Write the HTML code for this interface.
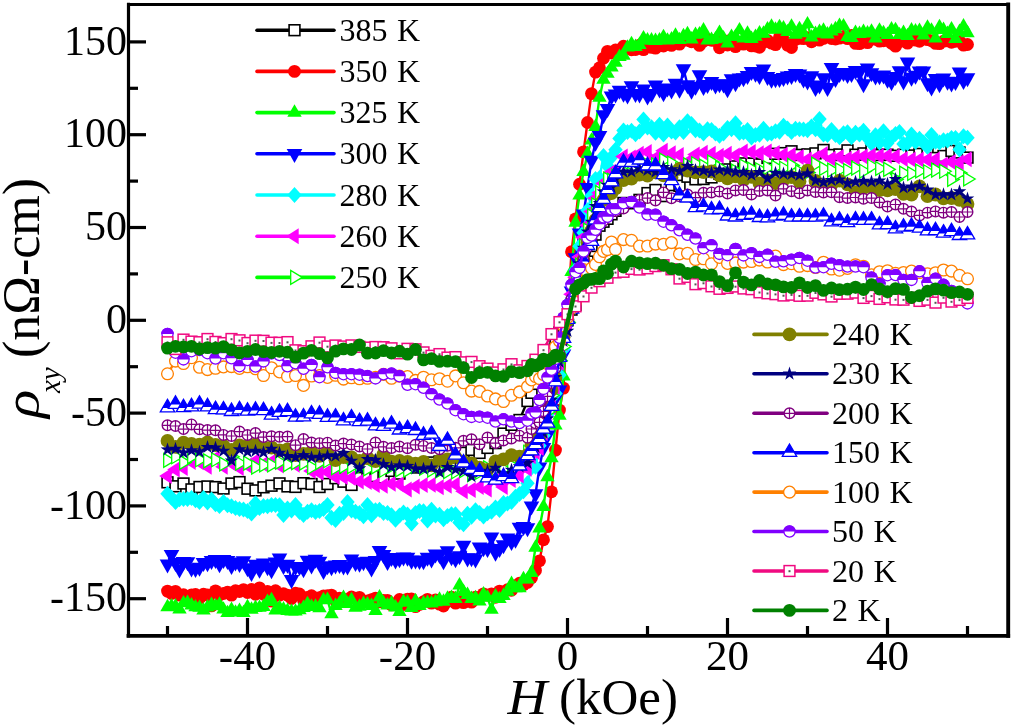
<!DOCTYPE html>
<html><head><meta charset="utf-8"><style>
html,body{margin:0;padding:0;background:#fff;}
svg{display:block;}
text{font-family:"Liberation Serif",serif;fill:#000;}
.tk{font-size:42px;}
.tkx{font-size:43px;}
.lg{font-size:32px;}
.ttl{font-size:50px;}
.ttly{font-size:52px;}
</style></head><body>
<svg width="1025" height="727" viewBox="0 0 1025 727">
<rect width="1025" height="727" fill="#fff"/>
<defs><clipPath id="cp"><rect x="130" y="6" width="876" height="628"/></clipPath></defs>
<g clip-path="url(#cp)">
<path d="M167.5 482.3L175.5 486.3L183.5 483.5L191.5 489.4L199.5 487.0L207.5 486.5L215.5 487.1L223.5 488.5L231.5 483.5L239.5 482.1L247.5 488.7L255.5 490.4L263.5 487.3L271.5 485.7L279.5 483.4L287.5 486.4L295.5 486.9L303.5 483.2L311.5 484.0L319.5 487.0L327.5 484.0L335.5 478.2L343.5 481.7L351.5 484.9L359.5 478.0L367.5 475.6L375.5 476.1L383.5 477.5L391.5 470.9L399.5 473.6L407.5 465.6L415.5 467.5L423.5 466.2L431.5 462.5L439.5 461.5L447.5 460.6L455.5 461.1L463.5 452.8L471.5 449.9L479.5 452.9L487.5 447.9L495.5 443.1L503.5 433.6L511.5 424.8L519.5 420.0L527.5 401.0L531.5 392.8L535.5 383.9L539.5 376.6L543.5 366.1L547.5 360.6L551.5 349.8L555.5 342.6L559.5 332.5L563.5 333.6L567.5 320.3L571.5 309.6L575.5 305.0L579.5 293.5L583.5 283.3L587.5 261.6L591.5 246.0L595.5 234.6L599.5 225.7L603.5 221.7L607.5 218.8L611.5 214.3L615.5 210.8L623.5 203.0L631.5 203.3L639.5 199.9L647.5 193.1L655.5 190.0L663.5 196.1L671.5 185.1L679.5 185.8L687.5 176.7L695.5 179.3L703.5 179.0L711.5 177.4L719.5 173.8L727.5 169.4L735.5 166.4L743.5 163.4L751.5 163.6L759.5 164.5L767.5 157.9L775.5 153.8L783.5 153.1L791.5 151.3L799.5 154.9L807.5 154.4L815.5 153.4L823.5 150.0L831.5 155.0L839.5 154.5L847.5 150.4L855.5 154.7L863.5 153.4L871.5 148.5L879.5 155.0L887.5 154.7L895.5 155.8L903.5 154.7L911.5 155.5L919.5 153.9L927.5 152.2L935.5 158.0L943.5 156.0L951.5 150.9L959.5 152.5L967.5 157.6" fill="none" stroke="#000000" stroke-width="2.4" stroke-linejoin="round"/>
<rect x="162.1" y="476.9" width="10.8" height="10.8" fill="#fff" stroke="#000000" stroke-width="1.6"/>
<rect x="170.1" y="480.9" width="10.8" height="10.8" fill="#fff" stroke="#000000" stroke-width="1.6"/>
<rect x="178.1" y="478.1" width="10.8" height="10.8" fill="#fff" stroke="#000000" stroke-width="1.6"/>
<rect x="186.1" y="484.0" width="10.8" height="10.8" fill="#fff" stroke="#000000" stroke-width="1.6"/>
<rect x="194.1" y="481.6" width="10.8" height="10.8" fill="#fff" stroke="#000000" stroke-width="1.6"/>
<rect x="202.1" y="481.1" width="10.8" height="10.8" fill="#fff" stroke="#000000" stroke-width="1.6"/>
<rect x="210.1" y="481.7" width="10.8" height="10.8" fill="#fff" stroke="#000000" stroke-width="1.6"/>
<rect x="218.1" y="483.1" width="10.8" height="10.8" fill="#fff" stroke="#000000" stroke-width="1.6"/>
<rect x="226.1" y="478.1" width="10.8" height="10.8" fill="#fff" stroke="#000000" stroke-width="1.6"/>
<rect x="234.1" y="476.7" width="10.8" height="10.8" fill="#fff" stroke="#000000" stroke-width="1.6"/>
<rect x="242.1" y="483.3" width="10.8" height="10.8" fill="#fff" stroke="#000000" stroke-width="1.6"/>
<rect x="250.1" y="485.0" width="10.8" height="10.8" fill="#fff" stroke="#000000" stroke-width="1.6"/>
<rect x="258.1" y="481.9" width="10.8" height="10.8" fill="#fff" stroke="#000000" stroke-width="1.6"/>
<rect x="266.1" y="480.3" width="10.8" height="10.8" fill="#fff" stroke="#000000" stroke-width="1.6"/>
<rect x="274.1" y="478.0" width="10.8" height="10.8" fill="#fff" stroke="#000000" stroke-width="1.6"/>
<rect x="282.1" y="481.0" width="10.8" height="10.8" fill="#fff" stroke="#000000" stroke-width="1.6"/>
<rect x="290.1" y="481.5" width="10.8" height="10.8" fill="#fff" stroke="#000000" stroke-width="1.6"/>
<rect x="298.1" y="477.8" width="10.8" height="10.8" fill="#fff" stroke="#000000" stroke-width="1.6"/>
<rect x="306.1" y="478.6" width="10.8" height="10.8" fill="#fff" stroke="#000000" stroke-width="1.6"/>
<rect x="314.1" y="481.6" width="10.8" height="10.8" fill="#fff" stroke="#000000" stroke-width="1.6"/>
<rect x="322.1" y="478.6" width="10.8" height="10.8" fill="#fff" stroke="#000000" stroke-width="1.6"/>
<rect x="330.1" y="472.8" width="10.8" height="10.8" fill="#fff" stroke="#000000" stroke-width="1.6"/>
<rect x="338.1" y="476.3" width="10.8" height="10.8" fill="#fff" stroke="#000000" stroke-width="1.6"/>
<rect x="346.1" y="479.5" width="10.8" height="10.8" fill="#fff" stroke="#000000" stroke-width="1.6"/>
<rect x="354.1" y="472.6" width="10.8" height="10.8" fill="#fff" stroke="#000000" stroke-width="1.6"/>
<rect x="362.1" y="470.2" width="10.8" height="10.8" fill="#fff" stroke="#000000" stroke-width="1.6"/>
<rect x="370.1" y="470.7" width="10.8" height="10.8" fill="#fff" stroke="#000000" stroke-width="1.6"/>
<rect x="378.1" y="472.1" width="10.8" height="10.8" fill="#fff" stroke="#000000" stroke-width="1.6"/>
<rect x="386.1" y="465.5" width="10.8" height="10.8" fill="#fff" stroke="#000000" stroke-width="1.6"/>
<rect x="394.1" y="468.2" width="10.8" height="10.8" fill="#fff" stroke="#000000" stroke-width="1.6"/>
<rect x="402.1" y="460.2" width="10.8" height="10.8" fill="#fff" stroke="#000000" stroke-width="1.6"/>
<rect x="410.1" y="462.1" width="10.8" height="10.8" fill="#fff" stroke="#000000" stroke-width="1.6"/>
<rect x="418.1" y="460.8" width="10.8" height="10.8" fill="#fff" stroke="#000000" stroke-width="1.6"/>
<rect x="426.1" y="457.1" width="10.8" height="10.8" fill="#fff" stroke="#000000" stroke-width="1.6"/>
<rect x="434.1" y="456.1" width="10.8" height="10.8" fill="#fff" stroke="#000000" stroke-width="1.6"/>
<rect x="442.1" y="455.2" width="10.8" height="10.8" fill="#fff" stroke="#000000" stroke-width="1.6"/>
<rect x="450.1" y="455.7" width="10.8" height="10.8" fill="#fff" stroke="#000000" stroke-width="1.6"/>
<rect x="458.1" y="447.4" width="10.8" height="10.8" fill="#fff" stroke="#000000" stroke-width="1.6"/>
<rect x="466.1" y="444.5" width="10.8" height="10.8" fill="#fff" stroke="#000000" stroke-width="1.6"/>
<rect x="474.1" y="447.5" width="10.8" height="10.8" fill="#fff" stroke="#000000" stroke-width="1.6"/>
<rect x="482.1" y="442.5" width="10.8" height="10.8" fill="#fff" stroke="#000000" stroke-width="1.6"/>
<rect x="490.1" y="437.7" width="10.8" height="10.8" fill="#fff" stroke="#000000" stroke-width="1.6"/>
<rect x="498.1" y="428.2" width="10.8" height="10.8" fill="#fff" stroke="#000000" stroke-width="1.6"/>
<rect x="506.1" y="419.4" width="10.8" height="10.8" fill="#fff" stroke="#000000" stroke-width="1.6"/>
<rect x="514.1" y="414.6" width="10.8" height="10.8" fill="#fff" stroke="#000000" stroke-width="1.6"/>
<rect x="522.1" y="395.6" width="10.8" height="10.8" fill="#fff" stroke="#000000" stroke-width="1.6"/>
<rect x="526.1" y="387.4" width="10.8" height="10.8" fill="#fff" stroke="#000000" stroke-width="1.6"/>
<rect x="530.1" y="378.5" width="10.8" height="10.8" fill="#fff" stroke="#000000" stroke-width="1.6"/>
<rect x="534.1" y="371.2" width="10.8" height="10.8" fill="#fff" stroke="#000000" stroke-width="1.6"/>
<rect x="538.1" y="360.7" width="10.8" height="10.8" fill="#fff" stroke="#000000" stroke-width="1.6"/>
<rect x="542.1" y="355.2" width="10.8" height="10.8" fill="#fff" stroke="#000000" stroke-width="1.6"/>
<rect x="546.1" y="344.4" width="10.8" height="10.8" fill="#fff" stroke="#000000" stroke-width="1.6"/>
<rect x="550.1" y="337.2" width="10.8" height="10.8" fill="#fff" stroke="#000000" stroke-width="1.6"/>
<rect x="554.1" y="327.1" width="10.8" height="10.8" fill="#fff" stroke="#000000" stroke-width="1.6"/>
<rect x="558.1" y="328.2" width="10.8" height="10.8" fill="#fff" stroke="#000000" stroke-width="1.6"/>
<rect x="562.1" y="314.9" width="10.8" height="10.8" fill="#fff" stroke="#000000" stroke-width="1.6"/>
<rect x="566.1" y="304.2" width="10.8" height="10.8" fill="#fff" stroke="#000000" stroke-width="1.6"/>
<rect x="570.1" y="299.6" width="10.8" height="10.8" fill="#fff" stroke="#000000" stroke-width="1.6"/>
<rect x="574.1" y="288.1" width="10.8" height="10.8" fill="#fff" stroke="#000000" stroke-width="1.6"/>
<rect x="578.1" y="277.9" width="10.8" height="10.8" fill="#fff" stroke="#000000" stroke-width="1.6"/>
<rect x="582.1" y="256.2" width="10.8" height="10.8" fill="#fff" stroke="#000000" stroke-width="1.6"/>
<rect x="586.1" y="240.6" width="10.8" height="10.8" fill="#fff" stroke="#000000" stroke-width="1.6"/>
<rect x="590.1" y="229.2" width="10.8" height="10.8" fill="#fff" stroke="#000000" stroke-width="1.6"/>
<rect x="594.1" y="220.3" width="10.8" height="10.8" fill="#fff" stroke="#000000" stroke-width="1.6"/>
<rect x="598.1" y="216.3" width="10.8" height="10.8" fill="#fff" stroke="#000000" stroke-width="1.6"/>
<rect x="602.1" y="213.4" width="10.8" height="10.8" fill="#fff" stroke="#000000" stroke-width="1.6"/>
<rect x="606.1" y="208.9" width="10.8" height="10.8" fill="#fff" stroke="#000000" stroke-width="1.6"/>
<rect x="610.1" y="205.4" width="10.8" height="10.8" fill="#fff" stroke="#000000" stroke-width="1.6"/>
<rect x="618.1" y="197.6" width="10.8" height="10.8" fill="#fff" stroke="#000000" stroke-width="1.6"/>
<rect x="626.1" y="197.9" width="10.8" height="10.8" fill="#fff" stroke="#000000" stroke-width="1.6"/>
<rect x="634.1" y="194.5" width="10.8" height="10.8" fill="#fff" stroke="#000000" stroke-width="1.6"/>
<rect x="642.1" y="187.7" width="10.8" height="10.8" fill="#fff" stroke="#000000" stroke-width="1.6"/>
<rect x="650.1" y="184.6" width="10.8" height="10.8" fill="#fff" stroke="#000000" stroke-width="1.6"/>
<rect x="658.1" y="190.7" width="10.8" height="10.8" fill="#fff" stroke="#000000" stroke-width="1.6"/>
<rect x="666.1" y="179.7" width="10.8" height="10.8" fill="#fff" stroke="#000000" stroke-width="1.6"/>
<rect x="674.1" y="180.4" width="10.8" height="10.8" fill="#fff" stroke="#000000" stroke-width="1.6"/>
<rect x="682.1" y="171.3" width="10.8" height="10.8" fill="#fff" stroke="#000000" stroke-width="1.6"/>
<rect x="690.1" y="173.9" width="10.8" height="10.8" fill="#fff" stroke="#000000" stroke-width="1.6"/>
<rect x="698.1" y="173.6" width="10.8" height="10.8" fill="#fff" stroke="#000000" stroke-width="1.6"/>
<rect x="706.1" y="172.0" width="10.8" height="10.8" fill="#fff" stroke="#000000" stroke-width="1.6"/>
<rect x="714.1" y="168.4" width="10.8" height="10.8" fill="#fff" stroke="#000000" stroke-width="1.6"/>
<rect x="722.1" y="164.0" width="10.8" height="10.8" fill="#fff" stroke="#000000" stroke-width="1.6"/>
<rect x="730.1" y="161.0" width="10.8" height="10.8" fill="#fff" stroke="#000000" stroke-width="1.6"/>
<rect x="738.1" y="158.0" width="10.8" height="10.8" fill="#fff" stroke="#000000" stroke-width="1.6"/>
<rect x="746.1" y="158.2" width="10.8" height="10.8" fill="#fff" stroke="#000000" stroke-width="1.6"/>
<rect x="754.1" y="159.1" width="10.8" height="10.8" fill="#fff" stroke="#000000" stroke-width="1.6"/>
<rect x="762.1" y="152.5" width="10.8" height="10.8" fill="#fff" stroke="#000000" stroke-width="1.6"/>
<rect x="770.1" y="148.4" width="10.8" height="10.8" fill="#fff" stroke="#000000" stroke-width="1.6"/>
<rect x="778.1" y="147.7" width="10.8" height="10.8" fill="#fff" stroke="#000000" stroke-width="1.6"/>
<rect x="786.1" y="145.9" width="10.8" height="10.8" fill="#fff" stroke="#000000" stroke-width="1.6"/>
<rect x="794.1" y="149.5" width="10.8" height="10.8" fill="#fff" stroke="#000000" stroke-width="1.6"/>
<rect x="802.1" y="149.0" width="10.8" height="10.8" fill="#fff" stroke="#000000" stroke-width="1.6"/>
<rect x="810.1" y="148.0" width="10.8" height="10.8" fill="#fff" stroke="#000000" stroke-width="1.6"/>
<rect x="818.1" y="144.6" width="10.8" height="10.8" fill="#fff" stroke="#000000" stroke-width="1.6"/>
<rect x="826.1" y="149.6" width="10.8" height="10.8" fill="#fff" stroke="#000000" stroke-width="1.6"/>
<rect x="834.1" y="149.1" width="10.8" height="10.8" fill="#fff" stroke="#000000" stroke-width="1.6"/>
<rect x="842.1" y="145.0" width="10.8" height="10.8" fill="#fff" stroke="#000000" stroke-width="1.6"/>
<rect x="850.1" y="149.3" width="10.8" height="10.8" fill="#fff" stroke="#000000" stroke-width="1.6"/>
<rect x="858.1" y="148.0" width="10.8" height="10.8" fill="#fff" stroke="#000000" stroke-width="1.6"/>
<rect x="866.1" y="143.1" width="10.8" height="10.8" fill="#fff" stroke="#000000" stroke-width="1.6"/>
<rect x="874.1" y="149.6" width="10.8" height="10.8" fill="#fff" stroke="#000000" stroke-width="1.6"/>
<rect x="882.1" y="149.3" width="10.8" height="10.8" fill="#fff" stroke="#000000" stroke-width="1.6"/>
<rect x="890.1" y="150.4" width="10.8" height="10.8" fill="#fff" stroke="#000000" stroke-width="1.6"/>
<rect x="898.1" y="149.3" width="10.8" height="10.8" fill="#fff" stroke="#000000" stroke-width="1.6"/>
<rect x="906.1" y="150.1" width="10.8" height="10.8" fill="#fff" stroke="#000000" stroke-width="1.6"/>
<rect x="914.1" y="148.5" width="10.8" height="10.8" fill="#fff" stroke="#000000" stroke-width="1.6"/>
<rect x="922.1" y="146.8" width="10.8" height="10.8" fill="#fff" stroke="#000000" stroke-width="1.6"/>
<rect x="930.1" y="152.6" width="10.8" height="10.8" fill="#fff" stroke="#000000" stroke-width="1.6"/>
<rect x="938.1" y="150.6" width="10.8" height="10.8" fill="#fff" stroke="#000000" stroke-width="1.6"/>
<rect x="946.1" y="145.5" width="10.8" height="10.8" fill="#fff" stroke="#000000" stroke-width="1.6"/>
<rect x="954.1" y="147.1" width="10.8" height="10.8" fill="#fff" stroke="#000000" stroke-width="1.6"/>
<rect x="962.1" y="152.2" width="10.8" height="10.8" fill="#fff" stroke="#000000" stroke-width="1.6"/>
<path d="M167.5 591.1L171.5 593.5L175.5 591.3L179.5 595.1L183.5 594.7L187.5 597.9L191.5 595.0L195.5 594.5L199.5 598.2L203.5 594.2L207.5 595.0L211.5 605.9L215.5 590.8L219.5 595.0L223.5 593.5L227.5 592.2L231.5 595.1L235.5 590.7L239.5 591.5L243.5 589.6L247.5 592.5L251.5 589.5L255.5 594.3L259.5 587.8L263.5 594.3L267.5 591.3L271.5 601.1L275.5 590.7L279.5 595.1L283.5 593.7L287.5 595.1L291.5 598.5L295.5 593.2L299.5 594.0L303.5 600.3L307.5 597.4L311.5 595.7L315.5 603.9L319.5 597.6L323.5 596.0L327.5 595.6L331.5 595.1L335.5 600.7L339.5 598.2L343.5 599.8L347.5 599.4L351.5 597.0L355.5 598.2L359.5 597.3L363.5 601.8L367.5 600.9L371.5 599.6L375.5 598.1L379.5 601.9L383.5 600.4L387.5 600.4L391.5 604.9L395.5 603.6L399.5 599.5L403.5 604.6L407.5 599.1L411.5 598.8L415.5 606.6L419.5 604.4L423.5 601.7L427.5 599.3L431.5 603.2L435.5 600.0L439.5 604.1L443.5 606.0L447.5 601.4L451.5 597.2L455.5 603.1L459.5 601.9L463.5 602.7L467.5 597.5L471.5 602.2L475.5 597.2L479.5 597.8L483.5 593.9L487.5 595.2L491.5 593.9L495.5 597.3L499.5 591.1L503.5 592.3L507.5 589.7L511.5 590.3L515.5 585.7L519.5 583.2L523.5 584.6L527.5 582.4L531.5 577.7L535.5 570.4L539.5 560.8L543.5 539.8L547.5 526.6L551.5 491.8L555.5 450.1L559.5 410.1L563.5 388.1L567.5 316.5L571.5 251.7L575.5 218.9L579.5 184.2L583.5 151.9L587.5 122.5L591.5 93.6L595.5 72.1L599.5 67.7L603.5 58.2L607.5 51.4L611.5 53.0L615.5 50.0L619.5 49.8L623.5 46.2L627.5 48.5L631.5 49.8L635.5 49.5L639.5 45.2L643.5 49.7L647.5 43.3L651.5 47.4L655.5 48.2L659.5 42.5L663.5 46.0L667.5 44.2L671.5 45.4L675.5 42.0L679.5 44.1L683.5 40.1L687.5 40.3L691.5 41.8L695.5 39.0L699.5 45.4L703.5 41.1L707.5 39.5L711.5 40.3L715.5 40.6L719.5 47.8L723.5 40.3L727.5 45.0L731.5 39.5L735.5 46.6L739.5 42.9L743.5 44.2L747.5 43.0L751.5 45.9L755.5 46.0L759.5 47.3L763.5 42.2L767.5 40.3L771.5 43.2L775.5 44.7L779.5 36.7L783.5 39.7L787.5 45.1L791.5 47.5L795.5 39.5L799.5 38.3L803.5 38.6L807.5 37.6L811.5 41.8L815.5 39.4L819.5 40.2L823.5 38.4L827.5 36.3L831.5 38.5L835.5 39.0L839.5 38.2L843.5 36.5L847.5 38.7L851.5 35.4L855.5 43.4L859.5 43.6L863.5 41.9L867.5 42.7L871.5 38.7L875.5 39.3L879.5 41.2L883.5 40.8L887.5 39.6L891.5 43.3L895.5 46.2L899.5 41.7L903.5 37.4L907.5 43.1L911.5 37.3L915.5 40.1L919.5 41.3L923.5 35.7L927.5 39.6L931.5 40.8L935.5 43.4L939.5 43.7L943.5 41.2L947.5 40.9L951.5 42.3L955.5 41.3L959.5 41.0L963.5 45.2L967.5 44.5" fill="none" stroke="#ff0000" stroke-width="2.4" stroke-linejoin="round"/>
<circle cx="167.5" cy="591.1" r="6.4" fill="#ff0000"/>
<circle cx="171.5" cy="593.5" r="6.4" fill="#ff0000"/>
<circle cx="175.5" cy="591.3" r="6.4" fill="#ff0000"/>
<circle cx="179.5" cy="595.1" r="6.4" fill="#ff0000"/>
<circle cx="183.5" cy="594.7" r="6.4" fill="#ff0000"/>
<circle cx="187.5" cy="597.9" r="6.4" fill="#ff0000"/>
<circle cx="191.5" cy="595.0" r="6.4" fill="#ff0000"/>
<circle cx="195.5" cy="594.5" r="6.4" fill="#ff0000"/>
<circle cx="199.5" cy="598.2" r="6.4" fill="#ff0000"/>
<circle cx="203.5" cy="594.2" r="6.4" fill="#ff0000"/>
<circle cx="207.5" cy="595.0" r="6.4" fill="#ff0000"/>
<circle cx="211.5" cy="605.9" r="6.4" fill="#ff0000"/>
<circle cx="215.5" cy="590.8" r="6.4" fill="#ff0000"/>
<circle cx="219.5" cy="595.0" r="6.4" fill="#ff0000"/>
<circle cx="223.5" cy="593.5" r="6.4" fill="#ff0000"/>
<circle cx="227.5" cy="592.2" r="6.4" fill="#ff0000"/>
<circle cx="231.5" cy="595.1" r="6.4" fill="#ff0000"/>
<circle cx="235.5" cy="590.7" r="6.4" fill="#ff0000"/>
<circle cx="239.5" cy="591.5" r="6.4" fill="#ff0000"/>
<circle cx="243.5" cy="589.6" r="6.4" fill="#ff0000"/>
<circle cx="247.5" cy="592.5" r="6.4" fill="#ff0000"/>
<circle cx="251.5" cy="589.5" r="6.4" fill="#ff0000"/>
<circle cx="255.5" cy="594.3" r="6.4" fill="#ff0000"/>
<circle cx="259.5" cy="587.8" r="6.4" fill="#ff0000"/>
<circle cx="263.5" cy="594.3" r="6.4" fill="#ff0000"/>
<circle cx="267.5" cy="591.3" r="6.4" fill="#ff0000"/>
<circle cx="271.5" cy="601.1" r="6.4" fill="#ff0000"/>
<circle cx="275.5" cy="590.7" r="6.4" fill="#ff0000"/>
<circle cx="279.5" cy="595.1" r="6.4" fill="#ff0000"/>
<circle cx="283.5" cy="593.7" r="6.4" fill="#ff0000"/>
<circle cx="287.5" cy="595.1" r="6.4" fill="#ff0000"/>
<circle cx="291.5" cy="598.5" r="6.4" fill="#ff0000"/>
<circle cx="295.5" cy="593.2" r="6.4" fill="#ff0000"/>
<circle cx="299.5" cy="594.0" r="6.4" fill="#ff0000"/>
<circle cx="303.5" cy="600.3" r="6.4" fill="#ff0000"/>
<circle cx="307.5" cy="597.4" r="6.4" fill="#ff0000"/>
<circle cx="311.5" cy="595.7" r="6.4" fill="#ff0000"/>
<circle cx="315.5" cy="603.9" r="6.4" fill="#ff0000"/>
<circle cx="319.5" cy="597.6" r="6.4" fill="#ff0000"/>
<circle cx="323.5" cy="596.0" r="6.4" fill="#ff0000"/>
<circle cx="327.5" cy="595.6" r="6.4" fill="#ff0000"/>
<circle cx="331.5" cy="595.1" r="6.4" fill="#ff0000"/>
<circle cx="335.5" cy="600.7" r="6.4" fill="#ff0000"/>
<circle cx="339.5" cy="598.2" r="6.4" fill="#ff0000"/>
<circle cx="343.5" cy="599.8" r="6.4" fill="#ff0000"/>
<circle cx="347.5" cy="599.4" r="6.4" fill="#ff0000"/>
<circle cx="351.5" cy="597.0" r="6.4" fill="#ff0000"/>
<circle cx="355.5" cy="598.2" r="6.4" fill="#ff0000"/>
<circle cx="359.5" cy="597.3" r="6.4" fill="#ff0000"/>
<circle cx="363.5" cy="601.8" r="6.4" fill="#ff0000"/>
<circle cx="367.5" cy="600.9" r="6.4" fill="#ff0000"/>
<circle cx="371.5" cy="599.6" r="6.4" fill="#ff0000"/>
<circle cx="375.5" cy="598.1" r="6.4" fill="#ff0000"/>
<circle cx="379.5" cy="601.9" r="6.4" fill="#ff0000"/>
<circle cx="383.5" cy="600.4" r="6.4" fill="#ff0000"/>
<circle cx="387.5" cy="600.4" r="6.4" fill="#ff0000"/>
<circle cx="391.5" cy="604.9" r="6.4" fill="#ff0000"/>
<circle cx="395.5" cy="603.6" r="6.4" fill="#ff0000"/>
<circle cx="399.5" cy="599.5" r="6.4" fill="#ff0000"/>
<circle cx="403.5" cy="604.6" r="6.4" fill="#ff0000"/>
<circle cx="407.5" cy="599.1" r="6.4" fill="#ff0000"/>
<circle cx="411.5" cy="598.8" r="6.4" fill="#ff0000"/>
<circle cx="415.5" cy="606.6" r="6.4" fill="#ff0000"/>
<circle cx="419.5" cy="604.4" r="6.4" fill="#ff0000"/>
<circle cx="423.5" cy="601.7" r="6.4" fill="#ff0000"/>
<circle cx="427.5" cy="599.3" r="6.4" fill="#ff0000"/>
<circle cx="431.5" cy="603.2" r="6.4" fill="#ff0000"/>
<circle cx="435.5" cy="600.0" r="6.4" fill="#ff0000"/>
<circle cx="439.5" cy="604.1" r="6.4" fill="#ff0000"/>
<circle cx="443.5" cy="606.0" r="6.4" fill="#ff0000"/>
<circle cx="447.5" cy="601.4" r="6.4" fill="#ff0000"/>
<circle cx="451.5" cy="597.2" r="6.4" fill="#ff0000"/>
<circle cx="455.5" cy="603.1" r="6.4" fill="#ff0000"/>
<circle cx="459.5" cy="601.9" r="6.4" fill="#ff0000"/>
<circle cx="463.5" cy="602.7" r="6.4" fill="#ff0000"/>
<circle cx="467.5" cy="597.5" r="6.4" fill="#ff0000"/>
<circle cx="471.5" cy="602.2" r="6.4" fill="#ff0000"/>
<circle cx="475.5" cy="597.2" r="6.4" fill="#ff0000"/>
<circle cx="479.5" cy="597.8" r="6.4" fill="#ff0000"/>
<circle cx="483.5" cy="593.9" r="6.4" fill="#ff0000"/>
<circle cx="487.5" cy="595.2" r="6.4" fill="#ff0000"/>
<circle cx="491.5" cy="593.9" r="6.4" fill="#ff0000"/>
<circle cx="495.5" cy="597.3" r="6.4" fill="#ff0000"/>
<circle cx="499.5" cy="591.1" r="6.4" fill="#ff0000"/>
<circle cx="503.5" cy="592.3" r="6.4" fill="#ff0000"/>
<circle cx="507.5" cy="589.7" r="6.4" fill="#ff0000"/>
<circle cx="511.5" cy="590.3" r="6.4" fill="#ff0000"/>
<circle cx="515.5" cy="585.7" r="6.4" fill="#ff0000"/>
<circle cx="519.5" cy="583.2" r="6.4" fill="#ff0000"/>
<circle cx="523.5" cy="584.6" r="6.4" fill="#ff0000"/>
<circle cx="527.5" cy="582.4" r="6.4" fill="#ff0000"/>
<circle cx="531.5" cy="577.7" r="6.4" fill="#ff0000"/>
<circle cx="535.5" cy="570.4" r="6.4" fill="#ff0000"/>
<circle cx="539.5" cy="560.8" r="6.4" fill="#ff0000"/>
<circle cx="543.5" cy="539.8" r="6.4" fill="#ff0000"/>
<circle cx="547.5" cy="526.6" r="6.4" fill="#ff0000"/>
<circle cx="551.5" cy="491.8" r="6.4" fill="#ff0000"/>
<circle cx="555.5" cy="450.1" r="6.4" fill="#ff0000"/>
<circle cx="559.5" cy="410.1" r="6.4" fill="#ff0000"/>
<circle cx="563.5" cy="388.1" r="6.4" fill="#ff0000"/>
<circle cx="567.5" cy="316.5" r="6.4" fill="#ff0000"/>
<circle cx="571.5" cy="251.7" r="6.4" fill="#ff0000"/>
<circle cx="575.5" cy="218.9" r="6.4" fill="#ff0000"/>
<circle cx="579.5" cy="184.2" r="6.4" fill="#ff0000"/>
<circle cx="583.5" cy="151.9" r="6.4" fill="#ff0000"/>
<circle cx="587.5" cy="122.5" r="6.4" fill="#ff0000"/>
<circle cx="591.5" cy="93.6" r="6.4" fill="#ff0000"/>
<circle cx="595.5" cy="72.1" r="6.4" fill="#ff0000"/>
<circle cx="599.5" cy="67.7" r="6.4" fill="#ff0000"/>
<circle cx="603.5" cy="58.2" r="6.4" fill="#ff0000"/>
<circle cx="607.5" cy="51.4" r="6.4" fill="#ff0000"/>
<circle cx="611.5" cy="53.0" r="6.4" fill="#ff0000"/>
<circle cx="615.5" cy="50.0" r="6.4" fill="#ff0000"/>
<circle cx="619.5" cy="49.8" r="6.4" fill="#ff0000"/>
<circle cx="623.5" cy="46.2" r="6.4" fill="#ff0000"/>
<circle cx="627.5" cy="48.5" r="6.4" fill="#ff0000"/>
<circle cx="631.5" cy="49.8" r="6.4" fill="#ff0000"/>
<circle cx="635.5" cy="49.5" r="6.4" fill="#ff0000"/>
<circle cx="639.5" cy="45.2" r="6.4" fill="#ff0000"/>
<circle cx="643.5" cy="49.7" r="6.4" fill="#ff0000"/>
<circle cx="647.5" cy="43.3" r="6.4" fill="#ff0000"/>
<circle cx="651.5" cy="47.4" r="6.4" fill="#ff0000"/>
<circle cx="655.5" cy="48.2" r="6.4" fill="#ff0000"/>
<circle cx="659.5" cy="42.5" r="6.4" fill="#ff0000"/>
<circle cx="663.5" cy="46.0" r="6.4" fill="#ff0000"/>
<circle cx="667.5" cy="44.2" r="6.4" fill="#ff0000"/>
<circle cx="671.5" cy="45.4" r="6.4" fill="#ff0000"/>
<circle cx="675.5" cy="42.0" r="6.4" fill="#ff0000"/>
<circle cx="679.5" cy="44.1" r="6.4" fill="#ff0000"/>
<circle cx="683.5" cy="40.1" r="6.4" fill="#ff0000"/>
<circle cx="687.5" cy="40.3" r="6.4" fill="#ff0000"/>
<circle cx="691.5" cy="41.8" r="6.4" fill="#ff0000"/>
<circle cx="695.5" cy="39.0" r="6.4" fill="#ff0000"/>
<circle cx="699.5" cy="45.4" r="6.4" fill="#ff0000"/>
<circle cx="703.5" cy="41.1" r="6.4" fill="#ff0000"/>
<circle cx="707.5" cy="39.5" r="6.4" fill="#ff0000"/>
<circle cx="711.5" cy="40.3" r="6.4" fill="#ff0000"/>
<circle cx="715.5" cy="40.6" r="6.4" fill="#ff0000"/>
<circle cx="719.5" cy="47.8" r="6.4" fill="#ff0000"/>
<circle cx="723.5" cy="40.3" r="6.4" fill="#ff0000"/>
<circle cx="727.5" cy="45.0" r="6.4" fill="#ff0000"/>
<circle cx="731.5" cy="39.5" r="6.4" fill="#ff0000"/>
<circle cx="735.5" cy="46.6" r="6.4" fill="#ff0000"/>
<circle cx="739.5" cy="42.9" r="6.4" fill="#ff0000"/>
<circle cx="743.5" cy="44.2" r="6.4" fill="#ff0000"/>
<circle cx="747.5" cy="43.0" r="6.4" fill="#ff0000"/>
<circle cx="751.5" cy="45.9" r="6.4" fill="#ff0000"/>
<circle cx="755.5" cy="46.0" r="6.4" fill="#ff0000"/>
<circle cx="759.5" cy="47.3" r="6.4" fill="#ff0000"/>
<circle cx="763.5" cy="42.2" r="6.4" fill="#ff0000"/>
<circle cx="767.5" cy="40.3" r="6.4" fill="#ff0000"/>
<circle cx="771.5" cy="43.2" r="6.4" fill="#ff0000"/>
<circle cx="775.5" cy="44.7" r="6.4" fill="#ff0000"/>
<circle cx="779.5" cy="36.7" r="6.4" fill="#ff0000"/>
<circle cx="783.5" cy="39.7" r="6.4" fill="#ff0000"/>
<circle cx="787.5" cy="45.1" r="6.4" fill="#ff0000"/>
<circle cx="791.5" cy="47.5" r="6.4" fill="#ff0000"/>
<circle cx="795.5" cy="39.5" r="6.4" fill="#ff0000"/>
<circle cx="799.5" cy="38.3" r="6.4" fill="#ff0000"/>
<circle cx="803.5" cy="38.6" r="6.4" fill="#ff0000"/>
<circle cx="807.5" cy="37.6" r="6.4" fill="#ff0000"/>
<circle cx="811.5" cy="41.8" r="6.4" fill="#ff0000"/>
<circle cx="815.5" cy="39.4" r="6.4" fill="#ff0000"/>
<circle cx="819.5" cy="40.2" r="6.4" fill="#ff0000"/>
<circle cx="823.5" cy="38.4" r="6.4" fill="#ff0000"/>
<circle cx="827.5" cy="36.3" r="6.4" fill="#ff0000"/>
<circle cx="831.5" cy="38.5" r="6.4" fill="#ff0000"/>
<circle cx="835.5" cy="39.0" r="6.4" fill="#ff0000"/>
<circle cx="839.5" cy="38.2" r="6.4" fill="#ff0000"/>
<circle cx="843.5" cy="36.5" r="6.4" fill="#ff0000"/>
<circle cx="847.5" cy="38.7" r="6.4" fill="#ff0000"/>
<circle cx="851.5" cy="35.4" r="6.4" fill="#ff0000"/>
<circle cx="855.5" cy="43.4" r="6.4" fill="#ff0000"/>
<circle cx="859.5" cy="43.6" r="6.4" fill="#ff0000"/>
<circle cx="863.5" cy="41.9" r="6.4" fill="#ff0000"/>
<circle cx="867.5" cy="42.7" r="6.4" fill="#ff0000"/>
<circle cx="871.5" cy="38.7" r="6.4" fill="#ff0000"/>
<circle cx="875.5" cy="39.3" r="6.4" fill="#ff0000"/>
<circle cx="879.5" cy="41.2" r="6.4" fill="#ff0000"/>
<circle cx="883.5" cy="40.8" r="6.4" fill="#ff0000"/>
<circle cx="887.5" cy="39.6" r="6.4" fill="#ff0000"/>
<circle cx="891.5" cy="43.3" r="6.4" fill="#ff0000"/>
<circle cx="895.5" cy="46.2" r="6.4" fill="#ff0000"/>
<circle cx="899.5" cy="41.7" r="6.4" fill="#ff0000"/>
<circle cx="903.5" cy="37.4" r="6.4" fill="#ff0000"/>
<circle cx="907.5" cy="43.1" r="6.4" fill="#ff0000"/>
<circle cx="911.5" cy="37.3" r="6.4" fill="#ff0000"/>
<circle cx="915.5" cy="40.1" r="6.4" fill="#ff0000"/>
<circle cx="919.5" cy="41.3" r="6.4" fill="#ff0000"/>
<circle cx="923.5" cy="35.7" r="6.4" fill="#ff0000"/>
<circle cx="927.5" cy="39.6" r="6.4" fill="#ff0000"/>
<circle cx="931.5" cy="40.8" r="6.4" fill="#ff0000"/>
<circle cx="935.5" cy="43.4" r="6.4" fill="#ff0000"/>
<circle cx="939.5" cy="43.7" r="6.4" fill="#ff0000"/>
<circle cx="943.5" cy="41.2" r="6.4" fill="#ff0000"/>
<circle cx="947.5" cy="40.9" r="6.4" fill="#ff0000"/>
<circle cx="951.5" cy="42.3" r="6.4" fill="#ff0000"/>
<circle cx="955.5" cy="41.3" r="6.4" fill="#ff0000"/>
<circle cx="959.5" cy="41.0" r="6.4" fill="#ff0000"/>
<circle cx="963.5" cy="45.2" r="6.4" fill="#ff0000"/>
<circle cx="967.5" cy="44.5" r="6.4" fill="#ff0000"/>
<path d="M167.5 607.0L171.5 606.2L175.5 606.2L179.5 609.5L183.5 603.2L187.5 602.9L191.5 605.4L195.5 607.1L199.5 607.7L203.5 610.4L207.5 607.4L211.5 604.7L215.5 606.1L219.5 604.6L223.5 609.5L227.5 613.0L231.5 609.7L235.5 612.5L239.5 610.7L243.5 613.0L247.5 607.1L251.5 609.6L255.5 607.9L259.5 607.7L263.5 606.8L267.5 601.9L271.5 600.1L275.5 610.4L279.5 607.7L283.5 609.3L287.5 610.9L291.5 611.4L295.5 611.5L299.5 610.2L303.5 607.9L307.5 604.0L311.5 606.9L315.5 606.4L319.5 608.0L323.5 600.1L327.5 599.7L331.5 614.1L335.5 605.7L339.5 603.5L343.5 597.6L347.5 603.8L351.5 600.1L355.5 607.6L359.5 606.6L363.5 603.9L367.5 604.2L371.5 605.8L375.5 610.7L379.5 597.2L383.5 603.1L387.5 605.2L391.5 603.4L395.5 607.4L399.5 612.0L403.5 601.9L407.5 602.5L411.5 607.9L415.5 601.1L419.5 605.7L423.5 603.4L427.5 602.8L431.5 603.2L435.5 602.1L439.5 599.6L443.5 601.6L447.5 598.5L451.5 597.8L455.5 598.9L459.5 585.3L463.5 591.9L467.5 594.8L471.5 598.9L475.5 598.0L479.5 601.4L483.5 594.4L487.5 597.5L491.5 609.7L495.5 596.2L499.5 598.9L503.5 595.9L507.5 591.6L511.5 583.9L515.5 588.2L519.5 588.1L523.5 579.1L527.5 579.5L531.5 572.9L535.5 547.5L539.5 528.3L543.5 506.8L547.5 477.1L551.5 458.1L555.5 425.4L559.5 415.6L563.5 376.2L567.5 318.9L571.5 271.7L575.5 222.5L579.5 195.4L583.5 171.9L587.5 153.9L591.5 140.5L595.5 126.9L599.5 97.7L603.5 79.6L607.5 73.7L611.5 67.5L615.5 62.6L619.5 56.8L623.5 55.6L627.5 47.5L631.5 44.0L635.5 46.8L639.5 44.8L643.5 38.1L647.5 40.4L651.5 40.4L655.5 40.7L659.5 40.2L663.5 37.0L667.5 40.5L671.5 39.3L675.5 35.6L679.5 39.9L683.5 36.1L687.5 34.1L691.5 39.3L695.5 34.6L699.5 34.2L703.5 30.3L707.5 40.4L711.5 39.8L715.5 39.2L719.5 32.7L723.5 38.3L727.5 43.3L731.5 36.6L735.5 36.7L739.5 30.2L743.5 38.2L747.5 33.5L751.5 38.9L755.5 36.7L759.5 33.2L763.5 33.5L767.5 29.3L771.5 26.5L775.5 29.5L779.5 26.9L783.5 28.2L787.5 31.9L791.5 26.5L795.5 34.6L799.5 28.9L803.5 33.1L807.5 24.1L811.5 37.4L815.5 33.7L819.5 31.8L823.5 30.6L827.5 34.4L831.5 31.3L835.5 29.0L839.5 25.7L843.5 26.1L847.5 36.8L851.5 38.0L855.5 32.7L859.5 33.8L863.5 31.8L867.5 33.3L871.5 31.5L875.5 38.4L879.5 30.4L883.5 33.1L887.5 34.7L891.5 29.3L895.5 30.0L899.5 35.0L903.5 32.8L907.5 36.0L911.5 30.2L915.5 31.4L919.5 30.7L923.5 35.4L927.5 27.5L931.5 30.4L935.5 38.5L939.5 27.0L943.5 29.8L947.5 33.8L951.5 29.2L955.5 38.9L959.5 31.9L963.5 26.3L967.5 33.0" fill="none" stroke="#00ff00" stroke-width="2.4" stroke-linejoin="round"/>
<path d="M167.5 598.8L174.7 611.2L160.3 611.2Z" fill="#00ff00"/>
<path d="M171.5 597.9L178.7 610.3L164.3 610.3Z" fill="#00ff00"/>
<path d="M175.5 598.0L182.7 610.4L168.3 610.4Z" fill="#00ff00"/>
<path d="M179.5 601.2L186.7 613.6L172.3 613.6Z" fill="#00ff00"/>
<path d="M183.5 594.9L190.7 607.3L176.3 607.3Z" fill="#00ff00"/>
<path d="M187.5 594.6L194.7 607.0L180.3 607.0Z" fill="#00ff00"/>
<path d="M191.5 597.1L198.7 609.5L184.3 609.5Z" fill="#00ff00"/>
<path d="M195.5 598.9L202.7 611.3L188.3 611.3Z" fill="#00ff00"/>
<path d="M199.5 599.4L206.7 611.8L192.3 611.8Z" fill="#00ff00"/>
<path d="M203.5 602.1L210.7 614.5L196.3 614.5Z" fill="#00ff00"/>
<path d="M207.5 599.1L214.7 611.5L200.3 611.5Z" fill="#00ff00"/>
<path d="M211.5 596.4L218.7 608.8L204.3 608.8Z" fill="#00ff00"/>
<path d="M215.5 597.9L222.7 610.3L208.3 610.3Z" fill="#00ff00"/>
<path d="M219.5 596.3L226.7 608.7L212.3 608.7Z" fill="#00ff00"/>
<path d="M223.5 601.2L230.7 613.6L216.3 613.6Z" fill="#00ff00"/>
<path d="M227.5 604.7L234.7 617.1L220.3 617.1Z" fill="#00ff00"/>
<path d="M231.5 601.4L238.7 613.8L224.3 613.8Z" fill="#00ff00"/>
<path d="M235.5 604.2L242.7 616.6L228.3 616.6Z" fill="#00ff00"/>
<path d="M239.5 602.4L246.7 614.8L232.3 614.8Z" fill="#00ff00"/>
<path d="M243.5 604.7L250.7 617.1L236.3 617.1Z" fill="#00ff00"/>
<path d="M247.5 598.8L254.7 611.2L240.3 611.2Z" fill="#00ff00"/>
<path d="M251.5 601.3L258.7 613.7L244.3 613.7Z" fill="#00ff00"/>
<path d="M255.5 599.6L262.7 612.0L248.3 612.0Z" fill="#00ff00"/>
<path d="M259.5 599.4L266.7 611.8L252.3 611.8Z" fill="#00ff00"/>
<path d="M263.5 598.5L270.7 610.9L256.3 610.9Z" fill="#00ff00"/>
<path d="M267.5 593.6L274.7 606.0L260.3 606.0Z" fill="#00ff00"/>
<path d="M271.5 591.8L278.7 604.2L264.3 604.2Z" fill="#00ff00"/>
<path d="M275.5 602.1L282.7 614.5L268.3 614.5Z" fill="#00ff00"/>
<path d="M279.5 599.4L286.7 611.8L272.3 611.8Z" fill="#00ff00"/>
<path d="M283.5 601.0L290.7 613.4L276.3 613.4Z" fill="#00ff00"/>
<path d="M287.5 602.6L294.7 615.0L280.3 615.0Z" fill="#00ff00"/>
<path d="M291.5 603.2L298.7 615.6L284.3 615.6Z" fill="#00ff00"/>
<path d="M295.5 603.2L302.7 615.6L288.3 615.6Z" fill="#00ff00"/>
<path d="M299.5 601.9L306.7 614.3L292.3 614.3Z" fill="#00ff00"/>
<path d="M303.5 599.6L310.7 612.0L296.3 612.0Z" fill="#00ff00"/>
<path d="M307.5 595.7L314.7 608.1L300.3 608.1Z" fill="#00ff00"/>
<path d="M311.5 598.6L318.7 611.0L304.3 611.0Z" fill="#00ff00"/>
<path d="M315.5 598.2L322.7 610.6L308.3 610.6Z" fill="#00ff00"/>
<path d="M319.5 599.8L326.7 612.2L312.3 612.2Z" fill="#00ff00"/>
<path d="M323.5 591.8L330.7 604.2L316.3 604.2Z" fill="#00ff00"/>
<path d="M327.5 591.4L334.7 603.8L320.3 603.8Z" fill="#00ff00"/>
<path d="M331.5 605.8L338.7 618.2L324.3 618.2Z" fill="#00ff00"/>
<path d="M335.5 597.5L342.7 609.9L328.3 609.9Z" fill="#00ff00"/>
<path d="M339.5 595.2L346.7 607.6L332.3 607.6Z" fill="#00ff00"/>
<path d="M343.5 589.4L350.7 601.8L336.3 601.8Z" fill="#00ff00"/>
<path d="M347.5 595.6L354.7 608.0L340.3 608.0Z" fill="#00ff00"/>
<path d="M351.5 591.8L358.7 604.2L344.3 604.2Z" fill="#00ff00"/>
<path d="M355.5 599.4L362.7 611.8L348.3 611.8Z" fill="#00ff00"/>
<path d="M359.5 598.3L366.7 610.7L352.3 610.7Z" fill="#00ff00"/>
<path d="M363.5 595.6L370.7 608.0L356.3 608.0Z" fill="#00ff00"/>
<path d="M367.5 595.9L374.7 608.3L360.3 608.3Z" fill="#00ff00"/>
<path d="M371.5 597.5L378.7 609.9L364.3 609.9Z" fill="#00ff00"/>
<path d="M375.5 602.5L382.7 614.9L368.3 614.9Z" fill="#00ff00"/>
<path d="M379.5 589.0L386.7 601.4L372.3 601.4Z" fill="#00ff00"/>
<path d="M383.5 594.9L390.7 607.3L376.3 607.3Z" fill="#00ff00"/>
<path d="M387.5 597.0L394.7 609.4L380.3 609.4Z" fill="#00ff00"/>
<path d="M391.5 595.1L398.7 607.5L384.3 607.5Z" fill="#00ff00"/>
<path d="M395.5 599.1L402.7 611.5L388.3 611.5Z" fill="#00ff00"/>
<path d="M399.5 603.7L406.7 616.1L392.3 616.1Z" fill="#00ff00"/>
<path d="M403.5 593.6L410.7 606.0L396.3 606.0Z" fill="#00ff00"/>
<path d="M407.5 594.3L414.7 606.7L400.3 606.7Z" fill="#00ff00"/>
<path d="M411.5 599.6L418.7 612.0L404.3 612.0Z" fill="#00ff00"/>
<path d="M415.5 592.8L422.7 605.2L408.3 605.2Z" fill="#00ff00"/>
<path d="M419.5 597.5L426.7 609.9L412.3 609.9Z" fill="#00ff00"/>
<path d="M423.5 595.1L430.7 607.5L416.3 607.5Z" fill="#00ff00"/>
<path d="M427.5 594.5L434.7 606.9L420.3 606.9Z" fill="#00ff00"/>
<path d="M431.5 595.0L438.7 607.4L424.3 607.4Z" fill="#00ff00"/>
<path d="M435.5 593.8L442.7 606.2L428.3 606.2Z" fill="#00ff00"/>
<path d="M439.5 591.3L446.7 603.7L432.3 603.7Z" fill="#00ff00"/>
<path d="M443.5 593.3L450.7 605.7L436.3 605.7Z" fill="#00ff00"/>
<path d="M447.5 590.2L454.7 602.6L440.3 602.6Z" fill="#00ff00"/>
<path d="M451.5 589.6L458.7 602.0L444.3 602.0Z" fill="#00ff00"/>
<path d="M455.5 590.6L462.7 603.0L448.3 603.0Z" fill="#00ff00"/>
<path d="M459.5 577.0L466.7 589.4L452.3 589.4Z" fill="#00ff00"/>
<path d="M463.5 583.6L470.7 596.0L456.3 596.0Z" fill="#00ff00"/>
<path d="M467.5 586.5L474.7 598.9L460.3 598.9Z" fill="#00ff00"/>
<path d="M471.5 590.6L478.7 603.0L464.3 603.0Z" fill="#00ff00"/>
<path d="M475.5 589.7L482.7 602.1L468.3 602.1Z" fill="#00ff00"/>
<path d="M479.5 593.2L486.7 605.6L472.3 605.6Z" fill="#00ff00"/>
<path d="M483.5 586.1L490.7 598.5L476.3 598.5Z" fill="#00ff00"/>
<path d="M487.5 589.3L494.7 601.7L480.3 601.7Z" fill="#00ff00"/>
<path d="M491.5 601.4L498.7 613.8L484.3 613.8Z" fill="#00ff00"/>
<path d="M495.5 587.9L502.7 600.3L488.3 600.3Z" fill="#00ff00"/>
<path d="M499.5 590.7L506.7 603.1L492.3 603.1Z" fill="#00ff00"/>
<path d="M503.5 587.6L510.7 600.0L496.3 600.0Z" fill="#00ff00"/>
<path d="M507.5 583.4L514.7 595.8L500.3 595.8Z" fill="#00ff00"/>
<path d="M511.5 575.6L518.7 588.0L504.3 588.0Z" fill="#00ff00"/>
<path d="M515.5 579.9L522.7 592.3L508.3 592.3Z" fill="#00ff00"/>
<path d="M519.5 579.8L526.7 592.2L512.3 592.2Z" fill="#00ff00"/>
<path d="M523.5 570.8L530.7 583.2L516.3 583.2Z" fill="#00ff00"/>
<path d="M527.5 571.2L534.7 583.6L520.3 583.6Z" fill="#00ff00"/>
<path d="M531.5 564.6L538.7 577.0L524.3 577.0Z" fill="#00ff00"/>
<path d="M535.5 539.3L542.7 551.7L528.3 551.7Z" fill="#00ff00"/>
<path d="M539.5 520.0L546.7 532.4L532.3 532.4Z" fill="#00ff00"/>
<path d="M543.5 498.6L550.7 511.0L536.3 511.0Z" fill="#00ff00"/>
<path d="M547.5 468.8L554.7 481.2L540.3 481.2Z" fill="#00ff00"/>
<path d="M551.5 449.8L558.7 462.2L544.3 462.2Z" fill="#00ff00"/>
<path d="M555.5 417.2L562.7 429.6L548.3 429.6Z" fill="#00ff00"/>
<path d="M559.5 407.3L566.7 419.7L552.3 419.7Z" fill="#00ff00"/>
<path d="M563.5 368.0L570.7 380.4L556.3 380.4Z" fill="#00ff00"/>
<path d="M567.5 310.7L574.7 323.1L560.3 323.1Z" fill="#00ff00"/>
<path d="M571.5 263.5L578.7 275.9L564.3 275.9Z" fill="#00ff00"/>
<path d="M575.5 214.3L582.7 226.7L568.3 226.7Z" fill="#00ff00"/>
<path d="M579.5 187.2L586.7 199.6L572.3 199.6Z" fill="#00ff00"/>
<path d="M583.5 163.6L590.7 176.0L576.3 176.0Z" fill="#00ff00"/>
<path d="M587.5 145.6L594.7 158.0L580.3 158.0Z" fill="#00ff00"/>
<path d="M591.5 132.2L598.7 144.6L584.3 144.6Z" fill="#00ff00"/>
<path d="M595.5 118.6L602.7 131.0L588.3 131.0Z" fill="#00ff00"/>
<path d="M599.5 89.4L606.7 101.8L592.3 101.8Z" fill="#00ff00"/>
<path d="M603.5 71.3L610.7 83.7L596.3 83.7Z" fill="#00ff00"/>
<path d="M607.5 65.4L614.7 77.8L600.3 77.8Z" fill="#00ff00"/>
<path d="M611.5 59.2L618.7 71.6L604.3 71.6Z" fill="#00ff00"/>
<path d="M615.5 54.3L622.7 66.7L608.3 66.7Z" fill="#00ff00"/>
<path d="M619.5 48.5L626.7 60.9L612.3 60.9Z" fill="#00ff00"/>
<path d="M623.5 47.3L630.7 59.7L616.3 59.7Z" fill="#00ff00"/>
<path d="M627.5 39.2L634.7 51.6L620.3 51.6Z" fill="#00ff00"/>
<path d="M631.5 35.7L638.7 48.1L624.3 48.1Z" fill="#00ff00"/>
<path d="M635.5 38.5L642.7 50.9L628.3 50.9Z" fill="#00ff00"/>
<path d="M639.5 36.6L646.7 49.0L632.3 49.0Z" fill="#00ff00"/>
<path d="M643.5 29.9L650.7 42.3L636.3 42.3Z" fill="#00ff00"/>
<path d="M647.5 32.1L654.7 44.5L640.3 44.5Z" fill="#00ff00"/>
<path d="M651.5 32.1L658.7 44.5L644.3 44.5Z" fill="#00ff00"/>
<path d="M655.5 32.5L662.7 44.9L648.3 44.9Z" fill="#00ff00"/>
<path d="M659.5 31.9L666.7 44.3L652.3 44.3Z" fill="#00ff00"/>
<path d="M663.5 28.7L670.7 41.1L656.3 41.1Z" fill="#00ff00"/>
<path d="M667.5 32.2L674.7 44.6L660.3 44.6Z" fill="#00ff00"/>
<path d="M671.5 31.1L678.7 43.5L664.3 43.5Z" fill="#00ff00"/>
<path d="M675.5 27.3L682.7 39.7L668.3 39.7Z" fill="#00ff00"/>
<path d="M679.5 31.7L686.7 44.1L672.3 44.1Z" fill="#00ff00"/>
<path d="M683.5 27.8L690.7 40.2L676.3 40.2Z" fill="#00ff00"/>
<path d="M687.5 25.8L694.7 38.2L680.3 38.2Z" fill="#00ff00"/>
<path d="M691.5 31.0L698.7 43.4L684.3 43.4Z" fill="#00ff00"/>
<path d="M695.5 26.4L702.7 38.8L688.3 38.8Z" fill="#00ff00"/>
<path d="M699.5 25.9L706.7 38.3L692.3 38.3Z" fill="#00ff00"/>
<path d="M703.5 22.1L710.7 34.5L696.3 34.5Z" fill="#00ff00"/>
<path d="M707.5 32.1L714.7 44.5L700.3 44.5Z" fill="#00ff00"/>
<path d="M711.5 31.5L718.7 43.9L704.3 43.9Z" fill="#00ff00"/>
<path d="M715.5 30.9L722.7 43.3L708.3 43.3Z" fill="#00ff00"/>
<path d="M719.5 24.4L726.7 36.8L712.3 36.8Z" fill="#00ff00"/>
<path d="M723.5 30.1L730.7 42.5L716.3 42.5Z" fill="#00ff00"/>
<path d="M727.5 35.1L734.7 47.5L720.3 47.5Z" fill="#00ff00"/>
<path d="M731.5 28.4L738.7 40.8L724.3 40.8Z" fill="#00ff00"/>
<path d="M735.5 28.4L742.7 40.8L728.3 40.8Z" fill="#00ff00"/>
<path d="M739.5 21.9L746.7 34.3L732.3 34.3Z" fill="#00ff00"/>
<path d="M743.5 30.0L750.7 42.4L736.3 42.4Z" fill="#00ff00"/>
<path d="M747.5 25.2L754.7 37.6L740.3 37.6Z" fill="#00ff00"/>
<path d="M751.5 30.6L758.7 43.0L744.3 43.0Z" fill="#00ff00"/>
<path d="M755.5 28.4L762.7 40.8L748.3 40.8Z" fill="#00ff00"/>
<path d="M759.5 25.0L766.7 37.4L752.3 37.4Z" fill="#00ff00"/>
<path d="M763.5 25.3L770.7 37.7L756.3 37.7Z" fill="#00ff00"/>
<path d="M767.5 21.1L774.7 33.5L760.3 33.5Z" fill="#00ff00"/>
<path d="M771.5 18.2L778.7 30.6L764.3 30.6Z" fill="#00ff00"/>
<path d="M775.5 21.3L782.7 33.7L768.3 33.7Z" fill="#00ff00"/>
<path d="M779.5 18.7L786.7 31.1L772.3 31.1Z" fill="#00ff00"/>
<path d="M783.5 20.0L790.7 32.4L776.3 32.4Z" fill="#00ff00"/>
<path d="M787.5 23.7L794.7 36.1L780.3 36.1Z" fill="#00ff00"/>
<path d="M791.5 18.2L798.7 30.6L784.3 30.6Z" fill="#00ff00"/>
<path d="M795.5 26.3L802.7 38.7L788.3 38.7Z" fill="#00ff00"/>
<path d="M799.5 20.7L806.7 33.1L792.3 33.1Z" fill="#00ff00"/>
<path d="M803.5 24.8L810.7 37.2L796.3 37.2Z" fill="#00ff00"/>
<path d="M807.5 15.9L814.7 28.3L800.3 28.3Z" fill="#00ff00"/>
<path d="M811.5 29.1L818.7 41.5L804.3 41.5Z" fill="#00ff00"/>
<path d="M815.5 25.4L822.7 37.8L808.3 37.8Z" fill="#00ff00"/>
<path d="M819.5 23.5L826.7 35.9L812.3 35.9Z" fill="#00ff00"/>
<path d="M823.5 22.3L830.7 34.7L816.3 34.7Z" fill="#00ff00"/>
<path d="M827.5 26.1L834.7 38.5L820.3 38.5Z" fill="#00ff00"/>
<path d="M831.5 23.0L838.7 35.4L824.3 35.4Z" fill="#00ff00"/>
<path d="M835.5 20.8L842.7 33.2L828.3 33.2Z" fill="#00ff00"/>
<path d="M839.5 17.5L846.7 29.9L832.3 29.9Z" fill="#00ff00"/>
<path d="M843.5 17.9L850.7 30.3L836.3 30.3Z" fill="#00ff00"/>
<path d="M847.5 28.6L854.7 41.0L840.3 41.0Z" fill="#00ff00"/>
<path d="M851.5 29.7L858.7 42.1L844.3 42.1Z" fill="#00ff00"/>
<path d="M855.5 24.4L862.7 36.8L848.3 36.8Z" fill="#00ff00"/>
<path d="M859.5 25.6L866.7 38.0L852.3 38.0Z" fill="#00ff00"/>
<path d="M863.5 23.5L870.7 35.9L856.3 35.9Z" fill="#00ff00"/>
<path d="M867.5 25.1L874.7 37.5L860.3 37.5Z" fill="#00ff00"/>
<path d="M871.5 23.2L878.7 35.6L864.3 35.6Z" fill="#00ff00"/>
<path d="M875.5 30.1L882.7 42.5L868.3 42.5Z" fill="#00ff00"/>
<path d="M879.5 22.2L886.7 34.6L872.3 34.6Z" fill="#00ff00"/>
<path d="M883.5 24.8L890.7 37.2L876.3 37.2Z" fill="#00ff00"/>
<path d="M887.5 26.5L894.7 38.9L880.3 38.9Z" fill="#00ff00"/>
<path d="M891.5 21.1L898.7 33.5L884.3 33.5Z" fill="#00ff00"/>
<path d="M895.5 21.7L902.7 34.1L888.3 34.1Z" fill="#00ff00"/>
<path d="M899.5 26.7L906.7 39.1L892.3 39.1Z" fill="#00ff00"/>
<path d="M903.5 24.5L910.7 36.9L896.3 36.9Z" fill="#00ff00"/>
<path d="M907.5 27.7L914.7 40.1L900.3 40.1Z" fill="#00ff00"/>
<path d="M911.5 22.0L918.7 34.4L904.3 34.4Z" fill="#00ff00"/>
<path d="M915.5 23.1L922.7 35.5L908.3 35.5Z" fill="#00ff00"/>
<path d="M919.5 22.4L926.7 34.8L912.3 34.8Z" fill="#00ff00"/>
<path d="M923.5 27.2L930.7 39.6L916.3 39.6Z" fill="#00ff00"/>
<path d="M927.5 19.2L934.7 31.6L920.3 31.6Z" fill="#00ff00"/>
<path d="M931.5 22.2L938.7 34.6L924.3 34.6Z" fill="#00ff00"/>
<path d="M935.5 30.2L942.7 42.6L928.3 42.6Z" fill="#00ff00"/>
<path d="M939.5 18.8L946.7 31.2L932.3 31.2Z" fill="#00ff00"/>
<path d="M943.5 21.5L950.7 33.9L936.3 33.9Z" fill="#00ff00"/>
<path d="M947.5 25.6L954.7 38.0L940.3 38.0Z" fill="#00ff00"/>
<path d="M951.5 20.9L958.7 33.3L944.3 33.3Z" fill="#00ff00"/>
<path d="M955.5 30.6L962.7 43.0L948.3 43.0Z" fill="#00ff00"/>
<path d="M959.5 23.6L966.7 36.0L952.3 36.0Z" fill="#00ff00"/>
<path d="M963.5 18.1L970.7 30.5L956.3 30.5Z" fill="#00ff00"/>
<path d="M967.5 24.8L974.7 37.2L960.3 37.2Z" fill="#00ff00"/>
<path d="M167.5 564.0L171.5 554.6L175.5 562.6L179.5 569.2L183.5 561.8L187.5 562.0L191.5 568.2L195.5 568.7L199.5 567.3L203.5 562.5L207.5 562.9L211.5 560.8L215.5 559.6L219.5 564.0L223.5 559.7L227.5 560.6L231.5 565.5L235.5 562.2L239.5 563.7L243.5 560.9L247.5 567.9L251.5 572.6L255.5 564.4L259.5 569.5L263.5 563.2L267.5 567.0L271.5 569.8L275.5 562.2L279.5 558.0L283.5 565.5L287.5 564.3L291.5 579.5L295.5 566.5L299.5 566.5L303.5 569.0L307.5 560.3L311.5 565.2L315.5 559.4L319.5 561.4L323.5 570.7L327.5 566.0L331.5 567.0L335.5 565.1L339.5 564.8L343.5 566.0L347.5 566.3L351.5 559.0L355.5 562.7L359.5 563.4L363.5 561.9L367.5 561.5L371.5 568.1L375.5 560.7L379.5 550.8L383.5 554.6L387.5 561.6L391.5 557.8L395.5 560.1L399.5 558.8L403.5 557.3L407.5 557.3L411.5 560.4L415.5 560.3L419.5 560.7L423.5 560.8L427.5 557.4L431.5 559.2L435.5 554.2L439.5 554.8L443.5 560.9L447.5 550.9L451.5 556.8L455.5 558.9L459.5 556.0L463.5 545.4L467.5 558.1L471.5 558.0L475.5 559.2L479.5 547.3L483.5 547.9L487.5 548.7L491.5 537.1L495.5 552.4L499.5 548.6L503.5 545.0L507.5 538.2L511.5 541.6L515.5 539.4L519.5 527.5L523.5 526.7L527.5 527.9L531.5 506.1L535.5 494.0L539.5 467.2L543.5 447.5L547.5 435.0L551.5 409.4L555.5 398.3L559.5 390.2L563.5 354.3L567.5 326.1L571.5 291.1L575.5 258.0L579.5 233.3L583.5 214.3L587.5 187.8L591.5 160.4L595.5 142.3L599.5 135.7L603.5 115.0L607.5 108.8L611.5 96.0L615.5 94.3L619.5 90.4L623.5 93.4L627.5 95.1L631.5 85.9L635.5 93.5L639.5 94.2L643.5 89.1L647.5 96.2L651.5 93.8L655.5 85.1L659.5 89.1L663.5 93.0L667.5 88.2L671.5 90.2L675.5 83.4L679.5 89.3L683.5 69.0L687.5 84.8L691.5 90.5L695.5 86.3L699.5 75.0L703.5 86.6L707.5 84.5L711.5 81.6L715.5 85.1L719.5 84.0L723.5 84.2L727.5 88.8L731.5 78.9L735.5 82.9L739.5 78.2L743.5 77.9L747.5 75.6L751.5 71.5L755.5 73.3L759.5 75.6L763.5 69.1L767.5 76.5L771.5 79.3L775.5 78.8L779.5 78.8L783.5 77.6L787.5 76.1L791.5 75.8L795.5 73.5L799.5 74.2L803.5 79.0L807.5 81.1L811.5 75.9L815.5 87.8L819.5 85.2L823.5 78.0L827.5 87.8L831.5 67.8L835.5 78.6L839.5 73.7L843.5 72.7L847.5 74.5L851.5 73.7L855.5 70.7L859.5 72.4L863.5 83.9L867.5 68.2L871.5 72.9L875.5 76.2L879.5 75.9L883.5 75.1L887.5 79.5L891.5 81.5L895.5 76.6L899.5 71.0L903.5 81.3L907.5 62.1L911.5 77.3L915.5 75.4L919.5 71.0L923.5 71.2L927.5 83.0L931.5 87.3L935.5 78.8L939.5 83.9L943.5 78.2L947.5 81.5L951.5 83.2L955.5 81.7L959.5 72.3L963.5 80.7L967.5 77.8" fill="none" stroke="#0000ff" stroke-width="2.4" stroke-linejoin="round"/>
<path d="M167.5 573.4L175.3 559.4L159.7 559.4Z" fill="#0000ff"/>
<path d="M171.5 563.9L179.3 549.9L163.7 549.9Z" fill="#0000ff"/>
<path d="M175.5 571.9L183.3 557.9L167.7 557.9Z" fill="#0000ff"/>
<path d="M179.5 578.6L187.3 564.6L171.7 564.6Z" fill="#0000ff"/>
<path d="M183.5 571.1L191.3 557.1L175.7 557.1Z" fill="#0000ff"/>
<path d="M187.5 571.3L195.3 557.3L179.7 557.3Z" fill="#0000ff"/>
<path d="M191.5 577.6L199.3 563.6L183.7 563.6Z" fill="#0000ff"/>
<path d="M195.5 578.0L203.3 564.0L187.7 564.0Z" fill="#0000ff"/>
<path d="M199.5 576.7L207.3 562.7L191.7 562.7Z" fill="#0000ff"/>
<path d="M203.5 571.9L211.3 557.9L195.7 557.9Z" fill="#0000ff"/>
<path d="M207.5 572.2L215.3 558.2L199.7 558.2Z" fill="#0000ff"/>
<path d="M211.5 570.1L219.3 556.1L203.7 556.1Z" fill="#0000ff"/>
<path d="M215.5 568.9L223.3 554.9L207.7 554.9Z" fill="#0000ff"/>
<path d="M219.5 573.3L227.3 559.3L211.7 559.3Z" fill="#0000ff"/>
<path d="M223.5 569.0L231.3 555.0L215.7 555.0Z" fill="#0000ff"/>
<path d="M227.5 569.9L235.3 555.9L219.7 555.9Z" fill="#0000ff"/>
<path d="M231.5 574.9L239.3 560.9L223.7 560.9Z" fill="#0000ff"/>
<path d="M235.5 571.5L243.3 557.5L227.7 557.5Z" fill="#0000ff"/>
<path d="M239.5 573.1L247.3 559.1L231.7 559.1Z" fill="#0000ff"/>
<path d="M243.5 570.3L251.3 556.3L235.7 556.3Z" fill="#0000ff"/>
<path d="M247.5 577.2L255.3 563.2L239.7 563.2Z" fill="#0000ff"/>
<path d="M251.5 581.9L259.3 567.9L243.7 567.9Z" fill="#0000ff"/>
<path d="M255.5 573.8L263.3 559.8L247.7 559.8Z" fill="#0000ff"/>
<path d="M259.5 578.8L267.3 564.8L251.7 564.8Z" fill="#0000ff"/>
<path d="M263.5 572.5L271.3 558.5L255.7 558.5Z" fill="#0000ff"/>
<path d="M267.5 576.3L275.3 562.3L259.7 562.3Z" fill="#0000ff"/>
<path d="M271.5 579.2L279.3 565.2L263.7 565.2Z" fill="#0000ff"/>
<path d="M275.5 571.5L283.3 557.5L267.7 557.5Z" fill="#0000ff"/>
<path d="M279.5 567.4L287.3 553.4L271.7 553.4Z" fill="#0000ff"/>
<path d="M283.5 574.9L291.3 560.9L275.7 560.9Z" fill="#0000ff"/>
<path d="M287.5 573.7L295.3 559.7L279.7 559.7Z" fill="#0000ff"/>
<path d="M291.5 588.9L299.3 574.9L283.7 574.9Z" fill="#0000ff"/>
<path d="M295.5 575.9L303.3 561.9L287.7 561.9Z" fill="#0000ff"/>
<path d="M299.5 575.9L307.3 561.9L291.7 561.9Z" fill="#0000ff"/>
<path d="M303.5 578.3L311.3 564.3L295.7 564.3Z" fill="#0000ff"/>
<path d="M307.5 569.7L315.3 555.7L299.7 555.7Z" fill="#0000ff"/>
<path d="M311.5 574.6L319.3 560.6L303.7 560.6Z" fill="#0000ff"/>
<path d="M315.5 568.8L323.3 554.8L307.7 554.8Z" fill="#0000ff"/>
<path d="M319.5 570.7L327.3 556.7L311.7 556.7Z" fill="#0000ff"/>
<path d="M323.5 580.0L331.3 566.0L315.7 566.0Z" fill="#0000ff"/>
<path d="M327.5 575.3L335.3 561.3L319.7 561.3Z" fill="#0000ff"/>
<path d="M331.5 576.3L339.3 562.3L323.7 562.3Z" fill="#0000ff"/>
<path d="M335.5 574.4L343.3 560.4L327.7 560.4Z" fill="#0000ff"/>
<path d="M339.5 574.1L347.3 560.1L331.7 560.1Z" fill="#0000ff"/>
<path d="M343.5 575.4L351.3 561.4L335.7 561.4Z" fill="#0000ff"/>
<path d="M347.5 575.6L355.3 561.6L339.7 561.6Z" fill="#0000ff"/>
<path d="M351.5 568.4L359.3 554.4L343.7 554.4Z" fill="#0000ff"/>
<path d="M355.5 572.0L363.3 558.0L347.7 558.0Z" fill="#0000ff"/>
<path d="M359.5 572.7L367.3 558.7L351.7 558.7Z" fill="#0000ff"/>
<path d="M363.5 571.2L371.3 557.2L355.7 557.2Z" fill="#0000ff"/>
<path d="M367.5 570.8L375.3 556.8L359.7 556.8Z" fill="#0000ff"/>
<path d="M371.5 577.4L379.3 563.4L363.7 563.4Z" fill="#0000ff"/>
<path d="M375.5 570.0L383.3 556.0L367.7 556.0Z" fill="#0000ff"/>
<path d="M379.5 560.1L387.3 546.1L371.7 546.1Z" fill="#0000ff"/>
<path d="M383.5 563.9L391.3 549.9L375.7 549.9Z" fill="#0000ff"/>
<path d="M387.5 570.9L395.3 556.9L379.7 556.9Z" fill="#0000ff"/>
<path d="M391.5 567.1L399.3 553.1L383.7 553.1Z" fill="#0000ff"/>
<path d="M395.5 569.4L403.3 555.4L387.7 555.4Z" fill="#0000ff"/>
<path d="M399.5 568.2L407.3 554.2L391.7 554.2Z" fill="#0000ff"/>
<path d="M403.5 566.6L411.3 552.6L395.7 552.6Z" fill="#0000ff"/>
<path d="M407.5 566.7L415.3 552.7L399.7 552.7Z" fill="#0000ff"/>
<path d="M411.5 569.7L419.3 555.7L403.7 555.7Z" fill="#0000ff"/>
<path d="M415.5 569.6L423.3 555.6L407.7 555.6Z" fill="#0000ff"/>
<path d="M419.5 570.1L427.3 556.1L411.7 556.1Z" fill="#0000ff"/>
<path d="M423.5 570.2L431.3 556.2L415.7 556.2Z" fill="#0000ff"/>
<path d="M427.5 566.8L435.3 552.8L419.7 552.8Z" fill="#0000ff"/>
<path d="M431.5 568.5L439.3 554.5L423.7 554.5Z" fill="#0000ff"/>
<path d="M435.5 563.5L443.3 549.5L427.7 549.5Z" fill="#0000ff"/>
<path d="M439.5 564.1L447.3 550.1L431.7 550.1Z" fill="#0000ff"/>
<path d="M443.5 570.2L451.3 556.2L435.7 556.2Z" fill="#0000ff"/>
<path d="M447.5 560.2L455.3 546.2L439.7 546.2Z" fill="#0000ff"/>
<path d="M451.5 566.2L459.3 552.2L443.7 552.2Z" fill="#0000ff"/>
<path d="M455.5 568.2L463.3 554.2L447.7 554.2Z" fill="#0000ff"/>
<path d="M459.5 565.3L467.3 551.3L451.7 551.3Z" fill="#0000ff"/>
<path d="M463.5 554.7L471.3 540.7L455.7 540.7Z" fill="#0000ff"/>
<path d="M467.5 567.4L475.3 553.4L459.7 553.4Z" fill="#0000ff"/>
<path d="M471.5 567.3L479.3 553.3L463.7 553.3Z" fill="#0000ff"/>
<path d="M475.5 568.5L483.3 554.5L467.7 554.5Z" fill="#0000ff"/>
<path d="M479.5 556.6L487.3 542.6L471.7 542.6Z" fill="#0000ff"/>
<path d="M483.5 557.2L491.3 543.2L475.7 543.2Z" fill="#0000ff"/>
<path d="M487.5 558.1L495.3 544.1L479.7 544.1Z" fill="#0000ff"/>
<path d="M491.5 546.5L499.3 532.5L483.7 532.5Z" fill="#0000ff"/>
<path d="M495.5 561.8L503.3 547.8L487.7 547.8Z" fill="#0000ff"/>
<path d="M499.5 558.0L507.3 544.0L491.7 544.0Z" fill="#0000ff"/>
<path d="M503.5 554.3L511.3 540.3L495.7 540.3Z" fill="#0000ff"/>
<path d="M507.5 547.6L515.3 533.6L499.7 533.6Z" fill="#0000ff"/>
<path d="M511.5 551.0L519.3 537.0L503.7 537.0Z" fill="#0000ff"/>
<path d="M515.5 548.8L523.3 534.8L507.7 534.8Z" fill="#0000ff"/>
<path d="M519.5 536.8L527.3 522.8L511.7 522.8Z" fill="#0000ff"/>
<path d="M523.5 536.0L531.3 522.0L515.7 522.0Z" fill="#0000ff"/>
<path d="M527.5 537.2L535.3 523.2L519.7 523.2Z" fill="#0000ff"/>
<path d="M531.5 515.4L539.3 501.4L523.7 501.4Z" fill="#0000ff"/>
<path d="M535.5 503.3L543.3 489.3L527.7 489.3Z" fill="#0000ff"/>
<path d="M539.5 476.6L547.3 462.6L531.7 462.6Z" fill="#0000ff"/>
<path d="M543.5 456.9L551.3 442.9L535.7 442.9Z" fill="#0000ff"/>
<path d="M547.5 444.4L555.3 430.4L539.7 430.4Z" fill="#0000ff"/>
<path d="M551.5 418.7L559.3 404.7L543.7 404.7Z" fill="#0000ff"/>
<path d="M555.5 407.7L563.3 393.7L547.7 393.7Z" fill="#0000ff"/>
<path d="M559.5 399.6L567.3 385.6L551.7 385.6Z" fill="#0000ff"/>
<path d="M563.5 363.6L571.3 349.6L555.7 349.6Z" fill="#0000ff"/>
<path d="M567.5 335.5L575.3 321.5L559.7 321.5Z" fill="#0000ff"/>
<path d="M571.5 300.4L579.3 286.4L563.7 286.4Z" fill="#0000ff"/>
<path d="M575.5 267.3L583.3 253.3L567.7 253.3Z" fill="#0000ff"/>
<path d="M579.5 242.6L587.3 228.6L571.7 228.6Z" fill="#0000ff"/>
<path d="M583.5 223.6L591.3 209.6L575.7 209.6Z" fill="#0000ff"/>
<path d="M587.5 197.1L595.3 183.1L579.7 183.1Z" fill="#0000ff"/>
<path d="M591.5 169.8L599.3 155.8L583.7 155.8Z" fill="#0000ff"/>
<path d="M595.5 151.7L603.3 137.7L587.7 137.7Z" fill="#0000ff"/>
<path d="M599.5 145.0L607.3 131.0L591.7 131.0Z" fill="#0000ff"/>
<path d="M603.5 124.3L611.3 110.3L595.7 110.3Z" fill="#0000ff"/>
<path d="M607.5 118.1L615.3 104.1L599.7 104.1Z" fill="#0000ff"/>
<path d="M611.5 105.4L619.3 91.4L603.7 91.4Z" fill="#0000ff"/>
<path d="M615.5 103.6L623.3 89.6L607.7 89.6Z" fill="#0000ff"/>
<path d="M619.5 99.7L627.3 85.7L611.7 85.7Z" fill="#0000ff"/>
<path d="M623.5 102.7L631.3 88.7L615.7 88.7Z" fill="#0000ff"/>
<path d="M627.5 104.4L635.3 90.4L619.7 90.4Z" fill="#0000ff"/>
<path d="M631.5 95.3L639.3 81.3L623.7 81.3Z" fill="#0000ff"/>
<path d="M635.5 102.9L643.3 88.9L627.7 88.9Z" fill="#0000ff"/>
<path d="M639.5 103.5L647.3 89.5L631.7 89.5Z" fill="#0000ff"/>
<path d="M643.5 98.4L651.3 84.4L635.7 84.4Z" fill="#0000ff"/>
<path d="M647.5 105.5L655.3 91.5L639.7 91.5Z" fill="#0000ff"/>
<path d="M651.5 103.1L659.3 89.1L643.7 89.1Z" fill="#0000ff"/>
<path d="M655.5 94.4L663.3 80.4L647.7 80.4Z" fill="#0000ff"/>
<path d="M659.5 98.5L667.3 84.5L651.7 84.5Z" fill="#0000ff"/>
<path d="M663.5 102.3L671.3 88.3L655.7 88.3Z" fill="#0000ff"/>
<path d="M667.5 97.6L675.3 83.6L659.7 83.6Z" fill="#0000ff"/>
<path d="M671.5 99.5L679.3 85.5L663.7 85.5Z" fill="#0000ff"/>
<path d="M675.5 92.8L683.3 78.8L667.7 78.8Z" fill="#0000ff"/>
<path d="M679.5 98.7L687.3 84.7L671.7 84.7Z" fill="#0000ff"/>
<path d="M683.5 78.3L691.3 64.3L675.7 64.3Z" fill="#0000ff"/>
<path d="M687.5 94.2L695.3 80.2L679.7 80.2Z" fill="#0000ff"/>
<path d="M691.5 99.8L699.3 85.8L683.7 85.8Z" fill="#0000ff"/>
<path d="M695.5 95.7L703.3 81.7L687.7 81.7Z" fill="#0000ff"/>
<path d="M699.5 84.3L707.3 70.3L691.7 70.3Z" fill="#0000ff"/>
<path d="M703.5 96.0L711.3 82.0L695.7 82.0Z" fill="#0000ff"/>
<path d="M707.5 93.9L715.3 79.9L699.7 79.9Z" fill="#0000ff"/>
<path d="M711.5 91.0L719.3 77.0L703.7 77.0Z" fill="#0000ff"/>
<path d="M715.5 94.4L723.3 80.4L707.7 80.4Z" fill="#0000ff"/>
<path d="M719.5 93.3L727.3 79.3L711.7 79.3Z" fill="#0000ff"/>
<path d="M723.5 93.6L731.3 79.6L715.7 79.6Z" fill="#0000ff"/>
<path d="M727.5 98.2L735.3 84.2L719.7 84.2Z" fill="#0000ff"/>
<path d="M731.5 88.2L739.3 74.2L723.7 74.2Z" fill="#0000ff"/>
<path d="M735.5 92.3L743.3 78.3L727.7 78.3Z" fill="#0000ff"/>
<path d="M739.5 87.6L747.3 73.6L731.7 73.6Z" fill="#0000ff"/>
<path d="M743.5 87.2L751.3 73.2L735.7 73.2Z" fill="#0000ff"/>
<path d="M747.5 84.9L755.3 70.9L739.7 70.9Z" fill="#0000ff"/>
<path d="M751.5 80.9L759.3 66.9L743.7 66.9Z" fill="#0000ff"/>
<path d="M755.5 82.7L763.3 68.7L747.7 68.7Z" fill="#0000ff"/>
<path d="M759.5 84.9L767.3 70.9L751.7 70.9Z" fill="#0000ff"/>
<path d="M763.5 78.4L771.3 64.4L755.7 64.4Z" fill="#0000ff"/>
<path d="M767.5 85.9L775.3 71.9L759.7 71.9Z" fill="#0000ff"/>
<path d="M771.5 88.7L779.3 74.7L763.7 74.7Z" fill="#0000ff"/>
<path d="M775.5 88.2L783.3 74.2L767.7 74.2Z" fill="#0000ff"/>
<path d="M779.5 88.1L787.3 74.1L771.7 74.1Z" fill="#0000ff"/>
<path d="M783.5 86.9L791.3 72.9L775.7 72.9Z" fill="#0000ff"/>
<path d="M787.5 85.5L795.3 71.5L779.7 71.5Z" fill="#0000ff"/>
<path d="M791.5 85.1L799.3 71.1L783.7 71.1Z" fill="#0000ff"/>
<path d="M795.5 82.9L803.3 68.9L787.7 68.9Z" fill="#0000ff"/>
<path d="M799.5 83.5L807.3 69.5L791.7 69.5Z" fill="#0000ff"/>
<path d="M803.5 88.4L811.3 74.4L795.7 74.4Z" fill="#0000ff"/>
<path d="M807.5 90.4L815.3 76.4L799.7 76.4Z" fill="#0000ff"/>
<path d="M811.5 85.2L819.3 71.2L803.7 71.2Z" fill="#0000ff"/>
<path d="M815.5 97.1L823.3 83.1L807.7 83.1Z" fill="#0000ff"/>
<path d="M819.5 94.6L827.3 80.6L811.7 80.6Z" fill="#0000ff"/>
<path d="M823.5 87.3L831.3 73.3L815.7 73.3Z" fill="#0000ff"/>
<path d="M827.5 97.1L835.3 83.1L819.7 83.1Z" fill="#0000ff"/>
<path d="M831.5 77.1L839.3 63.1L823.7 63.1Z" fill="#0000ff"/>
<path d="M835.5 87.9L843.3 73.9L827.7 73.9Z" fill="#0000ff"/>
<path d="M839.5 83.1L847.3 69.1L831.7 69.1Z" fill="#0000ff"/>
<path d="M843.5 82.0L851.3 68.0L835.7 68.0Z" fill="#0000ff"/>
<path d="M847.5 83.9L855.3 69.9L839.7 69.9Z" fill="#0000ff"/>
<path d="M851.5 83.0L859.3 69.0L843.7 69.0Z" fill="#0000ff"/>
<path d="M855.5 80.1L863.3 66.1L847.7 66.1Z" fill="#0000ff"/>
<path d="M859.5 81.7L867.3 67.7L851.7 67.7Z" fill="#0000ff"/>
<path d="M863.5 93.2L871.3 79.2L855.7 79.2Z" fill="#0000ff"/>
<path d="M867.5 77.5L875.3 63.5L859.7 63.5Z" fill="#0000ff"/>
<path d="M871.5 82.3L879.3 68.3L863.7 68.3Z" fill="#0000ff"/>
<path d="M875.5 85.6L883.3 71.6L867.7 71.6Z" fill="#0000ff"/>
<path d="M879.5 85.2L887.3 71.2L871.7 71.2Z" fill="#0000ff"/>
<path d="M883.5 84.4L891.3 70.4L875.7 70.4Z" fill="#0000ff"/>
<path d="M887.5 88.8L895.3 74.8L879.7 74.8Z" fill="#0000ff"/>
<path d="M891.5 90.9L899.3 76.9L883.7 76.9Z" fill="#0000ff"/>
<path d="M895.5 85.9L903.3 71.9L887.7 71.9Z" fill="#0000ff"/>
<path d="M899.5 80.3L907.3 66.3L891.7 66.3Z" fill="#0000ff"/>
<path d="M903.5 90.6L911.3 76.6L895.7 76.6Z" fill="#0000ff"/>
<path d="M907.5 71.5L915.3 57.5L899.7 57.5Z" fill="#0000ff"/>
<path d="M911.5 86.7L919.3 72.7L903.7 72.7Z" fill="#0000ff"/>
<path d="M915.5 84.7L923.3 70.7L907.7 70.7Z" fill="#0000ff"/>
<path d="M919.5 80.4L927.3 66.4L911.7 66.4Z" fill="#0000ff"/>
<path d="M923.5 80.5L931.3 66.5L915.7 66.5Z" fill="#0000ff"/>
<path d="M927.5 92.3L935.3 78.3L919.7 78.3Z" fill="#0000ff"/>
<path d="M931.5 96.6L939.3 82.6L923.7 82.6Z" fill="#0000ff"/>
<path d="M935.5 88.1L943.3 74.1L927.7 74.1Z" fill="#0000ff"/>
<path d="M939.5 93.3L947.3 79.3L931.7 79.3Z" fill="#0000ff"/>
<path d="M943.5 87.6L951.3 73.6L935.7 73.6Z" fill="#0000ff"/>
<path d="M947.5 90.8L955.3 76.8L939.7 76.8Z" fill="#0000ff"/>
<path d="M951.5 92.6L959.3 78.6L943.7 78.6Z" fill="#0000ff"/>
<path d="M955.5 91.0L963.3 77.0L947.7 77.0Z" fill="#0000ff"/>
<path d="M959.5 81.6L967.3 67.6L951.7 67.6Z" fill="#0000ff"/>
<path d="M963.5 90.0L971.3 76.0L955.7 76.0Z" fill="#0000ff"/>
<path d="M967.5 87.2L975.3 73.2L959.7 73.2Z" fill="#0000ff"/>
<path d="M167.5 493.8L171.5 497.8L175.5 502.1L179.5 499.2L183.5 499.1L187.5 498.9L191.5 497.9L195.5 500.3L199.5 501.9L203.5 498.1L207.5 502.4L211.5 499.4L215.5 504.2L219.5 506.1L223.5 502.1L227.5 505.3L231.5 506.3L235.5 508.1L239.5 508.9L243.5 509.5L247.5 511.0L251.5 513.6L255.5 503.3L259.5 508.0L263.5 505.9L267.5 506.3L271.5 505.0L275.5 505.1L279.5 505.2L283.5 514.9L287.5 508.6L291.5 510.6L295.5 505.1L299.5 512.0L303.5 515.0L307.5 511.8L311.5 510.2L315.5 511.9L319.5 511.0L323.5 509.1L327.5 504.9L331.5 517.8L335.5 519.9L339.5 513.8L343.5 513.1L347.5 502.0L351.5 510.5L355.5 511.8L359.5 513.0L363.5 516.3L367.5 504.9L371.5 515.2L375.5 510.2L379.5 509.7L383.5 512.9L387.5 512.9L391.5 515.2L395.5 519.7L399.5 515.4L403.5 512.6L407.5 514.4L411.5 523.5L415.5 513.0L419.5 510.9L423.5 511.3L427.5 520.5L431.5 509.8L435.5 515.5L439.5 514.8L443.5 519.3L447.5 515.9L451.5 514.3L455.5 514.3L459.5 522.4L463.5 524.2L467.5 513.8L471.5 516.8L475.5 510.2L479.5 512.9L483.5 516.4L487.5 513.3L491.5 511.8L495.5 507.6L499.5 510.1L503.5 502.9L507.5 503.4L511.5 502.0L515.5 496.8L519.5 494.0L523.5 491.2L527.5 483.3L531.5 467.7L535.5 466.8L539.5 445.7L543.5 435.5L547.5 414.3L551.5 407.5L555.5 393.4L559.5 374.9L563.5 349.2L567.5 319.5L571.5 299.6L575.5 269.9L579.5 246.2L583.5 232.8L587.5 210.3L591.5 195.8L595.5 178.9L599.5 177.9L603.5 155.9L607.5 166.0L611.5 157.1L615.5 149.7L619.5 138.5L623.5 130.6L627.5 132.1L631.5 130.8L635.5 134.3L639.5 131.5L643.5 119.4L647.5 127.5L651.5 127.3L655.5 132.7L659.5 124.8L663.5 134.4L667.5 125.6L671.5 131.6L675.5 132.4L679.5 127.3L683.5 132.1L687.5 121.3L691.5 124.1L695.5 130.2L699.5 130.5L703.5 133.5L707.5 129.2L711.5 130.0L715.5 133.5L719.5 135.8L723.5 133.4L727.5 127.9L731.5 129.2L735.5 123.2L739.5 132.9L743.5 132.4L747.5 129.9L751.5 137.6L755.5 134.9L759.5 134.8L763.5 128.8L767.5 133.9L771.5 133.6L775.5 131.3L779.5 131.8L783.5 125.8L787.5 128.5L791.5 131.9L795.5 128.8L799.5 129.2L803.5 129.6L807.5 130.3L811.5 126.5L815.5 129.2L819.5 119.1L823.5 134.6L827.5 135.1L831.5 130.1L835.5 135.1L839.5 137.2L843.5 133.3L847.5 132.2L851.5 137.3L855.5 132.8L859.5 134.4L863.5 130.7L867.5 137.9L871.5 143.5L875.5 135.2L879.5 142.5L883.5 131.2L887.5 142.9L891.5 137.5L895.5 133.9L899.5 132.1L903.5 144.0L907.5 143.2L911.5 134.4L915.5 142.1L919.5 138.7L923.5 142.4L927.5 146.9L931.5 135.1L935.5 141.8L939.5 142.5L943.5 140.2L947.5 140.6L951.5 137.9L955.5 137.9L959.5 149.4L963.5 136.3L967.5 137.8" fill="none" stroke="#00ffff" stroke-width="2.4" stroke-linejoin="round"/>
<path d="M167.5 485.8L174.7 493.8L167.5 501.8L160.3 493.8Z" fill="#00ffff"/>
<path d="M171.5 489.8L178.7 497.8L171.5 505.8L164.3 497.8Z" fill="#00ffff"/>
<path d="M175.5 494.1L182.7 502.1L175.5 510.1L168.3 502.1Z" fill="#00ffff"/>
<path d="M179.5 491.2L186.7 499.2L179.5 507.2L172.3 499.2Z" fill="#00ffff"/>
<path d="M183.5 491.1L190.7 499.1L183.5 507.1L176.3 499.1Z" fill="#00ffff"/>
<path d="M187.5 490.9L194.7 498.9L187.5 506.9L180.3 498.9Z" fill="#00ffff"/>
<path d="M191.5 489.9L198.7 497.9L191.5 505.9L184.3 497.9Z" fill="#00ffff"/>
<path d="M195.5 492.3L202.7 500.3L195.5 508.3L188.3 500.3Z" fill="#00ffff"/>
<path d="M199.5 493.9L206.7 501.9L199.5 509.9L192.3 501.9Z" fill="#00ffff"/>
<path d="M203.5 490.1L210.7 498.1L203.5 506.1L196.3 498.1Z" fill="#00ffff"/>
<path d="M207.5 494.4L214.7 502.4L207.5 510.4L200.3 502.4Z" fill="#00ffff"/>
<path d="M211.5 491.4L218.7 499.4L211.5 507.4L204.3 499.4Z" fill="#00ffff"/>
<path d="M215.5 496.2L222.7 504.2L215.5 512.2L208.3 504.2Z" fill="#00ffff"/>
<path d="M219.5 498.1L226.7 506.1L219.5 514.1L212.3 506.1Z" fill="#00ffff"/>
<path d="M223.5 494.1L230.7 502.1L223.5 510.1L216.3 502.1Z" fill="#00ffff"/>
<path d="M227.5 497.3L234.7 505.3L227.5 513.3L220.3 505.3Z" fill="#00ffff"/>
<path d="M231.5 498.3L238.7 506.3L231.5 514.3L224.3 506.3Z" fill="#00ffff"/>
<path d="M235.5 500.1L242.7 508.1L235.5 516.1L228.3 508.1Z" fill="#00ffff"/>
<path d="M239.5 500.9L246.7 508.9L239.5 516.9L232.3 508.9Z" fill="#00ffff"/>
<path d="M243.5 501.5L250.7 509.5L243.5 517.5L236.3 509.5Z" fill="#00ffff"/>
<path d="M247.5 503.0L254.7 511.0L247.5 519.0L240.3 511.0Z" fill="#00ffff"/>
<path d="M251.5 505.6L258.7 513.6L251.5 521.6L244.3 513.6Z" fill="#00ffff"/>
<path d="M255.5 495.3L262.7 503.3L255.5 511.3L248.3 503.3Z" fill="#00ffff"/>
<path d="M259.5 500.0L266.7 508.0L259.5 516.0L252.3 508.0Z" fill="#00ffff"/>
<path d="M263.5 497.9L270.7 505.9L263.5 513.9L256.3 505.9Z" fill="#00ffff"/>
<path d="M267.5 498.3L274.7 506.3L267.5 514.3L260.3 506.3Z" fill="#00ffff"/>
<path d="M271.5 497.0L278.7 505.0L271.5 513.0L264.3 505.0Z" fill="#00ffff"/>
<path d="M275.5 497.1L282.7 505.1L275.5 513.1L268.3 505.1Z" fill="#00ffff"/>
<path d="M279.5 497.2L286.7 505.2L279.5 513.2L272.3 505.2Z" fill="#00ffff"/>
<path d="M283.5 506.9L290.7 514.9L283.5 522.9L276.3 514.9Z" fill="#00ffff"/>
<path d="M287.5 500.6L294.7 508.6L287.5 516.6L280.3 508.6Z" fill="#00ffff"/>
<path d="M291.5 502.6L298.7 510.6L291.5 518.6L284.3 510.6Z" fill="#00ffff"/>
<path d="M295.5 497.1L302.7 505.1L295.5 513.1L288.3 505.1Z" fill="#00ffff"/>
<path d="M299.5 504.0L306.7 512.0L299.5 520.0L292.3 512.0Z" fill="#00ffff"/>
<path d="M303.5 507.0L310.7 515.0L303.5 523.0L296.3 515.0Z" fill="#00ffff"/>
<path d="M307.5 503.8L314.7 511.8L307.5 519.8L300.3 511.8Z" fill="#00ffff"/>
<path d="M311.5 502.2L318.7 510.2L311.5 518.2L304.3 510.2Z" fill="#00ffff"/>
<path d="M315.5 503.9L322.7 511.9L315.5 519.9L308.3 511.9Z" fill="#00ffff"/>
<path d="M319.5 503.0L326.7 511.0L319.5 519.0L312.3 511.0Z" fill="#00ffff"/>
<path d="M323.5 501.1L330.7 509.1L323.5 517.1L316.3 509.1Z" fill="#00ffff"/>
<path d="M327.5 496.9L334.7 504.9L327.5 512.9L320.3 504.9Z" fill="#00ffff"/>
<path d="M331.5 509.8L338.7 517.8L331.5 525.8L324.3 517.8Z" fill="#00ffff"/>
<path d="M335.5 511.9L342.7 519.9L335.5 527.9L328.3 519.9Z" fill="#00ffff"/>
<path d="M339.5 505.8L346.7 513.8L339.5 521.8L332.3 513.8Z" fill="#00ffff"/>
<path d="M343.5 505.1L350.7 513.1L343.5 521.1L336.3 513.1Z" fill="#00ffff"/>
<path d="M347.5 494.0L354.7 502.0L347.5 510.0L340.3 502.0Z" fill="#00ffff"/>
<path d="M351.5 502.5L358.7 510.5L351.5 518.5L344.3 510.5Z" fill="#00ffff"/>
<path d="M355.5 503.8L362.7 511.8L355.5 519.8L348.3 511.8Z" fill="#00ffff"/>
<path d="M359.5 505.0L366.7 513.0L359.5 521.0L352.3 513.0Z" fill="#00ffff"/>
<path d="M363.5 508.3L370.7 516.3L363.5 524.3L356.3 516.3Z" fill="#00ffff"/>
<path d="M367.5 496.9L374.7 504.9L367.5 512.9L360.3 504.9Z" fill="#00ffff"/>
<path d="M371.5 507.2L378.7 515.2L371.5 523.2L364.3 515.2Z" fill="#00ffff"/>
<path d="M375.5 502.2L382.7 510.2L375.5 518.2L368.3 510.2Z" fill="#00ffff"/>
<path d="M379.5 501.7L386.7 509.7L379.5 517.7L372.3 509.7Z" fill="#00ffff"/>
<path d="M383.5 504.9L390.7 512.9L383.5 520.9L376.3 512.9Z" fill="#00ffff"/>
<path d="M387.5 504.9L394.7 512.9L387.5 520.9L380.3 512.9Z" fill="#00ffff"/>
<path d="M391.5 507.2L398.7 515.2L391.5 523.2L384.3 515.2Z" fill="#00ffff"/>
<path d="M395.5 511.7L402.7 519.7L395.5 527.7L388.3 519.7Z" fill="#00ffff"/>
<path d="M399.5 507.4L406.7 515.4L399.5 523.4L392.3 515.4Z" fill="#00ffff"/>
<path d="M403.5 504.6L410.7 512.6L403.5 520.6L396.3 512.6Z" fill="#00ffff"/>
<path d="M407.5 506.4L414.7 514.4L407.5 522.4L400.3 514.4Z" fill="#00ffff"/>
<path d="M411.5 515.5L418.7 523.5L411.5 531.5L404.3 523.5Z" fill="#00ffff"/>
<path d="M415.5 505.0L422.7 513.0L415.5 521.0L408.3 513.0Z" fill="#00ffff"/>
<path d="M419.5 502.9L426.7 510.9L419.5 518.9L412.3 510.9Z" fill="#00ffff"/>
<path d="M423.5 503.3L430.7 511.3L423.5 519.3L416.3 511.3Z" fill="#00ffff"/>
<path d="M427.5 512.5L434.7 520.5L427.5 528.5L420.3 520.5Z" fill="#00ffff"/>
<path d="M431.5 501.8L438.7 509.8L431.5 517.8L424.3 509.8Z" fill="#00ffff"/>
<path d="M435.5 507.5L442.7 515.5L435.5 523.5L428.3 515.5Z" fill="#00ffff"/>
<path d="M439.5 506.8L446.7 514.8L439.5 522.8L432.3 514.8Z" fill="#00ffff"/>
<path d="M443.5 511.3L450.7 519.3L443.5 527.3L436.3 519.3Z" fill="#00ffff"/>
<path d="M447.5 507.9L454.7 515.9L447.5 523.9L440.3 515.9Z" fill="#00ffff"/>
<path d="M451.5 506.3L458.7 514.3L451.5 522.3L444.3 514.3Z" fill="#00ffff"/>
<path d="M455.5 506.3L462.7 514.3L455.5 522.3L448.3 514.3Z" fill="#00ffff"/>
<path d="M459.5 514.4L466.7 522.4L459.5 530.4L452.3 522.4Z" fill="#00ffff"/>
<path d="M463.5 516.2L470.7 524.2L463.5 532.2L456.3 524.2Z" fill="#00ffff"/>
<path d="M467.5 505.8L474.7 513.8L467.5 521.8L460.3 513.8Z" fill="#00ffff"/>
<path d="M471.5 508.8L478.7 516.8L471.5 524.8L464.3 516.8Z" fill="#00ffff"/>
<path d="M475.5 502.2L482.7 510.2L475.5 518.2L468.3 510.2Z" fill="#00ffff"/>
<path d="M479.5 504.9L486.7 512.9L479.5 520.9L472.3 512.9Z" fill="#00ffff"/>
<path d="M483.5 508.4L490.7 516.4L483.5 524.4L476.3 516.4Z" fill="#00ffff"/>
<path d="M487.5 505.3L494.7 513.3L487.5 521.3L480.3 513.3Z" fill="#00ffff"/>
<path d="M491.5 503.8L498.7 511.8L491.5 519.8L484.3 511.8Z" fill="#00ffff"/>
<path d="M495.5 499.6L502.7 507.6L495.5 515.6L488.3 507.6Z" fill="#00ffff"/>
<path d="M499.5 502.1L506.7 510.1L499.5 518.1L492.3 510.1Z" fill="#00ffff"/>
<path d="M503.5 494.9L510.7 502.9L503.5 510.9L496.3 502.9Z" fill="#00ffff"/>
<path d="M507.5 495.4L514.7 503.4L507.5 511.4L500.3 503.4Z" fill="#00ffff"/>
<path d="M511.5 494.0L518.7 502.0L511.5 510.0L504.3 502.0Z" fill="#00ffff"/>
<path d="M515.5 488.8L522.7 496.8L515.5 504.8L508.3 496.8Z" fill="#00ffff"/>
<path d="M519.5 486.0L526.7 494.0L519.5 502.0L512.3 494.0Z" fill="#00ffff"/>
<path d="M523.5 483.2L530.7 491.2L523.5 499.2L516.3 491.2Z" fill="#00ffff"/>
<path d="M527.5 475.3L534.7 483.3L527.5 491.3L520.3 483.3Z" fill="#00ffff"/>
<path d="M531.5 459.7L538.7 467.7L531.5 475.7L524.3 467.7Z" fill="#00ffff"/>
<path d="M535.5 458.8L542.7 466.8L535.5 474.8L528.3 466.8Z" fill="#00ffff"/>
<path d="M539.5 437.7L546.7 445.7L539.5 453.7L532.3 445.7Z" fill="#00ffff"/>
<path d="M543.5 427.5L550.7 435.5L543.5 443.5L536.3 435.5Z" fill="#00ffff"/>
<path d="M547.5 406.3L554.7 414.3L547.5 422.3L540.3 414.3Z" fill="#00ffff"/>
<path d="M551.5 399.5L558.7 407.5L551.5 415.5L544.3 407.5Z" fill="#00ffff"/>
<path d="M555.5 385.4L562.7 393.4L555.5 401.4L548.3 393.4Z" fill="#00ffff"/>
<path d="M559.5 366.9L566.7 374.9L559.5 382.9L552.3 374.9Z" fill="#00ffff"/>
<path d="M563.5 341.2L570.7 349.2L563.5 357.2L556.3 349.2Z" fill="#00ffff"/>
<path d="M567.5 311.5L574.7 319.5L567.5 327.5L560.3 319.5Z" fill="#00ffff"/>
<path d="M571.5 291.6L578.7 299.6L571.5 307.6L564.3 299.6Z" fill="#00ffff"/>
<path d="M575.5 261.9L582.7 269.9L575.5 277.9L568.3 269.9Z" fill="#00ffff"/>
<path d="M579.5 238.2L586.7 246.2L579.5 254.2L572.3 246.2Z" fill="#00ffff"/>
<path d="M583.5 224.8L590.7 232.8L583.5 240.8L576.3 232.8Z" fill="#00ffff"/>
<path d="M587.5 202.3L594.7 210.3L587.5 218.3L580.3 210.3Z" fill="#00ffff"/>
<path d="M591.5 187.8L598.7 195.8L591.5 203.8L584.3 195.8Z" fill="#00ffff"/>
<path d="M595.5 170.9L602.7 178.9L595.5 186.9L588.3 178.9Z" fill="#00ffff"/>
<path d="M599.5 169.9L606.7 177.9L599.5 185.9L592.3 177.9Z" fill="#00ffff"/>
<path d="M603.5 147.9L610.7 155.9L603.5 163.9L596.3 155.9Z" fill="#00ffff"/>
<path d="M607.5 158.0L614.7 166.0L607.5 174.0L600.3 166.0Z" fill="#00ffff"/>
<path d="M611.5 149.1L618.7 157.1L611.5 165.1L604.3 157.1Z" fill="#00ffff"/>
<path d="M615.5 141.7L622.7 149.7L615.5 157.7L608.3 149.7Z" fill="#00ffff"/>
<path d="M619.5 130.5L626.7 138.5L619.5 146.5L612.3 138.5Z" fill="#00ffff"/>
<path d="M623.5 122.6L630.7 130.6L623.5 138.6L616.3 130.6Z" fill="#00ffff"/>
<path d="M627.5 124.1L634.7 132.1L627.5 140.1L620.3 132.1Z" fill="#00ffff"/>
<path d="M631.5 122.8L638.7 130.8L631.5 138.8L624.3 130.8Z" fill="#00ffff"/>
<path d="M635.5 126.3L642.7 134.3L635.5 142.3L628.3 134.3Z" fill="#00ffff"/>
<path d="M639.5 123.5L646.7 131.5L639.5 139.5L632.3 131.5Z" fill="#00ffff"/>
<path d="M643.5 111.4L650.7 119.4L643.5 127.4L636.3 119.4Z" fill="#00ffff"/>
<path d="M647.5 119.5L654.7 127.5L647.5 135.5L640.3 127.5Z" fill="#00ffff"/>
<path d="M651.5 119.3L658.7 127.3L651.5 135.3L644.3 127.3Z" fill="#00ffff"/>
<path d="M655.5 124.7L662.7 132.7L655.5 140.7L648.3 132.7Z" fill="#00ffff"/>
<path d="M659.5 116.8L666.7 124.8L659.5 132.8L652.3 124.8Z" fill="#00ffff"/>
<path d="M663.5 126.4L670.7 134.4L663.5 142.4L656.3 134.4Z" fill="#00ffff"/>
<path d="M667.5 117.6L674.7 125.6L667.5 133.6L660.3 125.6Z" fill="#00ffff"/>
<path d="M671.5 123.6L678.7 131.6L671.5 139.6L664.3 131.6Z" fill="#00ffff"/>
<path d="M675.5 124.4L682.7 132.4L675.5 140.4L668.3 132.4Z" fill="#00ffff"/>
<path d="M679.5 119.3L686.7 127.3L679.5 135.3L672.3 127.3Z" fill="#00ffff"/>
<path d="M683.5 124.1L690.7 132.1L683.5 140.1L676.3 132.1Z" fill="#00ffff"/>
<path d="M687.5 113.3L694.7 121.3L687.5 129.3L680.3 121.3Z" fill="#00ffff"/>
<path d="M691.5 116.1L698.7 124.1L691.5 132.1L684.3 124.1Z" fill="#00ffff"/>
<path d="M695.5 122.2L702.7 130.2L695.5 138.2L688.3 130.2Z" fill="#00ffff"/>
<path d="M699.5 122.5L706.7 130.5L699.5 138.5L692.3 130.5Z" fill="#00ffff"/>
<path d="M703.5 125.5L710.7 133.5L703.5 141.5L696.3 133.5Z" fill="#00ffff"/>
<path d="M707.5 121.2L714.7 129.2L707.5 137.2L700.3 129.2Z" fill="#00ffff"/>
<path d="M711.5 122.0L718.7 130.0L711.5 138.0L704.3 130.0Z" fill="#00ffff"/>
<path d="M715.5 125.5L722.7 133.5L715.5 141.5L708.3 133.5Z" fill="#00ffff"/>
<path d="M719.5 127.8L726.7 135.8L719.5 143.8L712.3 135.8Z" fill="#00ffff"/>
<path d="M723.5 125.4L730.7 133.4L723.5 141.4L716.3 133.4Z" fill="#00ffff"/>
<path d="M727.5 119.9L734.7 127.9L727.5 135.9L720.3 127.9Z" fill="#00ffff"/>
<path d="M731.5 121.2L738.7 129.2L731.5 137.2L724.3 129.2Z" fill="#00ffff"/>
<path d="M735.5 115.2L742.7 123.2L735.5 131.2L728.3 123.2Z" fill="#00ffff"/>
<path d="M739.5 124.9L746.7 132.9L739.5 140.9L732.3 132.9Z" fill="#00ffff"/>
<path d="M743.5 124.4L750.7 132.4L743.5 140.4L736.3 132.4Z" fill="#00ffff"/>
<path d="M747.5 121.9L754.7 129.9L747.5 137.9L740.3 129.9Z" fill="#00ffff"/>
<path d="M751.5 129.6L758.7 137.6L751.5 145.6L744.3 137.6Z" fill="#00ffff"/>
<path d="M755.5 126.9L762.7 134.9L755.5 142.9L748.3 134.9Z" fill="#00ffff"/>
<path d="M759.5 126.8L766.7 134.8L759.5 142.8L752.3 134.8Z" fill="#00ffff"/>
<path d="M763.5 120.8L770.7 128.8L763.5 136.8L756.3 128.8Z" fill="#00ffff"/>
<path d="M767.5 125.9L774.7 133.9L767.5 141.9L760.3 133.9Z" fill="#00ffff"/>
<path d="M771.5 125.6L778.7 133.6L771.5 141.6L764.3 133.6Z" fill="#00ffff"/>
<path d="M775.5 123.3L782.7 131.3L775.5 139.3L768.3 131.3Z" fill="#00ffff"/>
<path d="M779.5 123.8L786.7 131.8L779.5 139.8L772.3 131.8Z" fill="#00ffff"/>
<path d="M783.5 117.8L790.7 125.8L783.5 133.8L776.3 125.8Z" fill="#00ffff"/>
<path d="M787.5 120.5L794.7 128.5L787.5 136.5L780.3 128.5Z" fill="#00ffff"/>
<path d="M791.5 123.9L798.7 131.9L791.5 139.9L784.3 131.9Z" fill="#00ffff"/>
<path d="M795.5 120.8L802.7 128.8L795.5 136.8L788.3 128.8Z" fill="#00ffff"/>
<path d="M799.5 121.2L806.7 129.2L799.5 137.2L792.3 129.2Z" fill="#00ffff"/>
<path d="M803.5 121.6L810.7 129.6L803.5 137.6L796.3 129.6Z" fill="#00ffff"/>
<path d="M807.5 122.3L814.7 130.3L807.5 138.3L800.3 130.3Z" fill="#00ffff"/>
<path d="M811.5 118.5L818.7 126.5L811.5 134.5L804.3 126.5Z" fill="#00ffff"/>
<path d="M815.5 121.2L822.7 129.2L815.5 137.2L808.3 129.2Z" fill="#00ffff"/>
<path d="M819.5 111.1L826.7 119.1L819.5 127.1L812.3 119.1Z" fill="#00ffff"/>
<path d="M823.5 126.6L830.7 134.6L823.5 142.6L816.3 134.6Z" fill="#00ffff"/>
<path d="M827.5 127.1L834.7 135.1L827.5 143.1L820.3 135.1Z" fill="#00ffff"/>
<path d="M831.5 122.1L838.7 130.1L831.5 138.1L824.3 130.1Z" fill="#00ffff"/>
<path d="M835.5 127.1L842.7 135.1L835.5 143.1L828.3 135.1Z" fill="#00ffff"/>
<path d="M839.5 129.2L846.7 137.2L839.5 145.2L832.3 137.2Z" fill="#00ffff"/>
<path d="M843.5 125.3L850.7 133.3L843.5 141.3L836.3 133.3Z" fill="#00ffff"/>
<path d="M847.5 124.2L854.7 132.2L847.5 140.2L840.3 132.2Z" fill="#00ffff"/>
<path d="M851.5 129.3L858.7 137.3L851.5 145.3L844.3 137.3Z" fill="#00ffff"/>
<path d="M855.5 124.8L862.7 132.8L855.5 140.8L848.3 132.8Z" fill="#00ffff"/>
<path d="M859.5 126.4L866.7 134.4L859.5 142.4L852.3 134.4Z" fill="#00ffff"/>
<path d="M863.5 122.7L870.7 130.7L863.5 138.7L856.3 130.7Z" fill="#00ffff"/>
<path d="M867.5 129.9L874.7 137.9L867.5 145.9L860.3 137.9Z" fill="#00ffff"/>
<path d="M871.5 135.5L878.7 143.5L871.5 151.5L864.3 143.5Z" fill="#00ffff"/>
<path d="M875.5 127.2L882.7 135.2L875.5 143.2L868.3 135.2Z" fill="#00ffff"/>
<path d="M879.5 134.5L886.7 142.5L879.5 150.5L872.3 142.5Z" fill="#00ffff"/>
<path d="M883.5 123.2L890.7 131.2L883.5 139.2L876.3 131.2Z" fill="#00ffff"/>
<path d="M887.5 134.9L894.7 142.9L887.5 150.9L880.3 142.9Z" fill="#00ffff"/>
<path d="M891.5 129.5L898.7 137.5L891.5 145.5L884.3 137.5Z" fill="#00ffff"/>
<path d="M895.5 125.9L902.7 133.9L895.5 141.9L888.3 133.9Z" fill="#00ffff"/>
<path d="M899.5 124.1L906.7 132.1L899.5 140.1L892.3 132.1Z" fill="#00ffff"/>
<path d="M903.5 136.0L910.7 144.0L903.5 152.0L896.3 144.0Z" fill="#00ffff"/>
<path d="M907.5 135.2L914.7 143.2L907.5 151.2L900.3 143.2Z" fill="#00ffff"/>
<path d="M911.5 126.4L918.7 134.4L911.5 142.4L904.3 134.4Z" fill="#00ffff"/>
<path d="M915.5 134.1L922.7 142.1L915.5 150.1L908.3 142.1Z" fill="#00ffff"/>
<path d="M919.5 130.7L926.7 138.7L919.5 146.7L912.3 138.7Z" fill="#00ffff"/>
<path d="M923.5 134.4L930.7 142.4L923.5 150.4L916.3 142.4Z" fill="#00ffff"/>
<path d="M927.5 138.9L934.7 146.9L927.5 154.9L920.3 146.9Z" fill="#00ffff"/>
<path d="M931.5 127.1L938.7 135.1L931.5 143.1L924.3 135.1Z" fill="#00ffff"/>
<path d="M935.5 133.8L942.7 141.8L935.5 149.8L928.3 141.8Z" fill="#00ffff"/>
<path d="M939.5 134.5L946.7 142.5L939.5 150.5L932.3 142.5Z" fill="#00ffff"/>
<path d="M943.5 132.2L950.7 140.2L943.5 148.2L936.3 140.2Z" fill="#00ffff"/>
<path d="M947.5 132.6L954.7 140.6L947.5 148.6L940.3 140.6Z" fill="#00ffff"/>
<path d="M951.5 129.9L958.7 137.9L951.5 145.9L944.3 137.9Z" fill="#00ffff"/>
<path d="M955.5 129.9L962.7 137.9L955.5 145.9L948.3 137.9Z" fill="#00ffff"/>
<path d="M959.5 141.4L966.7 149.4L959.5 157.4L952.3 149.4Z" fill="#00ffff"/>
<path d="M963.5 128.3L970.7 136.3L963.5 144.3L956.3 136.3Z" fill="#00ffff"/>
<path d="M967.5 129.8L974.7 137.8L967.5 145.8L960.3 137.8Z" fill="#00ffff"/>
<path d="M167.5 476.1L175.5 469.4L183.5 467.9L191.5 461.9L199.5 462.2L207.5 466.7L215.5 458.3L223.5 466.8L231.5 463.2L239.5 468.1L247.5 465.6L255.5 460.9L263.5 464.2L271.5 461.8L279.5 465.6L287.5 461.8L295.5 464.7L303.5 460.4L311.5 471.0L319.5 472.7L327.5 471.9L335.5 476.9L343.5 477.0L351.5 478.1L359.5 481.5L367.5 482.0L375.5 485.0L383.5 485.8L391.5 483.7L399.5 484.3L407.5 489.4L415.5 486.6L423.5 485.1L431.5 484.7L439.5 487.2L447.5 485.7L455.5 484.5L463.5 491.3L471.5 490.0L479.5 487.1L487.5 489.5L495.5 480.2L503.5 487.0L511.5 480.0L519.5 475.4L527.5 468.8L531.5 456.3L535.5 452.1L539.5 448.0L543.5 433.3L547.5 418.1L551.5 407.3L555.5 386.9L559.5 362.7L563.5 343.3L567.5 321.8L571.5 294.2L575.5 277.3L579.5 257.0L583.5 237.5L587.5 225.2L591.5 211.5L595.5 198.3L599.5 192.8L603.5 183.4L607.5 180.5L611.5 172.1L615.5 171.1L623.5 156.5L631.5 157.6L639.5 153.7L647.5 152.0L655.5 157.9L663.5 150.8L671.5 153.3L679.5 155.1L687.5 162.1L695.5 154.5L703.5 152.8L711.5 153.7L719.5 155.7L727.5 153.8L735.5 155.6L743.5 151.5L751.5 152.1L759.5 153.2L767.5 151.4L775.5 152.9L783.5 154.8L791.5 155.0L799.5 157.0L807.5 159.5L815.5 158.1L823.5 153.9L831.5 158.8L839.5 156.9L847.5 158.7L855.5 157.2L863.5 156.4L871.5 155.4L879.5 156.0L887.5 156.0L895.5 156.6L903.5 159.1L911.5 159.6L919.5 159.5L927.5 159.8L935.5 159.6L943.5 164.5L951.5 162.1L959.5 162.4L967.5 159.3" fill="none" stroke="#ff00ff" stroke-width="2.4" stroke-linejoin="round"/>
<path d="M159.2 476.1L171.7 468.1L171.7 484.1Z" fill="#ff00ff"/>
<path d="M167.2 469.4L179.7 461.4L179.7 477.4Z" fill="#ff00ff"/>
<path d="M175.2 467.9L187.7 459.9L187.7 475.9Z" fill="#ff00ff"/>
<path d="M183.2 461.9L195.7 453.9L195.7 469.9Z" fill="#ff00ff"/>
<path d="M191.2 462.2L203.7 454.2L203.7 470.2Z" fill="#ff00ff"/>
<path d="M199.2 466.7L211.7 458.7L211.7 474.7Z" fill="#ff00ff"/>
<path d="M207.2 458.3L219.7 450.3L219.7 466.3Z" fill="#ff00ff"/>
<path d="M215.2 466.8L227.7 458.8L227.7 474.8Z" fill="#ff00ff"/>
<path d="M223.2 463.2L235.7 455.2L235.7 471.2Z" fill="#ff00ff"/>
<path d="M231.2 468.1L243.7 460.1L243.7 476.1Z" fill="#ff00ff"/>
<path d="M239.2 465.6L251.7 457.6L251.7 473.6Z" fill="#ff00ff"/>
<path d="M247.2 460.9L259.7 452.9L259.7 468.9Z" fill="#ff00ff"/>
<path d="M255.2 464.2L267.7 456.2L267.7 472.2Z" fill="#ff00ff"/>
<path d="M263.2 461.8L275.7 453.8L275.7 469.8Z" fill="#ff00ff"/>
<path d="M271.2 465.6L283.7 457.6L283.7 473.6Z" fill="#ff00ff"/>
<path d="M279.2 461.8L291.7 453.8L291.7 469.8Z" fill="#ff00ff"/>
<path d="M287.2 464.7L299.7 456.7L299.7 472.7Z" fill="#ff00ff"/>
<path d="M295.2 460.4L307.7 452.4L307.7 468.4Z" fill="#ff00ff"/>
<path d="M303.2 471.0L315.7 463.0L315.7 479.0Z" fill="#ff00ff"/>
<path d="M311.2 472.7L323.7 464.7L323.7 480.7Z" fill="#ff00ff"/>
<path d="M319.2 471.9L331.7 463.9L331.7 479.9Z" fill="#ff00ff"/>
<path d="M327.2 476.9L339.7 468.9L339.7 484.9Z" fill="#ff00ff"/>
<path d="M335.2 477.0L347.7 469.0L347.7 485.0Z" fill="#ff00ff"/>
<path d="M343.2 478.1L355.7 470.1L355.7 486.1Z" fill="#ff00ff"/>
<path d="M351.2 481.5L363.7 473.5L363.7 489.5Z" fill="#ff00ff"/>
<path d="M359.2 482.0L371.7 474.0L371.7 490.0Z" fill="#ff00ff"/>
<path d="M367.2 485.0L379.7 477.0L379.7 493.0Z" fill="#ff00ff"/>
<path d="M375.2 485.8L387.7 477.8L387.7 493.8Z" fill="#ff00ff"/>
<path d="M383.2 483.7L395.7 475.7L395.7 491.7Z" fill="#ff00ff"/>
<path d="M391.2 484.3L403.7 476.3L403.7 492.3Z" fill="#ff00ff"/>
<path d="M399.2 489.4L411.7 481.4L411.7 497.4Z" fill="#ff00ff"/>
<path d="M407.2 486.6L419.7 478.6L419.7 494.6Z" fill="#ff00ff"/>
<path d="M415.2 485.1L427.7 477.1L427.7 493.1Z" fill="#ff00ff"/>
<path d="M423.2 484.7L435.7 476.7L435.7 492.7Z" fill="#ff00ff"/>
<path d="M431.2 487.2L443.7 479.2L443.7 495.2Z" fill="#ff00ff"/>
<path d="M439.2 485.7L451.7 477.7L451.7 493.7Z" fill="#ff00ff"/>
<path d="M447.2 484.5L459.7 476.5L459.7 492.5Z" fill="#ff00ff"/>
<path d="M455.2 491.3L467.7 483.3L467.7 499.3Z" fill="#ff00ff"/>
<path d="M463.2 490.0L475.7 482.0L475.7 498.0Z" fill="#ff00ff"/>
<path d="M471.2 487.1L483.7 479.1L483.7 495.1Z" fill="#ff00ff"/>
<path d="M479.2 489.5L491.7 481.5L491.7 497.5Z" fill="#ff00ff"/>
<path d="M487.2 480.2L499.7 472.2L499.7 488.2Z" fill="#ff00ff"/>
<path d="M495.2 487.0L507.7 479.0L507.7 495.0Z" fill="#ff00ff"/>
<path d="M503.2 480.0L515.7 472.0L515.7 488.0Z" fill="#ff00ff"/>
<path d="M511.2 475.4L523.7 467.4L523.7 483.4Z" fill="#ff00ff"/>
<path d="M519.2 468.8L531.7 460.8L531.7 476.8Z" fill="#ff00ff"/>
<path d="M523.2 456.3L535.7 448.3L535.7 464.3Z" fill="#ff00ff"/>
<path d="M527.2 452.1L539.7 444.1L539.7 460.1Z" fill="#ff00ff"/>
<path d="M531.2 448.0L543.7 440.0L543.7 456.0Z" fill="#ff00ff"/>
<path d="M535.2 433.3L547.7 425.3L547.7 441.3Z" fill="#ff00ff"/>
<path d="M539.2 418.1L551.7 410.1L551.7 426.1Z" fill="#ff00ff"/>
<path d="M543.2 407.3L555.7 399.3L555.7 415.3Z" fill="#ff00ff"/>
<path d="M547.2 386.9L559.7 378.9L559.7 394.9Z" fill="#ff00ff"/>
<path d="M551.2 362.7L563.7 354.7L563.7 370.7Z" fill="#ff00ff"/>
<path d="M555.2 343.3L567.7 335.3L567.7 351.3Z" fill="#ff00ff"/>
<path d="M559.2 321.8L571.7 313.8L571.7 329.8Z" fill="#ff00ff"/>
<path d="M563.2 294.2L575.7 286.2L575.7 302.2Z" fill="#ff00ff"/>
<path d="M567.2 277.3L579.7 269.3L579.7 285.3Z" fill="#ff00ff"/>
<path d="M571.2 257.0L583.7 249.0L583.7 265.0Z" fill="#ff00ff"/>
<path d="M575.2 237.5L587.7 229.5L587.7 245.5Z" fill="#ff00ff"/>
<path d="M579.2 225.2L591.7 217.2L591.7 233.2Z" fill="#ff00ff"/>
<path d="M583.2 211.5L595.7 203.5L595.7 219.5Z" fill="#ff00ff"/>
<path d="M587.2 198.3L599.7 190.3L599.7 206.3Z" fill="#ff00ff"/>
<path d="M591.2 192.8L603.7 184.8L603.7 200.8Z" fill="#ff00ff"/>
<path d="M595.2 183.4L607.7 175.4L607.7 191.4Z" fill="#ff00ff"/>
<path d="M599.2 180.5L611.7 172.5L611.7 188.5Z" fill="#ff00ff"/>
<path d="M603.2 172.1L615.7 164.1L615.7 180.1Z" fill="#ff00ff"/>
<path d="M607.2 171.1L619.7 163.1L619.7 179.1Z" fill="#ff00ff"/>
<path d="M615.2 156.5L627.7 148.5L627.7 164.5Z" fill="#ff00ff"/>
<path d="M623.2 157.6L635.7 149.6L635.7 165.6Z" fill="#ff00ff"/>
<path d="M631.2 153.7L643.7 145.7L643.7 161.7Z" fill="#ff00ff"/>
<path d="M639.2 152.0L651.7 144.0L651.7 160.0Z" fill="#ff00ff"/>
<path d="M647.2 157.9L659.7 149.9L659.7 165.9Z" fill="#ff00ff"/>
<path d="M655.2 150.8L667.7 142.8L667.7 158.8Z" fill="#ff00ff"/>
<path d="M663.2 153.3L675.7 145.3L675.7 161.3Z" fill="#ff00ff"/>
<path d="M671.2 155.1L683.7 147.1L683.7 163.1Z" fill="#ff00ff"/>
<path d="M679.2 162.1L691.7 154.1L691.7 170.1Z" fill="#ff00ff"/>
<path d="M687.2 154.5L699.7 146.5L699.7 162.5Z" fill="#ff00ff"/>
<path d="M695.2 152.8L707.7 144.8L707.7 160.8Z" fill="#ff00ff"/>
<path d="M703.2 153.7L715.7 145.7L715.7 161.7Z" fill="#ff00ff"/>
<path d="M711.2 155.7L723.7 147.7L723.7 163.7Z" fill="#ff00ff"/>
<path d="M719.2 153.8L731.7 145.8L731.7 161.8Z" fill="#ff00ff"/>
<path d="M727.2 155.6L739.7 147.6L739.7 163.6Z" fill="#ff00ff"/>
<path d="M735.2 151.5L747.7 143.5L747.7 159.5Z" fill="#ff00ff"/>
<path d="M743.2 152.1L755.7 144.1L755.7 160.1Z" fill="#ff00ff"/>
<path d="M751.2 153.2L763.7 145.2L763.7 161.2Z" fill="#ff00ff"/>
<path d="M759.2 151.4L771.7 143.4L771.7 159.4Z" fill="#ff00ff"/>
<path d="M767.2 152.9L779.7 144.9L779.7 160.9Z" fill="#ff00ff"/>
<path d="M775.2 154.8L787.7 146.8L787.7 162.8Z" fill="#ff00ff"/>
<path d="M783.2 155.0L795.7 147.0L795.7 163.0Z" fill="#ff00ff"/>
<path d="M791.2 157.0L803.7 149.0L803.7 165.0Z" fill="#ff00ff"/>
<path d="M799.2 159.5L811.7 151.5L811.7 167.5Z" fill="#ff00ff"/>
<path d="M807.2 158.1L819.7 150.1L819.7 166.1Z" fill="#ff00ff"/>
<path d="M815.2 153.9L827.7 145.9L827.7 161.9Z" fill="#ff00ff"/>
<path d="M823.2 158.8L835.7 150.8L835.7 166.8Z" fill="#ff00ff"/>
<path d="M831.2 156.9L843.7 148.9L843.7 164.9Z" fill="#ff00ff"/>
<path d="M839.2 158.7L851.7 150.7L851.7 166.7Z" fill="#ff00ff"/>
<path d="M847.2 157.2L859.7 149.2L859.7 165.2Z" fill="#ff00ff"/>
<path d="M855.2 156.4L867.7 148.4L867.7 164.4Z" fill="#ff00ff"/>
<path d="M863.2 155.4L875.7 147.4L875.7 163.4Z" fill="#ff00ff"/>
<path d="M871.2 156.0L883.7 148.0L883.7 164.0Z" fill="#ff00ff"/>
<path d="M879.2 156.0L891.7 148.0L891.7 164.0Z" fill="#ff00ff"/>
<path d="M887.2 156.6L899.7 148.6L899.7 164.6Z" fill="#ff00ff"/>
<path d="M895.2 159.1L907.7 151.1L907.7 167.1Z" fill="#ff00ff"/>
<path d="M903.2 159.6L915.7 151.6L915.7 167.6Z" fill="#ff00ff"/>
<path d="M911.2 159.5L923.7 151.5L923.7 167.5Z" fill="#ff00ff"/>
<path d="M919.2 159.8L931.7 151.8L931.7 167.8Z" fill="#ff00ff"/>
<path d="M927.2 159.6L939.7 151.6L939.7 167.6Z" fill="#ff00ff"/>
<path d="M935.2 164.5L947.7 156.5L947.7 172.5Z" fill="#ff00ff"/>
<path d="M943.2 162.1L955.7 154.1L955.7 170.1Z" fill="#ff00ff"/>
<path d="M951.2 162.4L963.7 154.4L963.7 170.4Z" fill="#ff00ff"/>
<path d="M959.2 159.3L971.7 151.3L971.7 167.3Z" fill="#ff00ff"/>
<path d="M167.5 460.4L175.5 456.8L183.5 462.4L191.5 456.6L199.5 459.8L207.5 460.9L215.5 459.8L223.5 464.0L231.5 456.8L239.5 463.2L247.5 463.1L255.5 467.2L263.5 465.0L271.5 465.0L279.5 462.2L287.5 464.6L295.5 462.6L303.5 463.1L311.5 467.3L319.5 462.6L327.5 460.8L335.5 467.8L343.5 466.4L351.5 466.6L359.5 466.9L367.5 469.0L375.5 466.9L383.5 470.3L391.5 466.2L399.5 469.9L407.5 470.1L415.5 466.5L423.5 468.2L431.5 470.1L439.5 470.9L447.5 471.6L455.5 471.8L463.5 470.7L471.5 474.6L479.5 472.3L487.5 467.9L495.5 469.4L503.5 469.1L511.5 465.6L519.5 464.8L527.5 452.2L531.5 443.7L535.5 438.5L539.5 434.1L543.5 426.6L547.5 411.9L551.5 395.5L555.5 381.3L559.5 360.5L563.5 346.6L567.5 322.4L571.5 307.7L575.5 278.0L579.5 265.0L583.5 245.9L587.5 230.1L591.5 215.9L595.5 204.8L599.5 192.6L603.5 188.8L607.5 179.0L611.5 180.4L615.5 176.1L623.5 171.3L631.5 174.2L639.5 170.6L647.5 164.7L655.5 164.9L663.5 160.1L671.5 163.0L679.5 169.5L687.5 164.9L695.5 163.7L703.5 166.0L711.5 162.0L719.5 167.8L727.5 174.8L735.5 171.1L743.5 165.8L751.5 169.1L759.5 169.7L767.5 167.7L775.5 167.1L783.5 168.2L791.5 165.4L799.5 171.9L807.5 172.6L815.5 164.1L823.5 168.5L831.5 170.1L839.5 169.8L847.5 170.5L855.5 168.1L863.5 171.2L871.5 166.2L879.5 168.5L887.5 169.4L895.5 179.4L903.5 173.1L911.5 173.5L919.5 171.0L927.5 171.7L935.5 170.1L943.5 171.3L951.5 179.4L959.5 173.0L967.5 179.0" fill="none" stroke="#00ff00" stroke-width="2.4" stroke-linejoin="round"/>
<path d="M175.2 460.4L163.7 453.5L163.7 467.3Z" fill="#fff" stroke="#00ff00" stroke-width="1.3"/>
<path d="M183.2 456.8L171.7 449.9L171.7 463.7Z" fill="#fff" stroke="#00ff00" stroke-width="1.3"/>
<path d="M191.2 462.4L179.7 455.5L179.7 469.3Z" fill="#fff" stroke="#00ff00" stroke-width="1.3"/>
<path d="M199.2 456.6L187.7 449.7L187.7 463.5Z" fill="#fff" stroke="#00ff00" stroke-width="1.3"/>
<path d="M207.2 459.8L195.7 452.9L195.7 466.7Z" fill="#fff" stroke="#00ff00" stroke-width="1.3"/>
<path d="M215.2 460.9L203.7 454.0L203.7 467.8Z" fill="#fff" stroke="#00ff00" stroke-width="1.3"/>
<path d="M223.2 459.8L211.7 452.9L211.7 466.7Z" fill="#fff" stroke="#00ff00" stroke-width="1.3"/>
<path d="M231.2 464.0L219.7 457.1L219.7 470.9Z" fill="#fff" stroke="#00ff00" stroke-width="1.3"/>
<path d="M239.2 456.8L227.7 449.9L227.7 463.7Z" fill="#fff" stroke="#00ff00" stroke-width="1.3"/>
<path d="M247.2 463.2L235.7 456.3L235.7 470.1Z" fill="#fff" stroke="#00ff00" stroke-width="1.3"/>
<path d="M255.2 463.1L243.7 456.2L243.7 470.0Z" fill="#fff" stroke="#00ff00" stroke-width="1.3"/>
<path d="M263.2 467.2L251.7 460.3L251.7 474.1Z" fill="#fff" stroke="#00ff00" stroke-width="1.3"/>
<path d="M271.2 465.0L259.7 458.1L259.7 471.9Z" fill="#fff" stroke="#00ff00" stroke-width="1.3"/>
<path d="M279.2 465.0L267.7 458.1L267.7 471.9Z" fill="#fff" stroke="#00ff00" stroke-width="1.3"/>
<path d="M287.2 462.2L275.7 455.3L275.7 469.1Z" fill="#fff" stroke="#00ff00" stroke-width="1.3"/>
<path d="M295.2 464.6L283.7 457.7L283.7 471.5Z" fill="#fff" stroke="#00ff00" stroke-width="1.3"/>
<path d="M303.2 462.6L291.7 455.7L291.7 469.5Z" fill="#fff" stroke="#00ff00" stroke-width="1.3"/>
<path d="M311.2 463.1L299.7 456.2L299.7 470.0Z" fill="#fff" stroke="#00ff00" stroke-width="1.3"/>
<path d="M319.2 467.3L307.7 460.4L307.7 474.2Z" fill="#fff" stroke="#00ff00" stroke-width="1.3"/>
<path d="M327.2 462.6L315.7 455.7L315.7 469.5Z" fill="#fff" stroke="#00ff00" stroke-width="1.3"/>
<path d="M335.2 460.8L323.7 453.9L323.7 467.7Z" fill="#fff" stroke="#00ff00" stroke-width="1.3"/>
<path d="M343.2 467.8L331.7 460.9L331.7 474.7Z" fill="#fff" stroke="#00ff00" stroke-width="1.3"/>
<path d="M351.2 466.4L339.7 459.5L339.7 473.3Z" fill="#fff" stroke="#00ff00" stroke-width="1.3"/>
<path d="M359.2 466.6L347.7 459.7L347.7 473.5Z" fill="#fff" stroke="#00ff00" stroke-width="1.3"/>
<path d="M367.2 466.9L355.7 460.0L355.7 473.8Z" fill="#fff" stroke="#00ff00" stroke-width="1.3"/>
<path d="M375.2 469.0L363.7 462.1L363.7 475.9Z" fill="#fff" stroke="#00ff00" stroke-width="1.3"/>
<path d="M383.2 466.9L371.7 460.0L371.7 473.8Z" fill="#fff" stroke="#00ff00" stroke-width="1.3"/>
<path d="M391.2 470.3L379.7 463.4L379.7 477.2Z" fill="#fff" stroke="#00ff00" stroke-width="1.3"/>
<path d="M399.2 466.2L387.7 459.3L387.7 473.1Z" fill="#fff" stroke="#00ff00" stroke-width="1.3"/>
<path d="M407.2 469.9L395.7 463.0L395.7 476.8Z" fill="#fff" stroke="#00ff00" stroke-width="1.3"/>
<path d="M415.2 470.1L403.7 463.2L403.7 477.0Z" fill="#fff" stroke="#00ff00" stroke-width="1.3"/>
<path d="M423.2 466.5L411.7 459.6L411.7 473.4Z" fill="#fff" stroke="#00ff00" stroke-width="1.3"/>
<path d="M431.2 468.2L419.7 461.3L419.7 475.1Z" fill="#fff" stroke="#00ff00" stroke-width="1.3"/>
<path d="M439.2 470.1L427.7 463.2L427.7 477.0Z" fill="#fff" stroke="#00ff00" stroke-width="1.3"/>
<path d="M447.2 470.9L435.7 464.0L435.7 477.8Z" fill="#fff" stroke="#00ff00" stroke-width="1.3"/>
<path d="M455.2 471.6L443.7 464.7L443.7 478.5Z" fill="#fff" stroke="#00ff00" stroke-width="1.3"/>
<path d="M463.2 471.8L451.7 464.9L451.7 478.7Z" fill="#fff" stroke="#00ff00" stroke-width="1.3"/>
<path d="M471.2 470.7L459.7 463.8L459.7 477.6Z" fill="#fff" stroke="#00ff00" stroke-width="1.3"/>
<path d="M479.2 474.6L467.7 467.7L467.7 481.5Z" fill="#fff" stroke="#00ff00" stroke-width="1.3"/>
<path d="M487.2 472.3L475.7 465.4L475.7 479.2Z" fill="#fff" stroke="#00ff00" stroke-width="1.3"/>
<path d="M495.2 467.9L483.7 461.0L483.7 474.8Z" fill="#fff" stroke="#00ff00" stroke-width="1.3"/>
<path d="M503.2 469.4L491.7 462.5L491.7 476.3Z" fill="#fff" stroke="#00ff00" stroke-width="1.3"/>
<path d="M511.2 469.1L499.7 462.2L499.7 476.0Z" fill="#fff" stroke="#00ff00" stroke-width="1.3"/>
<path d="M519.2 465.6L507.7 458.7L507.7 472.5Z" fill="#fff" stroke="#00ff00" stroke-width="1.3"/>
<path d="M527.2 464.8L515.7 457.9L515.7 471.7Z" fill="#fff" stroke="#00ff00" stroke-width="1.3"/>
<path d="M535.2 452.2L523.7 445.3L523.7 459.1Z" fill="#fff" stroke="#00ff00" stroke-width="1.3"/>
<path d="M539.2 443.7L527.7 436.8L527.7 450.6Z" fill="#fff" stroke="#00ff00" stroke-width="1.3"/>
<path d="M543.2 438.5L531.7 431.6L531.7 445.4Z" fill="#fff" stroke="#00ff00" stroke-width="1.3"/>
<path d="M547.2 434.1L535.7 427.2L535.7 441.0Z" fill="#fff" stroke="#00ff00" stroke-width="1.3"/>
<path d="M551.2 426.6L539.7 419.7L539.7 433.5Z" fill="#fff" stroke="#00ff00" stroke-width="1.3"/>
<path d="M555.2 411.9L543.7 405.0L543.7 418.8Z" fill="#fff" stroke="#00ff00" stroke-width="1.3"/>
<path d="M559.2 395.5L547.7 388.6L547.7 402.4Z" fill="#fff" stroke="#00ff00" stroke-width="1.3"/>
<path d="M563.2 381.3L551.7 374.4L551.7 388.2Z" fill="#fff" stroke="#00ff00" stroke-width="1.3"/>
<path d="M567.2 360.5L555.7 353.6L555.7 367.4Z" fill="#fff" stroke="#00ff00" stroke-width="1.3"/>
<path d="M571.2 346.6L559.7 339.7L559.7 353.5Z" fill="#fff" stroke="#00ff00" stroke-width="1.3"/>
<path d="M575.2 322.4L563.7 315.5L563.7 329.3Z" fill="#fff" stroke="#00ff00" stroke-width="1.3"/>
<path d="M579.2 307.7L567.7 300.8L567.7 314.6Z" fill="#fff" stroke="#00ff00" stroke-width="1.3"/>
<path d="M583.2 278.0L571.7 271.1L571.7 284.9Z" fill="#fff" stroke="#00ff00" stroke-width="1.3"/>
<path d="M587.2 265.0L575.7 258.1L575.7 271.9Z" fill="#fff" stroke="#00ff00" stroke-width="1.3"/>
<path d="M591.2 245.9L579.7 239.0L579.7 252.8Z" fill="#fff" stroke="#00ff00" stroke-width="1.3"/>
<path d="M595.2 230.1L583.7 223.2L583.7 237.0Z" fill="#fff" stroke="#00ff00" stroke-width="1.3"/>
<path d="M599.2 215.9L587.7 209.0L587.7 222.8Z" fill="#fff" stroke="#00ff00" stroke-width="1.3"/>
<path d="M603.2 204.8L591.7 197.9L591.7 211.7Z" fill="#fff" stroke="#00ff00" stroke-width="1.3"/>
<path d="M607.2 192.6L595.7 185.7L595.7 199.5Z" fill="#fff" stroke="#00ff00" stroke-width="1.3"/>
<path d="M611.2 188.8L599.7 181.9L599.7 195.7Z" fill="#fff" stroke="#00ff00" stroke-width="1.3"/>
<path d="M615.2 179.0L603.7 172.1L603.7 185.9Z" fill="#fff" stroke="#00ff00" stroke-width="1.3"/>
<path d="M619.2 180.4L607.7 173.5L607.7 187.3Z" fill="#fff" stroke="#00ff00" stroke-width="1.3"/>
<path d="M623.2 176.1L611.7 169.2L611.7 183.0Z" fill="#fff" stroke="#00ff00" stroke-width="1.3"/>
<path d="M631.2 171.3L619.7 164.4L619.7 178.2Z" fill="#fff" stroke="#00ff00" stroke-width="1.3"/>
<path d="M639.2 174.2L627.7 167.3L627.7 181.1Z" fill="#fff" stroke="#00ff00" stroke-width="1.3"/>
<path d="M647.2 170.6L635.7 163.7L635.7 177.5Z" fill="#fff" stroke="#00ff00" stroke-width="1.3"/>
<path d="M655.2 164.7L643.7 157.8L643.7 171.6Z" fill="#fff" stroke="#00ff00" stroke-width="1.3"/>
<path d="M663.2 164.9L651.7 158.0L651.7 171.8Z" fill="#fff" stroke="#00ff00" stroke-width="1.3"/>
<path d="M671.2 160.1L659.7 153.2L659.7 167.0Z" fill="#fff" stroke="#00ff00" stroke-width="1.3"/>
<path d="M679.2 163.0L667.7 156.1L667.7 169.9Z" fill="#fff" stroke="#00ff00" stroke-width="1.3"/>
<path d="M687.2 169.5L675.7 162.6L675.7 176.4Z" fill="#fff" stroke="#00ff00" stroke-width="1.3"/>
<path d="M695.2 164.9L683.7 158.0L683.7 171.8Z" fill="#fff" stroke="#00ff00" stroke-width="1.3"/>
<path d="M703.2 163.7L691.7 156.8L691.7 170.6Z" fill="#fff" stroke="#00ff00" stroke-width="1.3"/>
<path d="M711.2 166.0L699.7 159.1L699.7 172.9Z" fill="#fff" stroke="#00ff00" stroke-width="1.3"/>
<path d="M719.2 162.0L707.7 155.1L707.7 168.9Z" fill="#fff" stroke="#00ff00" stroke-width="1.3"/>
<path d="M727.2 167.8L715.7 160.9L715.7 174.7Z" fill="#fff" stroke="#00ff00" stroke-width="1.3"/>
<path d="M735.2 174.8L723.7 167.9L723.7 181.7Z" fill="#fff" stroke="#00ff00" stroke-width="1.3"/>
<path d="M743.2 171.1L731.7 164.2L731.7 178.0Z" fill="#fff" stroke="#00ff00" stroke-width="1.3"/>
<path d="M751.2 165.8L739.7 158.9L739.7 172.7Z" fill="#fff" stroke="#00ff00" stroke-width="1.3"/>
<path d="M759.2 169.1L747.7 162.2L747.7 176.0Z" fill="#fff" stroke="#00ff00" stroke-width="1.3"/>
<path d="M767.2 169.7L755.7 162.8L755.7 176.6Z" fill="#fff" stroke="#00ff00" stroke-width="1.3"/>
<path d="M775.2 167.7L763.7 160.8L763.7 174.6Z" fill="#fff" stroke="#00ff00" stroke-width="1.3"/>
<path d="M783.2 167.1L771.7 160.2L771.7 174.0Z" fill="#fff" stroke="#00ff00" stroke-width="1.3"/>
<path d="M791.2 168.2L779.7 161.3L779.7 175.1Z" fill="#fff" stroke="#00ff00" stroke-width="1.3"/>
<path d="M799.2 165.4L787.7 158.5L787.7 172.3Z" fill="#fff" stroke="#00ff00" stroke-width="1.3"/>
<path d="M807.2 171.9L795.7 165.0L795.7 178.8Z" fill="#fff" stroke="#00ff00" stroke-width="1.3"/>
<path d="M815.2 172.6L803.7 165.7L803.7 179.5Z" fill="#fff" stroke="#00ff00" stroke-width="1.3"/>
<path d="M823.2 164.1L811.7 157.2L811.7 171.0Z" fill="#fff" stroke="#00ff00" stroke-width="1.3"/>
<path d="M831.2 168.5L819.7 161.6L819.7 175.4Z" fill="#fff" stroke="#00ff00" stroke-width="1.3"/>
<path d="M839.2 170.1L827.7 163.2L827.7 177.0Z" fill="#fff" stroke="#00ff00" stroke-width="1.3"/>
<path d="M847.2 169.8L835.7 162.9L835.7 176.7Z" fill="#fff" stroke="#00ff00" stroke-width="1.3"/>
<path d="M855.2 170.5L843.7 163.6L843.7 177.4Z" fill="#fff" stroke="#00ff00" stroke-width="1.3"/>
<path d="M863.2 168.1L851.7 161.2L851.7 175.0Z" fill="#fff" stroke="#00ff00" stroke-width="1.3"/>
<path d="M871.2 171.2L859.7 164.3L859.7 178.1Z" fill="#fff" stroke="#00ff00" stroke-width="1.3"/>
<path d="M879.2 166.2L867.7 159.3L867.7 173.1Z" fill="#fff" stroke="#00ff00" stroke-width="1.3"/>
<path d="M887.2 168.5L875.7 161.6L875.7 175.4Z" fill="#fff" stroke="#00ff00" stroke-width="1.3"/>
<path d="M895.2 169.4L883.7 162.5L883.7 176.3Z" fill="#fff" stroke="#00ff00" stroke-width="1.3"/>
<path d="M903.2 179.4L891.7 172.5L891.7 186.3Z" fill="#fff" stroke="#00ff00" stroke-width="1.3"/>
<path d="M911.2 173.1L899.7 166.2L899.7 180.0Z" fill="#fff" stroke="#00ff00" stroke-width="1.3"/>
<path d="M919.2 173.5L907.7 166.6L907.7 180.4Z" fill="#fff" stroke="#00ff00" stroke-width="1.3"/>
<path d="M927.2 171.0L915.7 164.1L915.7 177.9Z" fill="#fff" stroke="#00ff00" stroke-width="1.3"/>
<path d="M935.2 171.7L923.7 164.8L923.7 178.6Z" fill="#fff" stroke="#00ff00" stroke-width="1.3"/>
<path d="M943.2 170.1L931.7 163.2L931.7 177.0Z" fill="#fff" stroke="#00ff00" stroke-width="1.3"/>
<path d="M951.2 171.3L939.7 164.4L939.7 178.2Z" fill="#fff" stroke="#00ff00" stroke-width="1.3"/>
<path d="M959.2 179.4L947.7 172.5L947.7 186.3Z" fill="#fff" stroke="#00ff00" stroke-width="1.3"/>
<path d="M967.2 173.0L955.7 166.1L955.7 179.9Z" fill="#fff" stroke="#00ff00" stroke-width="1.3"/>
<path d="M975.2 179.0L963.7 172.1L963.7 185.9Z" fill="#fff" stroke="#00ff00" stroke-width="1.3"/>
<path d="M167.5 440.9L175.5 446.8L183.5 442.6L191.5 443.9L199.5 444.6L207.5 442.5L215.5 445.0L223.5 445.9L231.5 449.9L239.5 445.4L247.5 446.2L255.5 444.5L263.5 447.0L271.5 447.5L279.5 450.3L287.5 449.4L295.5 455.0L303.5 453.9L311.5 452.2L319.5 455.9L327.5 450.8L335.5 460.2L343.5 457.1L351.5 457.3L359.5 460.9L367.5 458.0L375.5 461.1L383.5 454.3L391.5 461.7L399.5 461.0L407.5 461.9L415.5 463.7L423.5 461.8L431.5 465.3L439.5 460.7L447.5 459.4L455.5 457.5L463.5 461.7L471.5 463.4L479.5 467.7L487.5 469.8L495.5 461.4L503.5 459.3L511.5 455.2L519.5 456.6L527.5 455.0L531.5 444.5L535.5 438.2L539.5 435.9L543.5 420.9L547.5 403.9L551.5 389.9L555.5 378.0L559.5 355.9L563.5 337.3L567.5 320.4L571.5 306.6L575.5 290.4L579.5 275.3L583.5 260.0L587.5 242.4L591.5 230.4L595.5 219.9L599.5 210.1L603.5 199.9L607.5 194.1L611.5 193.1L615.5 188.3L623.5 180.0L631.5 178.7L639.5 174.6L647.5 175.7L655.5 172.4L663.5 175.4L671.5 177.5L679.5 168.8L687.5 170.6L695.5 172.3L703.5 172.2L711.5 171.5L719.5 175.4L727.5 178.4L735.5 176.3L743.5 179.8L751.5 176.8L759.5 183.4L767.5 180.5L775.5 183.1L783.5 179.8L791.5 177.1L799.5 181.6L807.5 170.6L815.5 181.0L823.5 185.2L831.5 184.5L839.5 180.7L847.5 184.4L855.5 192.1L863.5 187.8L871.5 186.7L879.5 190.2L887.5 190.3L895.5 189.2L903.5 193.9L911.5 194.7L919.5 186.4L927.5 196.2L935.5 194.5L943.5 198.4L951.5 198.0L959.5 199.8L967.5 204.1" fill="none" stroke="#808000" stroke-width="2.4" stroke-linejoin="round"/>
<circle cx="167.5" cy="440.9" r="6.9" fill="#808000"/>
<circle cx="175.5" cy="446.8" r="6.9" fill="#808000"/>
<circle cx="183.5" cy="442.6" r="6.9" fill="#808000"/>
<circle cx="191.5" cy="443.9" r="6.9" fill="#808000"/>
<circle cx="199.5" cy="444.6" r="6.9" fill="#808000"/>
<circle cx="207.5" cy="442.5" r="6.9" fill="#808000"/>
<circle cx="215.5" cy="445.0" r="6.9" fill="#808000"/>
<circle cx="223.5" cy="445.9" r="6.9" fill="#808000"/>
<circle cx="231.5" cy="449.9" r="6.9" fill="#808000"/>
<circle cx="239.5" cy="445.4" r="6.9" fill="#808000"/>
<circle cx="247.5" cy="446.2" r="6.9" fill="#808000"/>
<circle cx="255.5" cy="444.5" r="6.9" fill="#808000"/>
<circle cx="263.5" cy="447.0" r="6.9" fill="#808000"/>
<circle cx="271.5" cy="447.5" r="6.9" fill="#808000"/>
<circle cx="279.5" cy="450.3" r="6.9" fill="#808000"/>
<circle cx="287.5" cy="449.4" r="6.9" fill="#808000"/>
<circle cx="295.5" cy="455.0" r="6.9" fill="#808000"/>
<circle cx="303.5" cy="453.9" r="6.9" fill="#808000"/>
<circle cx="311.5" cy="452.2" r="6.9" fill="#808000"/>
<circle cx="319.5" cy="455.9" r="6.9" fill="#808000"/>
<circle cx="327.5" cy="450.8" r="6.9" fill="#808000"/>
<circle cx="335.5" cy="460.2" r="6.9" fill="#808000"/>
<circle cx="343.5" cy="457.1" r="6.9" fill="#808000"/>
<circle cx="351.5" cy="457.3" r="6.9" fill="#808000"/>
<circle cx="359.5" cy="460.9" r="6.9" fill="#808000"/>
<circle cx="367.5" cy="458.0" r="6.9" fill="#808000"/>
<circle cx="375.5" cy="461.1" r="6.9" fill="#808000"/>
<circle cx="383.5" cy="454.3" r="6.9" fill="#808000"/>
<circle cx="391.5" cy="461.7" r="6.9" fill="#808000"/>
<circle cx="399.5" cy="461.0" r="6.9" fill="#808000"/>
<circle cx="407.5" cy="461.9" r="6.9" fill="#808000"/>
<circle cx="415.5" cy="463.7" r="6.9" fill="#808000"/>
<circle cx="423.5" cy="461.8" r="6.9" fill="#808000"/>
<circle cx="431.5" cy="465.3" r="6.9" fill="#808000"/>
<circle cx="439.5" cy="460.7" r="6.9" fill="#808000"/>
<circle cx="447.5" cy="459.4" r="6.9" fill="#808000"/>
<circle cx="455.5" cy="457.5" r="6.9" fill="#808000"/>
<circle cx="463.5" cy="461.7" r="6.9" fill="#808000"/>
<circle cx="471.5" cy="463.4" r="6.9" fill="#808000"/>
<circle cx="479.5" cy="467.7" r="6.9" fill="#808000"/>
<circle cx="487.5" cy="469.8" r="6.9" fill="#808000"/>
<circle cx="495.5" cy="461.4" r="6.9" fill="#808000"/>
<circle cx="503.5" cy="459.3" r="6.9" fill="#808000"/>
<circle cx="511.5" cy="455.2" r="6.9" fill="#808000"/>
<circle cx="519.5" cy="456.6" r="6.9" fill="#808000"/>
<circle cx="527.5" cy="455.0" r="6.9" fill="#808000"/>
<circle cx="531.5" cy="444.5" r="6.9" fill="#808000"/>
<circle cx="535.5" cy="438.2" r="6.9" fill="#808000"/>
<circle cx="539.5" cy="435.9" r="6.9" fill="#808000"/>
<circle cx="543.5" cy="420.9" r="6.9" fill="#808000"/>
<circle cx="547.5" cy="403.9" r="6.9" fill="#808000"/>
<circle cx="551.5" cy="389.9" r="6.9" fill="#808000"/>
<circle cx="555.5" cy="378.0" r="6.9" fill="#808000"/>
<circle cx="559.5" cy="355.9" r="6.9" fill="#808000"/>
<circle cx="563.5" cy="337.3" r="6.9" fill="#808000"/>
<circle cx="567.5" cy="320.4" r="6.9" fill="#808000"/>
<circle cx="571.5" cy="306.6" r="6.9" fill="#808000"/>
<circle cx="575.5" cy="290.4" r="6.9" fill="#808000"/>
<circle cx="579.5" cy="275.3" r="6.9" fill="#808000"/>
<circle cx="583.5" cy="260.0" r="6.9" fill="#808000"/>
<circle cx="587.5" cy="242.4" r="6.9" fill="#808000"/>
<circle cx="591.5" cy="230.4" r="6.9" fill="#808000"/>
<circle cx="595.5" cy="219.9" r="6.9" fill="#808000"/>
<circle cx="599.5" cy="210.1" r="6.9" fill="#808000"/>
<circle cx="603.5" cy="199.9" r="6.9" fill="#808000"/>
<circle cx="607.5" cy="194.1" r="6.9" fill="#808000"/>
<circle cx="611.5" cy="193.1" r="6.9" fill="#808000"/>
<circle cx="615.5" cy="188.3" r="6.9" fill="#808000"/>
<circle cx="623.5" cy="180.0" r="6.9" fill="#808000"/>
<circle cx="631.5" cy="178.7" r="6.9" fill="#808000"/>
<circle cx="639.5" cy="174.6" r="6.9" fill="#808000"/>
<circle cx="647.5" cy="175.7" r="6.9" fill="#808000"/>
<circle cx="655.5" cy="172.4" r="6.9" fill="#808000"/>
<circle cx="663.5" cy="175.4" r="6.9" fill="#808000"/>
<circle cx="671.5" cy="177.5" r="6.9" fill="#808000"/>
<circle cx="679.5" cy="168.8" r="6.9" fill="#808000"/>
<circle cx="687.5" cy="170.6" r="6.9" fill="#808000"/>
<circle cx="695.5" cy="172.3" r="6.9" fill="#808000"/>
<circle cx="703.5" cy="172.2" r="6.9" fill="#808000"/>
<circle cx="711.5" cy="171.5" r="6.9" fill="#808000"/>
<circle cx="719.5" cy="175.4" r="6.9" fill="#808000"/>
<circle cx="727.5" cy="178.4" r="6.9" fill="#808000"/>
<circle cx="735.5" cy="176.3" r="6.9" fill="#808000"/>
<circle cx="743.5" cy="179.8" r="6.9" fill="#808000"/>
<circle cx="751.5" cy="176.8" r="6.9" fill="#808000"/>
<circle cx="759.5" cy="183.4" r="6.9" fill="#808000"/>
<circle cx="767.5" cy="180.5" r="6.9" fill="#808000"/>
<circle cx="775.5" cy="183.1" r="6.9" fill="#808000"/>
<circle cx="783.5" cy="179.8" r="6.9" fill="#808000"/>
<circle cx="791.5" cy="177.1" r="6.9" fill="#808000"/>
<circle cx="799.5" cy="181.6" r="6.9" fill="#808000"/>
<circle cx="807.5" cy="170.6" r="6.9" fill="#808000"/>
<circle cx="815.5" cy="181.0" r="6.9" fill="#808000"/>
<circle cx="823.5" cy="185.2" r="6.9" fill="#808000"/>
<circle cx="831.5" cy="184.5" r="6.9" fill="#808000"/>
<circle cx="839.5" cy="180.7" r="6.9" fill="#808000"/>
<circle cx="847.5" cy="184.4" r="6.9" fill="#808000"/>
<circle cx="855.5" cy="192.1" r="6.9" fill="#808000"/>
<circle cx="863.5" cy="187.8" r="6.9" fill="#808000"/>
<circle cx="871.5" cy="186.7" r="6.9" fill="#808000"/>
<circle cx="879.5" cy="190.2" r="6.9" fill="#808000"/>
<circle cx="887.5" cy="190.3" r="6.9" fill="#808000"/>
<circle cx="895.5" cy="189.2" r="6.9" fill="#808000"/>
<circle cx="903.5" cy="193.9" r="6.9" fill="#808000"/>
<circle cx="911.5" cy="194.7" r="6.9" fill="#808000"/>
<circle cx="919.5" cy="186.4" r="6.9" fill="#808000"/>
<circle cx="927.5" cy="196.2" r="6.9" fill="#808000"/>
<circle cx="935.5" cy="194.5" r="6.9" fill="#808000"/>
<circle cx="943.5" cy="198.4" r="6.9" fill="#808000"/>
<circle cx="951.5" cy="198.0" r="6.9" fill="#808000"/>
<circle cx="959.5" cy="199.8" r="6.9" fill="#808000"/>
<circle cx="967.5" cy="204.1" r="6.9" fill="#808000"/>
<path d="M167.5 449.6L175.5 449.0L183.5 452.7L191.5 450.5L199.5 452.0L207.5 447.3L215.5 447.8L223.5 451.0L231.5 460.8L239.5 449.5L247.5 451.8L255.5 451.0L263.5 452.4L271.5 448.9L279.5 453.0L287.5 456.2L295.5 457.2L303.5 455.4L311.5 457.5L319.5 456.9L327.5 455.7L335.5 455.9L343.5 453.1L351.5 460.9L359.5 468.5L367.5 459.2L375.5 460.0L383.5 464.4L391.5 467.1L399.5 465.6L407.5 466.1L415.5 468.7L423.5 468.9L431.5 467.8L439.5 472.3L447.5 467.3L455.5 469.5L463.5 471.0L471.5 476.5L479.5 472.3L487.5 471.0L495.5 468.0L503.5 474.3L511.5 470.0L519.5 466.5L527.5 463.3L531.5 454.7L535.5 447.2L539.5 443.2L543.5 432.9L547.5 418.6L551.5 400.0L555.5 377.1L559.5 362.0L563.5 341.1L567.5 331.1L571.5 299.9L575.5 283.6L579.5 263.6L583.5 248.0L587.5 231.8L591.5 221.9L595.5 206.4L599.5 203.2L603.5 191.6L607.5 185.1L611.5 187.1L615.5 179.1L623.5 171.9L631.5 171.8L639.5 168.8L647.5 170.2L655.5 171.9L663.5 167.2L671.5 169.6L679.5 171.3L687.5 166.1L695.5 170.1L703.5 170.7L711.5 172.8L719.5 169.9L727.5 170.8L735.5 171.9L743.5 172.3L751.5 175.0L759.5 172.1L767.5 178.5L775.5 172.9L783.5 173.8L791.5 174.3L799.5 175.2L807.5 173.6L815.5 180.5L823.5 182.1L831.5 180.3L839.5 179.6L847.5 183.4L855.5 181.9L863.5 181.0L871.5 181.6L879.5 180.8L887.5 184.0L895.5 179.3L903.5 187.7L911.5 186.9L919.5 185.9L927.5 189.9L935.5 194.7L943.5 194.5L951.5 194.6L959.5 191.5L967.5 198.6" fill="none" stroke="#000080" stroke-width="2.4" stroke-linejoin="round"/>
<path d="M167.5 442.4L169.1 447.3L174.3 447.4L170.2 450.5L171.7 455.4L167.5 452.4L163.3 455.4L164.8 450.5L160.7 447.4L165.9 447.3Z" fill="#000080"/>
<path d="M175.5 441.8L177.1 446.7L182.3 446.8L178.2 449.9L179.7 454.8L175.5 451.8L171.3 454.8L172.8 449.9L168.7 446.8L173.9 446.7Z" fill="#000080"/>
<path d="M183.5 445.5L185.1 450.4L190.3 450.4L186.2 453.5L187.7 458.5L183.5 455.5L179.3 458.5L180.8 453.5L176.7 450.4L181.9 450.4Z" fill="#000080"/>
<path d="M191.5 443.3L193.1 448.3L198.3 448.3L194.2 451.4L195.7 456.3L191.5 453.3L187.3 456.3L188.8 451.4L184.7 448.3L189.9 448.3Z" fill="#000080"/>
<path d="M199.5 444.8L201.1 449.7L206.3 449.8L202.2 452.9L203.7 457.8L199.5 454.8L195.3 457.8L196.8 452.9L192.7 449.8L197.9 449.7Z" fill="#000080"/>
<path d="M207.5 440.1L209.1 445.0L214.3 445.1L210.2 448.2L211.7 453.1L207.5 450.1L203.3 453.1L204.8 448.2L200.7 445.1L205.9 445.0Z" fill="#000080"/>
<path d="M215.5 440.6L217.1 445.5L222.3 445.5L218.2 448.6L219.7 453.6L215.5 450.6L211.3 453.6L212.8 448.6L208.7 445.5L213.9 445.5Z" fill="#000080"/>
<path d="M223.5 443.8L225.1 448.7L230.3 448.7L226.2 451.8L227.7 456.8L223.5 453.8L219.3 456.8L220.8 451.8L216.7 448.7L221.9 448.7Z" fill="#000080"/>
<path d="M231.5 453.6L233.1 458.5L238.3 458.6L234.2 461.6L235.7 466.6L231.5 463.6L227.3 466.6L228.8 461.6L224.7 458.6L229.9 458.5Z" fill="#000080"/>
<path d="M239.5 442.3L241.1 447.2L246.3 447.3L242.2 450.4L243.7 455.3L239.5 452.3L235.3 455.3L236.8 450.4L232.7 447.3L237.9 447.2Z" fill="#000080"/>
<path d="M247.5 444.6L249.1 449.5L254.3 449.6L250.2 452.7L251.7 457.6L247.5 454.6L243.3 457.6L244.8 452.7L240.7 449.6L245.9 449.5Z" fill="#000080"/>
<path d="M255.5 443.8L257.1 448.8L262.3 448.8L258.2 451.9L259.7 456.9L255.5 453.8L251.3 456.9L252.8 451.9L248.7 448.8L253.9 448.8Z" fill="#000080"/>
<path d="M263.5 445.2L265.1 450.1L270.3 450.2L266.2 453.3L267.7 458.2L263.5 455.2L259.3 458.2L260.8 453.3L256.7 450.2L261.9 450.1Z" fill="#000080"/>
<path d="M271.5 441.7L273.1 446.7L278.3 446.7L274.2 449.8L275.7 454.8L271.5 451.7L267.3 454.8L268.8 449.8L264.7 446.7L269.9 446.7Z" fill="#000080"/>
<path d="M279.5 445.8L281.1 450.7L286.3 450.8L282.2 453.9L283.7 458.8L279.5 455.8L275.3 458.8L276.8 453.9L272.7 450.8L277.9 450.7Z" fill="#000080"/>
<path d="M287.5 449.0L289.1 453.9L294.3 453.9L290.2 457.0L291.7 462.0L287.5 459.0L283.3 462.0L284.8 457.0L280.7 453.9L285.9 453.9Z" fill="#000080"/>
<path d="M295.5 450.0L297.1 455.0L302.3 455.0L298.2 458.1L299.7 463.1L295.5 460.0L291.3 463.1L292.8 458.1L288.7 455.0L293.9 455.0Z" fill="#000080"/>
<path d="M303.5 448.2L305.1 453.1L310.3 453.2L306.2 456.2L307.7 461.2L303.5 458.2L299.3 461.2L300.8 456.2L296.7 453.2L301.9 453.1Z" fill="#000080"/>
<path d="M311.5 450.3L313.1 455.2L318.3 455.3L314.2 458.4L315.7 463.3L311.5 460.3L307.3 463.3L308.8 458.4L304.7 455.3L309.9 455.2Z" fill="#000080"/>
<path d="M319.5 449.7L321.1 454.7L326.3 454.7L322.2 457.8L323.7 462.8L319.5 459.7L315.3 462.8L316.8 457.8L312.7 454.7L317.9 454.7Z" fill="#000080"/>
<path d="M327.5 448.5L329.1 453.4L334.3 453.5L330.2 456.5L331.7 461.5L327.5 458.5L323.3 461.5L324.8 456.5L320.7 453.5L325.9 453.4Z" fill="#000080"/>
<path d="M335.5 448.7L337.1 453.6L342.3 453.6L338.2 456.7L339.7 461.7L335.5 458.7L331.3 461.7L332.8 456.7L328.7 453.6L333.9 453.6Z" fill="#000080"/>
<path d="M343.5 445.9L345.1 450.8L350.3 450.9L346.2 454.0L347.7 458.9L343.5 455.9L339.3 458.9L340.8 454.0L336.7 450.9L341.9 450.8Z" fill="#000080"/>
<path d="M351.5 453.7L353.1 458.7L358.3 458.7L354.2 461.8L355.7 466.8L351.5 463.7L347.3 466.8L348.8 461.8L344.7 458.7L349.9 458.7Z" fill="#000080"/>
<path d="M359.5 461.3L361.1 466.2L366.3 466.3L362.2 469.4L363.7 474.3L359.5 471.3L355.3 474.3L356.8 469.4L352.7 466.3L357.9 466.2Z" fill="#000080"/>
<path d="M367.5 452.0L369.1 456.9L374.3 457.0L370.2 460.0L371.7 465.0L367.5 462.0L363.3 465.0L364.8 460.0L360.7 457.0L365.9 456.9Z" fill="#000080"/>
<path d="M375.5 452.8L377.1 457.7L382.3 457.8L378.2 460.9L379.7 465.8L375.5 462.8L371.3 465.8L372.8 460.9L368.7 457.8L373.9 457.7Z" fill="#000080"/>
<path d="M383.5 457.2L385.1 462.1L390.3 462.2L386.2 465.2L387.7 470.2L383.5 467.2L379.3 470.2L380.8 465.2L376.7 462.2L381.9 462.1Z" fill="#000080"/>
<path d="M391.5 459.9L393.1 464.9L398.3 464.9L394.2 468.0L395.7 473.0L391.5 469.9L387.3 473.0L388.8 468.0L384.7 464.9L389.9 464.9Z" fill="#000080"/>
<path d="M399.5 458.4L401.1 463.3L406.3 463.4L402.2 466.5L403.7 471.4L399.5 468.4L395.3 471.4L396.8 466.5L392.7 463.4L397.9 463.3Z" fill="#000080"/>
<path d="M407.5 458.9L409.1 463.8L414.3 463.9L410.2 467.0L411.7 471.9L407.5 468.9L403.3 471.9L404.8 467.0L400.7 463.9L405.9 463.8Z" fill="#000080"/>
<path d="M415.5 461.5L417.1 466.4L422.3 466.5L418.2 469.6L419.7 474.5L415.5 471.5L411.3 474.5L412.8 469.6L408.7 466.5L413.9 466.4Z" fill="#000080"/>
<path d="M423.5 461.7L425.1 466.6L430.3 466.7L426.2 469.8L427.7 474.7L423.5 471.7L419.3 474.7L420.8 469.8L416.7 466.7L421.9 466.6Z" fill="#000080"/>
<path d="M431.5 460.6L433.1 465.5L438.3 465.5L434.2 468.6L435.7 473.6L431.5 470.6L427.3 473.6L428.8 468.6L424.7 465.5L429.9 465.5Z" fill="#000080"/>
<path d="M439.5 465.1L441.1 470.1L446.3 470.1L442.2 473.2L443.7 478.1L439.5 475.1L435.3 478.1L436.8 473.2L432.7 470.1L437.9 470.1Z" fill="#000080"/>
<path d="M447.5 460.1L449.1 465.1L454.3 465.1L450.2 468.2L451.7 473.2L447.5 470.1L443.3 473.2L444.8 468.2L440.7 465.1L445.9 465.1Z" fill="#000080"/>
<path d="M455.5 462.3L457.1 467.2L462.3 467.3L458.2 470.4L459.7 475.3L455.5 472.3L451.3 475.3L452.8 470.4L448.7 467.3L453.9 467.2Z" fill="#000080"/>
<path d="M463.5 463.8L465.1 468.8L470.3 468.8L466.2 471.9L467.7 476.9L463.5 473.8L459.3 476.9L460.8 471.9L456.7 468.8L461.9 468.8Z" fill="#000080"/>
<path d="M471.5 469.3L473.1 474.2L478.3 474.3L474.2 477.3L475.7 482.3L471.5 479.3L467.3 482.3L468.8 477.3L464.7 474.3L469.9 474.2Z" fill="#000080"/>
<path d="M479.5 465.1L481.1 470.0L486.3 470.0L482.2 473.1L483.7 478.1L479.5 475.1L475.3 478.1L476.8 473.1L472.7 470.0L477.9 470.0Z" fill="#000080"/>
<path d="M487.5 463.8L489.1 468.7L494.3 468.8L490.2 471.8L491.7 476.8L487.5 473.8L483.3 476.8L484.8 471.8L480.7 468.8L485.9 468.7Z" fill="#000080"/>
<path d="M495.5 460.8L497.1 465.7L502.3 465.8L498.2 468.9L499.7 473.8L495.5 470.8L491.3 473.8L492.8 468.9L488.7 465.8L493.9 465.7Z" fill="#000080"/>
<path d="M503.5 467.1L505.1 472.0L510.3 472.0L506.2 475.1L507.7 480.1L503.5 477.1L499.3 480.1L500.8 475.1L496.7 472.0L501.9 472.0Z" fill="#000080"/>
<path d="M511.5 462.8L513.1 467.7L518.3 467.7L514.2 470.8L515.7 475.8L511.5 472.8L507.3 475.8L508.8 470.8L504.7 467.7L509.9 467.7Z" fill="#000080"/>
<path d="M519.5 459.3L521.1 464.3L526.3 464.3L522.2 467.4L523.7 472.4L519.5 469.3L515.3 472.4L516.8 467.4L512.7 464.3L517.9 464.3Z" fill="#000080"/>
<path d="M527.5 456.1L529.1 461.0L534.3 461.0L530.2 464.1L531.7 469.1L527.5 466.1L523.3 469.1L524.8 464.1L520.7 461.0L525.9 461.0Z" fill="#000080"/>
<path d="M531.5 447.5L533.1 452.5L538.3 452.5L534.2 455.6L535.7 460.5L531.5 457.5L527.3 460.5L528.8 455.6L524.7 452.5L529.9 452.5Z" fill="#000080"/>
<path d="M535.5 440.0L537.1 444.9L542.3 445.0L538.2 448.0L539.7 453.0L535.5 450.0L531.3 453.0L532.8 448.0L528.7 445.0L533.9 444.9Z" fill="#000080"/>
<path d="M539.5 436.0L541.1 441.0L546.3 441.0L542.2 444.1L543.7 449.0L539.5 446.0L535.3 449.0L536.8 444.1L532.7 441.0L537.9 441.0Z" fill="#000080"/>
<path d="M543.5 425.7L545.1 430.6L550.3 430.7L546.2 433.8L547.7 438.7L543.5 435.7L539.3 438.7L540.8 433.8L536.7 430.7L541.9 430.6Z" fill="#000080"/>
<path d="M547.5 411.4L549.1 416.3L554.3 416.4L550.2 419.4L551.7 424.4L547.5 421.4L543.3 424.4L544.8 419.4L540.7 416.4L545.9 416.3Z" fill="#000080"/>
<path d="M551.5 392.8L553.1 397.7L558.3 397.8L554.2 400.9L555.7 405.8L551.5 402.8L547.3 405.8L548.8 400.9L544.7 397.8L549.9 397.7Z" fill="#000080"/>
<path d="M555.5 369.9L557.1 374.9L562.3 374.9L558.2 378.0L559.7 383.0L555.5 379.9L551.3 383.0L552.8 378.0L548.7 374.9L553.9 374.9Z" fill="#000080"/>
<path d="M559.5 354.8L561.1 359.7L566.3 359.8L562.2 362.9L563.7 367.8L559.5 364.8L555.3 367.8L556.8 362.9L552.7 359.8L557.9 359.7Z" fill="#000080"/>
<path d="M563.5 333.9L565.1 338.9L570.3 338.9L566.2 342.0L567.7 346.9L563.5 343.9L559.3 346.9L560.8 342.0L556.7 338.9L561.9 338.9Z" fill="#000080"/>
<path d="M567.5 323.9L569.1 328.8L574.3 328.8L570.2 331.9L571.7 336.9L567.5 333.9L563.3 336.9L564.8 331.9L560.7 328.8L565.9 328.8Z" fill="#000080"/>
<path d="M571.5 292.7L573.1 297.7L578.3 297.7L574.2 300.8L575.7 305.8L571.5 302.7L567.3 305.8L568.8 300.8L564.7 297.7L569.9 297.7Z" fill="#000080"/>
<path d="M575.5 276.4L577.1 281.4L582.3 281.4L578.2 284.5L579.7 289.5L575.5 286.4L571.3 289.5L572.8 284.5L568.7 281.4L573.9 281.4Z" fill="#000080"/>
<path d="M579.5 256.4L581.1 261.3L586.3 261.3L582.2 264.4L583.7 269.4L579.5 266.4L575.3 269.4L576.8 264.4L572.7 261.3L577.9 261.3Z" fill="#000080"/>
<path d="M583.5 240.8L585.1 245.8L590.3 245.8L586.2 248.9L587.7 253.9L583.5 250.8L579.3 253.9L580.8 248.9L576.7 245.8L581.9 245.8Z" fill="#000080"/>
<path d="M587.5 224.6L589.1 229.5L594.3 229.6L590.2 232.7L591.7 237.6L587.5 234.6L583.3 237.6L584.8 232.7L580.7 229.6L585.9 229.5Z" fill="#000080"/>
<path d="M591.5 214.7L593.1 219.7L598.3 219.7L594.2 222.8L595.7 227.8L591.5 224.7L587.3 227.8L588.8 222.8L584.7 219.7L589.9 219.7Z" fill="#000080"/>
<path d="M595.5 199.2L597.1 204.1L602.3 204.1L598.2 207.2L599.7 212.2L595.5 209.2L591.3 212.2L592.8 207.2L588.7 204.1L593.9 204.1Z" fill="#000080"/>
<path d="M599.5 196.0L601.1 200.9L606.3 200.9L602.2 204.0L603.7 209.0L599.5 206.0L595.3 209.0L596.8 204.0L592.7 200.9L597.9 200.9Z" fill="#000080"/>
<path d="M603.5 184.4L605.1 189.3L610.3 189.4L606.2 192.5L607.7 197.4L603.5 194.4L599.3 197.4L600.8 192.5L596.7 189.4L601.9 189.3Z" fill="#000080"/>
<path d="M607.5 177.9L609.1 182.8L614.3 182.9L610.2 185.9L611.7 190.9L607.5 187.9L603.3 190.9L604.8 185.9L600.7 182.9L605.9 182.8Z" fill="#000080"/>
<path d="M611.5 179.9L613.1 184.9L618.3 184.9L614.2 188.0L615.7 192.9L611.5 189.9L607.3 192.9L608.8 188.0L604.7 184.9L609.9 184.9Z" fill="#000080"/>
<path d="M615.5 171.9L617.1 176.9L622.3 176.9L618.2 180.0L619.7 184.9L615.5 181.9L611.3 184.9L612.8 180.0L608.7 176.9L613.9 176.9Z" fill="#000080"/>
<path d="M623.5 164.7L625.1 169.6L630.3 169.7L626.2 172.8L627.7 177.7L623.5 174.7L619.3 177.7L620.8 172.8L616.7 169.7L621.9 169.6Z" fill="#000080"/>
<path d="M631.5 164.6L633.1 169.5L638.3 169.6L634.2 172.7L635.7 177.6L631.5 174.6L627.3 177.6L628.8 172.7L624.7 169.6L629.9 169.5Z" fill="#000080"/>
<path d="M639.5 161.6L641.1 166.5L646.3 166.5L642.2 169.6L643.7 174.6L639.5 171.6L635.3 174.6L636.8 169.6L632.7 166.5L637.9 166.5Z" fill="#000080"/>
<path d="M647.5 163.0L649.1 167.9L654.3 168.0L650.2 171.1L651.7 176.0L647.5 173.0L643.3 176.0L644.8 171.1L640.7 168.0L645.9 167.9Z" fill="#000080"/>
<path d="M655.5 164.7L657.1 169.6L662.3 169.6L658.2 172.7L659.7 177.7L655.5 174.7L651.3 177.7L652.8 172.7L648.7 169.6L653.9 169.6Z" fill="#000080"/>
<path d="M663.5 160.0L665.1 164.9L670.3 164.9L666.2 168.0L667.7 173.0L663.5 170.0L659.3 173.0L660.8 168.0L656.7 164.9L661.9 164.9Z" fill="#000080"/>
<path d="M671.5 162.4L673.1 167.3L678.3 167.3L674.2 170.4L675.7 175.4L671.5 172.4L667.3 175.4L668.8 170.4L664.7 167.3L669.9 167.3Z" fill="#000080"/>
<path d="M679.5 164.1L681.1 169.0L686.3 169.0L682.2 172.1L683.7 177.1L679.5 174.1L675.3 177.1L676.8 172.1L672.7 169.0L677.9 169.0Z" fill="#000080"/>
<path d="M687.5 158.9L689.1 163.8L694.3 163.9L690.2 167.0L691.7 171.9L687.5 168.9L683.3 171.9L684.8 167.0L680.7 163.9L685.9 163.8Z" fill="#000080"/>
<path d="M695.5 162.9L697.1 167.9L702.3 167.9L698.2 171.0L699.7 176.0L695.5 172.9L691.3 176.0L692.8 171.0L688.7 167.9L693.9 167.9Z" fill="#000080"/>
<path d="M703.5 163.5L705.1 168.5L710.3 168.5L706.2 171.6L707.7 176.6L703.5 173.5L699.3 176.6L700.8 171.6L696.7 168.5L701.9 168.5Z" fill="#000080"/>
<path d="M711.5 165.6L713.1 170.5L718.3 170.6L714.2 173.6L715.7 178.6L711.5 175.6L707.3 178.6L708.8 173.6L704.7 170.6L709.9 170.5Z" fill="#000080"/>
<path d="M719.5 162.7L721.1 167.6L726.3 167.6L722.2 170.7L723.7 175.7L719.5 172.7L715.3 175.7L716.8 170.7L712.7 167.6L717.9 167.6Z" fill="#000080"/>
<path d="M727.5 163.6L729.1 168.6L734.3 168.6L730.2 171.7L731.7 176.7L727.5 173.6L723.3 176.7L724.8 171.7L720.7 168.6L725.9 168.6Z" fill="#000080"/>
<path d="M735.5 164.7L737.1 169.6L742.3 169.7L738.2 172.8L739.7 177.7L735.5 174.7L731.3 177.7L732.8 172.8L728.7 169.7L733.9 169.6Z" fill="#000080"/>
<path d="M743.5 165.1L745.1 170.0L750.3 170.1L746.2 173.2L747.7 178.1L743.5 175.1L739.3 178.1L740.8 173.2L736.7 170.1L741.9 170.0Z" fill="#000080"/>
<path d="M751.5 167.8L753.1 172.8L758.3 172.8L754.2 175.9L755.7 180.8L751.5 177.8L747.3 180.8L748.8 175.9L744.7 172.8L749.9 172.8Z" fill="#000080"/>
<path d="M759.5 164.9L761.1 169.9L766.3 169.9L762.2 173.0L763.7 177.9L759.5 174.9L755.3 177.9L756.8 173.0L752.7 169.9L757.9 169.9Z" fill="#000080"/>
<path d="M767.5 171.3L769.1 176.3L774.3 176.3L770.2 179.4L771.7 184.4L767.5 181.3L763.3 184.4L764.8 179.4L760.7 176.3L765.9 176.3Z" fill="#000080"/>
<path d="M775.5 165.7L777.1 170.7L782.3 170.7L778.2 173.8L779.7 178.8L775.5 175.7L771.3 178.8L772.8 173.8L768.7 170.7L773.9 170.7Z" fill="#000080"/>
<path d="M783.5 166.6L785.1 171.6L790.3 171.6L786.2 174.7L787.7 179.7L783.5 176.6L779.3 179.7L780.8 174.7L776.7 171.6L781.9 171.6Z" fill="#000080"/>
<path d="M791.5 167.1L793.1 172.0L798.3 172.1L794.2 175.2L795.7 180.1L791.5 177.1L787.3 180.1L788.8 175.2L784.7 172.1L789.9 172.0Z" fill="#000080"/>
<path d="M799.5 168.0L801.1 172.9L806.3 173.0L802.2 176.0L803.7 181.0L799.5 178.0L795.3 181.0L796.8 176.0L792.7 173.0L797.9 172.9Z" fill="#000080"/>
<path d="M807.5 166.4L809.1 171.3L814.3 171.4L810.2 174.5L811.7 179.4L807.5 176.4L803.3 179.4L804.8 174.5L800.7 171.4L805.9 171.3Z" fill="#000080"/>
<path d="M815.5 173.3L817.1 178.3L822.3 178.3L818.2 181.4L819.7 186.4L815.5 183.3L811.3 186.4L812.8 181.4L808.7 178.3L813.9 178.3Z" fill="#000080"/>
<path d="M823.5 174.9L825.1 179.9L830.3 179.9L826.2 183.0L827.7 188.0L823.5 184.9L819.3 188.0L820.8 183.0L816.7 179.9L821.9 179.9Z" fill="#000080"/>
<path d="M831.5 173.1L833.1 178.1L838.3 178.1L834.2 181.2L835.7 186.2L831.5 183.1L827.3 186.2L828.8 181.2L824.7 178.1L829.9 178.1Z" fill="#000080"/>
<path d="M839.5 172.4L841.1 177.4L846.3 177.4L842.2 180.5L843.7 185.5L839.5 182.4L835.3 185.5L836.8 180.5L832.7 177.4L837.9 177.4Z" fill="#000080"/>
<path d="M847.5 176.2L849.1 181.1L854.3 181.2L850.2 184.3L851.7 189.2L847.5 186.2L843.3 189.2L844.8 184.3L840.7 181.2L845.9 181.1Z" fill="#000080"/>
<path d="M855.5 174.7L857.1 179.6L862.3 179.6L858.2 182.7L859.7 187.7L855.5 184.7L851.3 187.7L852.8 182.7L848.7 179.6L853.9 179.6Z" fill="#000080"/>
<path d="M863.5 173.8L865.1 178.8L870.3 178.8L866.2 181.9L867.7 186.9L863.5 183.8L859.3 186.9L860.8 181.9L856.7 178.8L861.9 178.8Z" fill="#000080"/>
<path d="M871.5 174.4L873.1 179.4L878.3 179.4L874.2 182.5L875.7 187.5L871.5 184.4L867.3 187.5L868.8 182.5L864.7 179.4L869.9 179.4Z" fill="#000080"/>
<path d="M879.5 173.6L881.1 178.6L886.3 178.6L882.2 181.7L883.7 186.6L879.5 183.6L875.3 186.6L876.8 181.7L872.7 178.6L877.9 178.6Z" fill="#000080"/>
<path d="M887.5 176.8L889.1 181.8L894.3 181.8L890.2 184.9L891.7 189.9L887.5 186.8L883.3 189.9L884.8 184.9L880.7 181.8L885.9 181.8Z" fill="#000080"/>
<path d="M895.5 172.1L897.1 177.0L902.3 177.0L898.2 180.1L899.7 185.1L895.5 182.1L891.3 185.1L892.8 180.1L888.7 177.0L893.9 177.0Z" fill="#000080"/>
<path d="M903.5 180.5L905.1 185.4L910.3 185.5L906.2 188.6L907.7 193.5L903.5 190.5L899.3 193.5L900.8 188.6L896.7 185.5L901.9 185.4Z" fill="#000080"/>
<path d="M911.5 179.7L913.1 184.6L918.3 184.6L914.2 187.7L915.7 192.7L911.5 189.7L907.3 192.7L908.8 187.7L904.7 184.6L909.9 184.6Z" fill="#000080"/>
<path d="M919.5 178.7L921.1 183.7L926.3 183.7L922.2 186.8L923.7 191.8L919.5 188.7L915.3 191.8L916.8 186.8L912.7 183.7L917.9 183.7Z" fill="#000080"/>
<path d="M927.5 182.7L929.1 187.6L934.3 187.6L930.2 190.7L931.7 195.7L927.5 192.7L923.3 195.7L924.8 190.7L920.7 187.6L925.9 187.6Z" fill="#000080"/>
<path d="M935.5 187.5L937.1 192.5L942.3 192.5L938.2 195.6L939.7 200.6L935.5 197.5L931.3 200.6L932.8 195.6L928.7 192.5L933.9 192.5Z" fill="#000080"/>
<path d="M943.5 187.3L945.1 192.2L950.3 192.3L946.2 195.3L947.7 200.3L943.5 197.3L939.3 200.3L940.8 195.3L936.7 192.3L941.9 192.2Z" fill="#000080"/>
<path d="M951.5 187.4L953.1 192.3L958.3 192.4L954.2 195.5L955.7 200.4L951.5 197.4L947.3 200.4L948.8 195.5L944.7 192.4L949.9 192.3Z" fill="#000080"/>
<path d="M959.5 184.3L961.1 189.2L966.3 189.3L962.2 192.4L963.7 197.3L959.5 194.3L955.3 197.3L956.8 192.4L952.7 189.3L957.9 189.2Z" fill="#000080"/>
<path d="M967.5 191.4L969.1 196.4L974.3 196.4L970.2 199.5L971.7 204.4L967.5 201.4L963.3 204.4L964.8 199.5L960.7 196.4L965.9 196.4Z" fill="#000080"/>
<path d="M167.5 425.3L175.5 426.0L183.5 429.1L191.5 424.4L199.5 429.3L207.5 430.1L215.5 430.3L223.5 434.9L231.5 436.0L239.5 431.6L247.5 435.0L255.5 433.1L263.5 437.1L271.5 436.3L279.5 436.8L287.5 436.6L295.5 445.2L303.5 439.0L311.5 442.6L319.5 443.2L327.5 442.7L335.5 445.5L343.5 443.6L351.5 444.5L359.5 446.5L367.5 449.0L375.5 442.5L383.5 446.8L391.5 448.1L399.5 446.6L407.5 448.2L415.5 444.8L423.5 445.9L431.5 448.0L439.5 449.2L447.5 445.7L455.5 447.8L463.5 440.8L471.5 439.3L479.5 444.3L487.5 437.5L495.5 443.1L503.5 440.5L511.5 438.5L519.5 435.7L527.5 437.7L531.5 429.0L535.5 423.3L539.5 422.3L543.5 411.3L547.5 396.3L551.5 383.1L555.5 368.2L559.5 353.5L563.5 339.2L567.5 316.9L571.5 298.8L575.5 290.4L579.5 274.0L583.5 259.9L587.5 247.3L591.5 238.9L595.5 231.2L599.5 221.7L603.5 220.8L607.5 213.9L611.5 209.6L615.5 211.1L623.5 208.4L631.5 202.1L639.5 199.9L647.5 198.1L655.5 200.4L663.5 192.4L671.5 198.3L679.5 196.3L687.5 194.5L695.5 197.6L703.5 192.8L711.5 192.4L719.5 191.5L727.5 193.6L735.5 190.4L743.5 190.1L751.5 194.5L759.5 190.9L767.5 190.4L775.5 195.6L783.5 188.8L791.5 191.2L799.5 193.3L807.5 190.4L815.5 192.1L823.5 192.6L831.5 192.3L839.5 197.2L847.5 198.1L855.5 197.5L863.5 198.8L871.5 198.1L879.5 202.4L887.5 206.6L895.5 204.5L903.5 208.8L911.5 211.6L919.5 215.4L927.5 212.7L935.5 211.4L943.5 212.7L951.5 212.1L959.5 217.0L967.5 212.0" fill="none" stroke="#800080" stroke-width="2.4" stroke-linejoin="round"/>
<circle cx="167.5" cy="425.3" r="5.3" fill="#fff" stroke="#800080" stroke-width="1.4"/><path d="M162.2 425.3H172.8M167.5 420.0V430.6" stroke="#800080" stroke-width="1.2"/>
<circle cx="175.5" cy="426.0" r="5.3" fill="#fff" stroke="#800080" stroke-width="1.4"/><path d="M170.2 426.0H180.8M175.5 420.7V431.3" stroke="#800080" stroke-width="1.2"/>
<circle cx="183.5" cy="429.1" r="5.3" fill="#fff" stroke="#800080" stroke-width="1.4"/><path d="M178.2 429.1H188.8M183.5 423.8V434.4" stroke="#800080" stroke-width="1.2"/>
<circle cx="191.5" cy="424.4" r="5.3" fill="#fff" stroke="#800080" stroke-width="1.4"/><path d="M186.2 424.4H196.8M191.5 419.1V429.7" stroke="#800080" stroke-width="1.2"/>
<circle cx="199.5" cy="429.3" r="5.3" fill="#fff" stroke="#800080" stroke-width="1.4"/><path d="M194.2 429.3H204.8M199.5 424.0V434.6" stroke="#800080" stroke-width="1.2"/>
<circle cx="207.5" cy="430.1" r="5.3" fill="#fff" stroke="#800080" stroke-width="1.4"/><path d="M202.2 430.1H212.8M207.5 424.8V435.4" stroke="#800080" stroke-width="1.2"/>
<circle cx="215.5" cy="430.3" r="5.3" fill="#fff" stroke="#800080" stroke-width="1.4"/><path d="M210.2 430.3H220.8M215.5 425.0V435.6" stroke="#800080" stroke-width="1.2"/>
<circle cx="223.5" cy="434.9" r="5.3" fill="#fff" stroke="#800080" stroke-width="1.4"/><path d="M218.2 434.9H228.8M223.5 429.6V440.2" stroke="#800080" stroke-width="1.2"/>
<circle cx="231.5" cy="436.0" r="5.3" fill="#fff" stroke="#800080" stroke-width="1.4"/><path d="M226.2 436.0H236.8M231.5 430.7V441.3" stroke="#800080" stroke-width="1.2"/>
<circle cx="239.5" cy="431.6" r="5.3" fill="#fff" stroke="#800080" stroke-width="1.4"/><path d="M234.2 431.6H244.8M239.5 426.3V436.9" stroke="#800080" stroke-width="1.2"/>
<circle cx="247.5" cy="435.0" r="5.3" fill="#fff" stroke="#800080" stroke-width="1.4"/><path d="M242.2 435.0H252.8M247.5 429.7V440.3" stroke="#800080" stroke-width="1.2"/>
<circle cx="255.5" cy="433.1" r="5.3" fill="#fff" stroke="#800080" stroke-width="1.4"/><path d="M250.2 433.1H260.8M255.5 427.8V438.4" stroke="#800080" stroke-width="1.2"/>
<circle cx="263.5" cy="437.1" r="5.3" fill="#fff" stroke="#800080" stroke-width="1.4"/><path d="M258.2 437.1H268.8M263.5 431.8V442.4" stroke="#800080" stroke-width="1.2"/>
<circle cx="271.5" cy="436.3" r="5.3" fill="#fff" stroke="#800080" stroke-width="1.4"/><path d="M266.2 436.3H276.8M271.5 431.0V441.6" stroke="#800080" stroke-width="1.2"/>
<circle cx="279.5" cy="436.8" r="5.3" fill="#fff" stroke="#800080" stroke-width="1.4"/><path d="M274.2 436.8H284.8M279.5 431.5V442.1" stroke="#800080" stroke-width="1.2"/>
<circle cx="287.5" cy="436.6" r="5.3" fill="#fff" stroke="#800080" stroke-width="1.4"/><path d="M282.2 436.6H292.8M287.5 431.3V441.9" stroke="#800080" stroke-width="1.2"/>
<circle cx="295.5" cy="445.2" r="5.3" fill="#fff" stroke="#800080" stroke-width="1.4"/><path d="M290.2 445.2H300.8M295.5 439.9V450.5" stroke="#800080" stroke-width="1.2"/>
<circle cx="303.5" cy="439.0" r="5.3" fill="#fff" stroke="#800080" stroke-width="1.4"/><path d="M298.2 439.0H308.8M303.5 433.7V444.3" stroke="#800080" stroke-width="1.2"/>
<circle cx="311.5" cy="442.6" r="5.3" fill="#fff" stroke="#800080" stroke-width="1.4"/><path d="M306.2 442.6H316.8M311.5 437.3V447.9" stroke="#800080" stroke-width="1.2"/>
<circle cx="319.5" cy="443.2" r="5.3" fill="#fff" stroke="#800080" stroke-width="1.4"/><path d="M314.2 443.2H324.8M319.5 437.9V448.5" stroke="#800080" stroke-width="1.2"/>
<circle cx="327.5" cy="442.7" r="5.3" fill="#fff" stroke="#800080" stroke-width="1.4"/><path d="M322.2 442.7H332.8M327.5 437.4V448.0" stroke="#800080" stroke-width="1.2"/>
<circle cx="335.5" cy="445.5" r="5.3" fill="#fff" stroke="#800080" stroke-width="1.4"/><path d="M330.2 445.5H340.8M335.5 440.2V450.8" stroke="#800080" stroke-width="1.2"/>
<circle cx="343.5" cy="443.6" r="5.3" fill="#fff" stroke="#800080" stroke-width="1.4"/><path d="M338.2 443.6H348.8M343.5 438.3V448.9" stroke="#800080" stroke-width="1.2"/>
<circle cx="351.5" cy="444.5" r="5.3" fill="#fff" stroke="#800080" stroke-width="1.4"/><path d="M346.2 444.5H356.8M351.5 439.2V449.8" stroke="#800080" stroke-width="1.2"/>
<circle cx="359.5" cy="446.5" r="5.3" fill="#fff" stroke="#800080" stroke-width="1.4"/><path d="M354.2 446.5H364.8M359.5 441.2V451.8" stroke="#800080" stroke-width="1.2"/>
<circle cx="367.5" cy="449.0" r="5.3" fill="#fff" stroke="#800080" stroke-width="1.4"/><path d="M362.2 449.0H372.8M367.5 443.7V454.3" stroke="#800080" stroke-width="1.2"/>
<circle cx="375.5" cy="442.5" r="5.3" fill="#fff" stroke="#800080" stroke-width="1.4"/><path d="M370.2 442.5H380.8M375.5 437.2V447.8" stroke="#800080" stroke-width="1.2"/>
<circle cx="383.5" cy="446.8" r="5.3" fill="#fff" stroke="#800080" stroke-width="1.4"/><path d="M378.2 446.8H388.8M383.5 441.5V452.1" stroke="#800080" stroke-width="1.2"/>
<circle cx="391.5" cy="448.1" r="5.3" fill="#fff" stroke="#800080" stroke-width="1.4"/><path d="M386.2 448.1H396.8M391.5 442.8V453.4" stroke="#800080" stroke-width="1.2"/>
<circle cx="399.5" cy="446.6" r="5.3" fill="#fff" stroke="#800080" stroke-width="1.4"/><path d="M394.2 446.6H404.8M399.5 441.3V451.9" stroke="#800080" stroke-width="1.2"/>
<circle cx="407.5" cy="448.2" r="5.3" fill="#fff" stroke="#800080" stroke-width="1.4"/><path d="M402.2 448.2H412.8M407.5 442.9V453.5" stroke="#800080" stroke-width="1.2"/>
<circle cx="415.5" cy="444.8" r="5.3" fill="#fff" stroke="#800080" stroke-width="1.4"/><path d="M410.2 444.8H420.8M415.5 439.5V450.1" stroke="#800080" stroke-width="1.2"/>
<circle cx="423.5" cy="445.9" r="5.3" fill="#fff" stroke="#800080" stroke-width="1.4"/><path d="M418.2 445.9H428.8M423.5 440.6V451.2" stroke="#800080" stroke-width="1.2"/>
<circle cx="431.5" cy="448.0" r="5.3" fill="#fff" stroke="#800080" stroke-width="1.4"/><path d="M426.2 448.0H436.8M431.5 442.7V453.3" stroke="#800080" stroke-width="1.2"/>
<circle cx="439.5" cy="449.2" r="5.3" fill="#fff" stroke="#800080" stroke-width="1.4"/><path d="M434.2 449.2H444.8M439.5 443.9V454.5" stroke="#800080" stroke-width="1.2"/>
<circle cx="447.5" cy="445.7" r="5.3" fill="#fff" stroke="#800080" stroke-width="1.4"/><path d="M442.2 445.7H452.8M447.5 440.4V451.0" stroke="#800080" stroke-width="1.2"/>
<circle cx="455.5" cy="447.8" r="5.3" fill="#fff" stroke="#800080" stroke-width="1.4"/><path d="M450.2 447.8H460.8M455.5 442.5V453.1" stroke="#800080" stroke-width="1.2"/>
<circle cx="463.5" cy="440.8" r="5.3" fill="#fff" stroke="#800080" stroke-width="1.4"/><path d="M458.2 440.8H468.8M463.5 435.5V446.1" stroke="#800080" stroke-width="1.2"/>
<circle cx="471.5" cy="439.3" r="5.3" fill="#fff" stroke="#800080" stroke-width="1.4"/><path d="M466.2 439.3H476.8M471.5 434.0V444.6" stroke="#800080" stroke-width="1.2"/>
<circle cx="479.5" cy="444.3" r="5.3" fill="#fff" stroke="#800080" stroke-width="1.4"/><path d="M474.2 444.3H484.8M479.5 439.0V449.6" stroke="#800080" stroke-width="1.2"/>
<circle cx="487.5" cy="437.5" r="5.3" fill="#fff" stroke="#800080" stroke-width="1.4"/><path d="M482.2 437.5H492.8M487.5 432.2V442.8" stroke="#800080" stroke-width="1.2"/>
<circle cx="495.5" cy="443.1" r="5.3" fill="#fff" stroke="#800080" stroke-width="1.4"/><path d="M490.2 443.1H500.8M495.5 437.8V448.4" stroke="#800080" stroke-width="1.2"/>
<circle cx="503.5" cy="440.5" r="5.3" fill="#fff" stroke="#800080" stroke-width="1.4"/><path d="M498.2 440.5H508.8M503.5 435.2V445.8" stroke="#800080" stroke-width="1.2"/>
<circle cx="511.5" cy="438.5" r="5.3" fill="#fff" stroke="#800080" stroke-width="1.4"/><path d="M506.2 438.5H516.8M511.5 433.2V443.8" stroke="#800080" stroke-width="1.2"/>
<circle cx="519.5" cy="435.7" r="5.3" fill="#fff" stroke="#800080" stroke-width="1.4"/><path d="M514.2 435.7H524.8M519.5 430.4V441.0" stroke="#800080" stroke-width="1.2"/>
<circle cx="527.5" cy="437.7" r="5.3" fill="#fff" stroke="#800080" stroke-width="1.4"/><path d="M522.2 437.7H532.8M527.5 432.4V443.0" stroke="#800080" stroke-width="1.2"/>
<circle cx="531.5" cy="429.0" r="5.3" fill="#fff" stroke="#800080" stroke-width="1.4"/><path d="M526.2 429.0H536.8M531.5 423.7V434.3" stroke="#800080" stroke-width="1.2"/>
<circle cx="535.5" cy="423.3" r="5.3" fill="#fff" stroke="#800080" stroke-width="1.4"/><path d="M530.2 423.3H540.8M535.5 418.0V428.6" stroke="#800080" stroke-width="1.2"/>
<circle cx="539.5" cy="422.3" r="5.3" fill="#fff" stroke="#800080" stroke-width="1.4"/><path d="M534.2 422.3H544.8M539.5 417.0V427.6" stroke="#800080" stroke-width="1.2"/>
<circle cx="543.5" cy="411.3" r="5.3" fill="#fff" stroke="#800080" stroke-width="1.4"/><path d="M538.2 411.3H548.8M543.5 406.0V416.6" stroke="#800080" stroke-width="1.2"/>
<circle cx="547.5" cy="396.3" r="5.3" fill="#fff" stroke="#800080" stroke-width="1.4"/><path d="M542.2 396.3H552.8M547.5 391.0V401.6" stroke="#800080" stroke-width="1.2"/>
<circle cx="551.5" cy="383.1" r="5.3" fill="#fff" stroke="#800080" stroke-width="1.4"/><path d="M546.2 383.1H556.8M551.5 377.8V388.4" stroke="#800080" stroke-width="1.2"/>
<circle cx="555.5" cy="368.2" r="5.3" fill="#fff" stroke="#800080" stroke-width="1.4"/><path d="M550.2 368.2H560.8M555.5 362.9V373.5" stroke="#800080" stroke-width="1.2"/>
<circle cx="559.5" cy="353.5" r="5.3" fill="#fff" stroke="#800080" stroke-width="1.4"/><path d="M554.2 353.5H564.8M559.5 348.2V358.8" stroke="#800080" stroke-width="1.2"/>
<circle cx="563.5" cy="339.2" r="5.3" fill="#fff" stroke="#800080" stroke-width="1.4"/><path d="M558.2 339.2H568.8M563.5 333.9V344.5" stroke="#800080" stroke-width="1.2"/>
<circle cx="567.5" cy="316.9" r="5.3" fill="#fff" stroke="#800080" stroke-width="1.4"/><path d="M562.2 316.9H572.8M567.5 311.6V322.2" stroke="#800080" stroke-width="1.2"/>
<circle cx="571.5" cy="298.8" r="5.3" fill="#fff" stroke="#800080" stroke-width="1.4"/><path d="M566.2 298.8H576.8M571.5 293.5V304.1" stroke="#800080" stroke-width="1.2"/>
<circle cx="575.5" cy="290.4" r="5.3" fill="#fff" stroke="#800080" stroke-width="1.4"/><path d="M570.2 290.4H580.8M575.5 285.1V295.7" stroke="#800080" stroke-width="1.2"/>
<circle cx="579.5" cy="274.0" r="5.3" fill="#fff" stroke="#800080" stroke-width="1.4"/><path d="M574.2 274.0H584.8M579.5 268.7V279.3" stroke="#800080" stroke-width="1.2"/>
<circle cx="583.5" cy="259.9" r="5.3" fill="#fff" stroke="#800080" stroke-width="1.4"/><path d="M578.2 259.9H588.8M583.5 254.6V265.2" stroke="#800080" stroke-width="1.2"/>
<circle cx="587.5" cy="247.3" r="5.3" fill="#fff" stroke="#800080" stroke-width="1.4"/><path d="M582.2 247.3H592.8M587.5 242.0V252.6" stroke="#800080" stroke-width="1.2"/>
<circle cx="591.5" cy="238.9" r="5.3" fill="#fff" stroke="#800080" stroke-width="1.4"/><path d="M586.2 238.9H596.8M591.5 233.6V244.2" stroke="#800080" stroke-width="1.2"/>
<circle cx="595.5" cy="231.2" r="5.3" fill="#fff" stroke="#800080" stroke-width="1.4"/><path d="M590.2 231.2H600.8M595.5 225.9V236.5" stroke="#800080" stroke-width="1.2"/>
<circle cx="599.5" cy="221.7" r="5.3" fill="#fff" stroke="#800080" stroke-width="1.4"/><path d="M594.2 221.7H604.8M599.5 216.4V227.0" stroke="#800080" stroke-width="1.2"/>
<circle cx="603.5" cy="220.8" r="5.3" fill="#fff" stroke="#800080" stroke-width="1.4"/><path d="M598.2 220.8H608.8M603.5 215.5V226.1" stroke="#800080" stroke-width="1.2"/>
<circle cx="607.5" cy="213.9" r="5.3" fill="#fff" stroke="#800080" stroke-width="1.4"/><path d="M602.2 213.9H612.8M607.5 208.6V219.2" stroke="#800080" stroke-width="1.2"/>
<circle cx="611.5" cy="209.6" r="5.3" fill="#fff" stroke="#800080" stroke-width="1.4"/><path d="M606.2 209.6H616.8M611.5 204.3V214.9" stroke="#800080" stroke-width="1.2"/>
<circle cx="615.5" cy="211.1" r="5.3" fill="#fff" stroke="#800080" stroke-width="1.4"/><path d="M610.2 211.1H620.8M615.5 205.8V216.4" stroke="#800080" stroke-width="1.2"/>
<circle cx="623.5" cy="208.4" r="5.3" fill="#fff" stroke="#800080" stroke-width="1.4"/><path d="M618.2 208.4H628.8M623.5 203.1V213.7" stroke="#800080" stroke-width="1.2"/>
<circle cx="631.5" cy="202.1" r="5.3" fill="#fff" stroke="#800080" stroke-width="1.4"/><path d="M626.2 202.1H636.8M631.5 196.8V207.4" stroke="#800080" stroke-width="1.2"/>
<circle cx="639.5" cy="199.9" r="5.3" fill="#fff" stroke="#800080" stroke-width="1.4"/><path d="M634.2 199.9H644.8M639.5 194.6V205.2" stroke="#800080" stroke-width="1.2"/>
<circle cx="647.5" cy="198.1" r="5.3" fill="#fff" stroke="#800080" stroke-width="1.4"/><path d="M642.2 198.1H652.8M647.5 192.8V203.4" stroke="#800080" stroke-width="1.2"/>
<circle cx="655.5" cy="200.4" r="5.3" fill="#fff" stroke="#800080" stroke-width="1.4"/><path d="M650.2 200.4H660.8M655.5 195.1V205.7" stroke="#800080" stroke-width="1.2"/>
<circle cx="663.5" cy="192.4" r="5.3" fill="#fff" stroke="#800080" stroke-width="1.4"/><path d="M658.2 192.4H668.8M663.5 187.1V197.7" stroke="#800080" stroke-width="1.2"/>
<circle cx="671.5" cy="198.3" r="5.3" fill="#fff" stroke="#800080" stroke-width="1.4"/><path d="M666.2 198.3H676.8M671.5 193.0V203.6" stroke="#800080" stroke-width="1.2"/>
<circle cx="679.5" cy="196.3" r="5.3" fill="#fff" stroke="#800080" stroke-width="1.4"/><path d="M674.2 196.3H684.8M679.5 191.0V201.6" stroke="#800080" stroke-width="1.2"/>
<circle cx="687.5" cy="194.5" r="5.3" fill="#fff" stroke="#800080" stroke-width="1.4"/><path d="M682.2 194.5H692.8M687.5 189.2V199.8" stroke="#800080" stroke-width="1.2"/>
<circle cx="695.5" cy="197.6" r="5.3" fill="#fff" stroke="#800080" stroke-width="1.4"/><path d="M690.2 197.6H700.8M695.5 192.3V202.9" stroke="#800080" stroke-width="1.2"/>
<circle cx="703.5" cy="192.8" r="5.3" fill="#fff" stroke="#800080" stroke-width="1.4"/><path d="M698.2 192.8H708.8M703.5 187.5V198.1" stroke="#800080" stroke-width="1.2"/>
<circle cx="711.5" cy="192.4" r="5.3" fill="#fff" stroke="#800080" stroke-width="1.4"/><path d="M706.2 192.4H716.8M711.5 187.1V197.7" stroke="#800080" stroke-width="1.2"/>
<circle cx="719.5" cy="191.5" r="5.3" fill="#fff" stroke="#800080" stroke-width="1.4"/><path d="M714.2 191.5H724.8M719.5 186.2V196.8" stroke="#800080" stroke-width="1.2"/>
<circle cx="727.5" cy="193.6" r="5.3" fill="#fff" stroke="#800080" stroke-width="1.4"/><path d="M722.2 193.6H732.8M727.5 188.3V198.9" stroke="#800080" stroke-width="1.2"/>
<circle cx="735.5" cy="190.4" r="5.3" fill="#fff" stroke="#800080" stroke-width="1.4"/><path d="M730.2 190.4H740.8M735.5 185.1V195.7" stroke="#800080" stroke-width="1.2"/>
<circle cx="743.5" cy="190.1" r="5.3" fill="#fff" stroke="#800080" stroke-width="1.4"/><path d="M738.2 190.1H748.8M743.5 184.8V195.4" stroke="#800080" stroke-width="1.2"/>
<circle cx="751.5" cy="194.5" r="5.3" fill="#fff" stroke="#800080" stroke-width="1.4"/><path d="M746.2 194.5H756.8M751.5 189.2V199.8" stroke="#800080" stroke-width="1.2"/>
<circle cx="759.5" cy="190.9" r="5.3" fill="#fff" stroke="#800080" stroke-width="1.4"/><path d="M754.2 190.9H764.8M759.5 185.6V196.2" stroke="#800080" stroke-width="1.2"/>
<circle cx="767.5" cy="190.4" r="5.3" fill="#fff" stroke="#800080" stroke-width="1.4"/><path d="M762.2 190.4H772.8M767.5 185.1V195.7" stroke="#800080" stroke-width="1.2"/>
<circle cx="775.5" cy="195.6" r="5.3" fill="#fff" stroke="#800080" stroke-width="1.4"/><path d="M770.2 195.6H780.8M775.5 190.3V200.9" stroke="#800080" stroke-width="1.2"/>
<circle cx="783.5" cy="188.8" r="5.3" fill="#fff" stroke="#800080" stroke-width="1.4"/><path d="M778.2 188.8H788.8M783.5 183.5V194.1" stroke="#800080" stroke-width="1.2"/>
<circle cx="791.5" cy="191.2" r="5.3" fill="#fff" stroke="#800080" stroke-width="1.4"/><path d="M786.2 191.2H796.8M791.5 185.9V196.5" stroke="#800080" stroke-width="1.2"/>
<circle cx="799.5" cy="193.3" r="5.3" fill="#fff" stroke="#800080" stroke-width="1.4"/><path d="M794.2 193.3H804.8M799.5 188.0V198.6" stroke="#800080" stroke-width="1.2"/>
<circle cx="807.5" cy="190.4" r="5.3" fill="#fff" stroke="#800080" stroke-width="1.4"/><path d="M802.2 190.4H812.8M807.5 185.1V195.7" stroke="#800080" stroke-width="1.2"/>
<circle cx="815.5" cy="192.1" r="5.3" fill="#fff" stroke="#800080" stroke-width="1.4"/><path d="M810.2 192.1H820.8M815.5 186.8V197.4" stroke="#800080" stroke-width="1.2"/>
<circle cx="823.5" cy="192.6" r="5.3" fill="#fff" stroke="#800080" stroke-width="1.4"/><path d="M818.2 192.6H828.8M823.5 187.3V197.9" stroke="#800080" stroke-width="1.2"/>
<circle cx="831.5" cy="192.3" r="5.3" fill="#fff" stroke="#800080" stroke-width="1.4"/><path d="M826.2 192.3H836.8M831.5 187.0V197.6" stroke="#800080" stroke-width="1.2"/>
<circle cx="839.5" cy="197.2" r="5.3" fill="#fff" stroke="#800080" stroke-width="1.4"/><path d="M834.2 197.2H844.8M839.5 191.9V202.5" stroke="#800080" stroke-width="1.2"/>
<circle cx="847.5" cy="198.1" r="5.3" fill="#fff" stroke="#800080" stroke-width="1.4"/><path d="M842.2 198.1H852.8M847.5 192.8V203.4" stroke="#800080" stroke-width="1.2"/>
<circle cx="855.5" cy="197.5" r="5.3" fill="#fff" stroke="#800080" stroke-width="1.4"/><path d="M850.2 197.5H860.8M855.5 192.2V202.8" stroke="#800080" stroke-width="1.2"/>
<circle cx="863.5" cy="198.8" r="5.3" fill="#fff" stroke="#800080" stroke-width="1.4"/><path d="M858.2 198.8H868.8M863.5 193.5V204.1" stroke="#800080" stroke-width="1.2"/>
<circle cx="871.5" cy="198.1" r="5.3" fill="#fff" stroke="#800080" stroke-width="1.4"/><path d="M866.2 198.1H876.8M871.5 192.8V203.4" stroke="#800080" stroke-width="1.2"/>
<circle cx="879.5" cy="202.4" r="5.3" fill="#fff" stroke="#800080" stroke-width="1.4"/><path d="M874.2 202.4H884.8M879.5 197.1V207.7" stroke="#800080" stroke-width="1.2"/>
<circle cx="887.5" cy="206.6" r="5.3" fill="#fff" stroke="#800080" stroke-width="1.4"/><path d="M882.2 206.6H892.8M887.5 201.3V211.9" stroke="#800080" stroke-width="1.2"/>
<circle cx="895.5" cy="204.5" r="5.3" fill="#fff" stroke="#800080" stroke-width="1.4"/><path d="M890.2 204.5H900.8M895.5 199.2V209.8" stroke="#800080" stroke-width="1.2"/>
<circle cx="903.5" cy="208.8" r="5.3" fill="#fff" stroke="#800080" stroke-width="1.4"/><path d="M898.2 208.8H908.8M903.5 203.5V214.1" stroke="#800080" stroke-width="1.2"/>
<circle cx="911.5" cy="211.6" r="5.3" fill="#fff" stroke="#800080" stroke-width="1.4"/><path d="M906.2 211.6H916.8M911.5 206.3V216.9" stroke="#800080" stroke-width="1.2"/>
<circle cx="919.5" cy="215.4" r="5.3" fill="#fff" stroke="#800080" stroke-width="1.4"/><path d="M914.2 215.4H924.8M919.5 210.1V220.7" stroke="#800080" stroke-width="1.2"/>
<circle cx="927.5" cy="212.7" r="5.3" fill="#fff" stroke="#800080" stroke-width="1.4"/><path d="M922.2 212.7H932.8M927.5 207.4V218.0" stroke="#800080" stroke-width="1.2"/>
<circle cx="935.5" cy="211.4" r="5.3" fill="#fff" stroke="#800080" stroke-width="1.4"/><path d="M930.2 211.4H940.8M935.5 206.1V216.7" stroke="#800080" stroke-width="1.2"/>
<circle cx="943.5" cy="212.7" r="5.3" fill="#fff" stroke="#800080" stroke-width="1.4"/><path d="M938.2 212.7H948.8M943.5 207.4V218.0" stroke="#800080" stroke-width="1.2"/>
<circle cx="951.5" cy="212.1" r="5.3" fill="#fff" stroke="#800080" stroke-width="1.4"/><path d="M946.2 212.1H956.8M951.5 206.8V217.4" stroke="#800080" stroke-width="1.2"/>
<circle cx="959.5" cy="217.0" r="5.3" fill="#fff" stroke="#800080" stroke-width="1.4"/><path d="M954.2 217.0H964.8M959.5 211.7V222.3" stroke="#800080" stroke-width="1.2"/>
<circle cx="967.5" cy="212.0" r="5.3" fill="#fff" stroke="#800080" stroke-width="1.4"/><path d="M962.2 212.0H972.8M967.5 206.7V217.3" stroke="#800080" stroke-width="1.2"/>
<path d="M167.5 408.1L175.5 404.5L183.5 408.0L191.5 407.1L199.5 404.5L207.5 407.0L215.5 409.8L223.5 410.1L231.5 411.8L239.5 410.1L247.5 411.4L255.5 410.6L263.5 411.0L271.5 415.4L279.5 412.6L287.5 411.9L295.5 417.5L303.5 417.2L311.5 414.1L319.5 414.6L327.5 417.6L335.5 417.4L343.5 421.2L351.5 418.1L359.5 421.8L367.5 421.5L375.5 426.2L383.5 426.6L391.5 424.5L399.5 430.3L407.5 428.9L415.5 430.8L423.5 435.5L431.5 434.4L439.5 446.8L447.5 440.7L455.5 455.4L463.5 463.3L471.5 469.8L479.5 471.9L487.5 478.0L495.5 480.4L503.5 477.0L511.5 479.0L519.5 466.3L527.5 456.0L531.5 451.1L535.5 444.9L539.5 438.9L543.5 429.3L547.5 423.5L551.5 406.6L555.5 382.1L559.5 357.6L563.5 338.7L567.5 319.7L571.5 309.4L575.5 292.6L579.5 277.6L583.5 261.5L587.5 245.8L591.5 241.6L595.5 220.3L599.5 207.9L603.5 199.8L607.5 189.9L611.5 182.1L615.5 174.1L623.5 162.7L631.5 162.7L639.5 160.2L647.5 166.1L655.5 166.2L663.5 174.9L671.5 180.8L679.5 195.5L687.5 198.3L695.5 208.0L703.5 207.1L711.5 210.1L719.5 209.8L727.5 216.2L735.5 217.3L743.5 215.6L751.5 214.8L759.5 217.7L767.5 218.0L775.5 216.5L783.5 215.5L791.5 217.4L799.5 217.1L807.5 217.3L815.5 217.5L823.5 216.5L831.5 222.2L839.5 220.6L847.5 223.0L855.5 220.2L863.5 220.5L871.5 220.4L879.5 225.2L887.5 224.9L895.5 229.2L903.5 227.5L911.5 226.7L919.5 228.3L927.5 231.1L935.5 230.9L943.5 233.4L951.5 232.0L959.5 235.8L967.5 235.2" fill="none" stroke="#0000ff" stroke-width="2.4" stroke-linejoin="round"/>
<path d="M167.5 399.4L174.7 411.8L160.3 411.8Z" fill="#fff" stroke="#0000ff" stroke-width="1.3"/><path d="M167.5 399.4L172.7 408.1L162.3 408.1Z" fill="#0000ff"/>
<path d="M175.5 395.9L182.7 408.3L168.3 408.3Z" fill="#fff" stroke="#0000ff" stroke-width="1.3"/><path d="M175.5 395.9L180.7 404.5L170.3 404.5Z" fill="#0000ff"/>
<path d="M183.5 399.3L190.7 411.7L176.3 411.7Z" fill="#fff" stroke="#0000ff" stroke-width="1.3"/><path d="M183.5 399.3L188.7 408.0L178.3 408.0Z" fill="#0000ff"/>
<path d="M191.5 398.4L198.7 410.8L184.3 410.8Z" fill="#fff" stroke="#0000ff" stroke-width="1.3"/><path d="M191.5 398.4L196.7 407.1L186.3 407.1Z" fill="#0000ff"/>
<path d="M199.5 395.8L206.7 408.2L192.3 408.2Z" fill="#fff" stroke="#0000ff" stroke-width="1.3"/><path d="M199.5 395.8L204.7 404.5L194.3 404.5Z" fill="#0000ff"/>
<path d="M207.5 398.4L214.7 410.8L200.3 410.8Z" fill="#fff" stroke="#0000ff" stroke-width="1.3"/><path d="M207.5 398.4L212.7 407.0L202.3 407.0Z" fill="#0000ff"/>
<path d="M215.5 401.2L222.7 413.6L208.3 413.6Z" fill="#fff" stroke="#0000ff" stroke-width="1.3"/><path d="M215.5 401.2L220.7 409.8L210.3 409.8Z" fill="#0000ff"/>
<path d="M223.5 401.5L230.7 413.9L216.3 413.9Z" fill="#fff" stroke="#0000ff" stroke-width="1.3"/><path d="M223.5 401.5L228.7 410.1L218.3 410.1Z" fill="#0000ff"/>
<path d="M231.5 403.1L238.7 415.5L224.3 415.5Z" fill="#fff" stroke="#0000ff" stroke-width="1.3"/><path d="M231.5 403.1L236.7 411.8L226.3 411.8Z" fill="#0000ff"/>
<path d="M239.5 401.4L246.7 413.8L232.3 413.8Z" fill="#fff" stroke="#0000ff" stroke-width="1.3"/><path d="M239.5 401.4L244.7 410.1L234.3 410.1Z" fill="#0000ff"/>
<path d="M247.5 402.8L254.7 415.2L240.3 415.2Z" fill="#fff" stroke="#0000ff" stroke-width="1.3"/><path d="M247.5 402.8L252.7 411.4L242.3 411.4Z" fill="#0000ff"/>
<path d="M255.5 401.9L262.7 414.3L248.3 414.3Z" fill="#fff" stroke="#0000ff" stroke-width="1.3"/><path d="M255.5 401.9L260.7 410.6L250.3 410.6Z" fill="#0000ff"/>
<path d="M263.5 402.3L270.7 414.7L256.3 414.7Z" fill="#fff" stroke="#0000ff" stroke-width="1.3"/><path d="M263.5 402.3L268.7 411.0L258.3 411.0Z" fill="#0000ff"/>
<path d="M271.5 406.7L278.7 419.1L264.3 419.1Z" fill="#fff" stroke="#0000ff" stroke-width="1.3"/><path d="M271.5 406.7L276.7 415.4L266.3 415.4Z" fill="#0000ff"/>
<path d="M279.5 404.0L286.7 416.4L272.3 416.4Z" fill="#fff" stroke="#0000ff" stroke-width="1.3"/><path d="M279.5 404.0L284.7 412.6L274.3 412.6Z" fill="#0000ff"/>
<path d="M287.5 403.3L294.7 415.7L280.3 415.7Z" fill="#fff" stroke="#0000ff" stroke-width="1.3"/><path d="M287.5 403.3L292.7 411.9L282.3 411.9Z" fill="#0000ff"/>
<path d="M295.5 408.8L302.7 421.2L288.3 421.2Z" fill="#fff" stroke="#0000ff" stroke-width="1.3"/><path d="M295.5 408.8L300.7 417.5L290.3 417.5Z" fill="#0000ff"/>
<path d="M303.5 408.5L310.7 420.9L296.3 420.9Z" fill="#fff" stroke="#0000ff" stroke-width="1.3"/><path d="M303.5 408.5L308.7 417.2L298.3 417.2Z" fill="#0000ff"/>
<path d="M311.5 405.5L318.7 417.9L304.3 417.9Z" fill="#fff" stroke="#0000ff" stroke-width="1.3"/><path d="M311.5 405.5L316.7 414.1L306.3 414.1Z" fill="#0000ff"/>
<path d="M319.5 405.9L326.7 418.3L312.3 418.3Z" fill="#fff" stroke="#0000ff" stroke-width="1.3"/><path d="M319.5 405.9L324.7 414.6L314.3 414.6Z" fill="#0000ff"/>
<path d="M327.5 408.9L334.7 421.3L320.3 421.3Z" fill="#fff" stroke="#0000ff" stroke-width="1.3"/><path d="M327.5 408.9L332.7 417.6L322.3 417.6Z" fill="#0000ff"/>
<path d="M335.5 408.7L342.7 421.1L328.3 421.1Z" fill="#fff" stroke="#0000ff" stroke-width="1.3"/><path d="M335.5 408.7L340.7 417.4L330.3 417.4Z" fill="#0000ff"/>
<path d="M343.5 412.5L350.7 424.9L336.3 424.9Z" fill="#fff" stroke="#0000ff" stroke-width="1.3"/><path d="M343.5 412.5L348.7 421.2L338.3 421.2Z" fill="#0000ff"/>
<path d="M351.5 409.5L358.7 421.9L344.3 421.9Z" fill="#fff" stroke="#0000ff" stroke-width="1.3"/><path d="M351.5 409.5L356.7 418.1L346.3 418.1Z" fill="#0000ff"/>
<path d="M359.5 413.2L366.7 425.6L352.3 425.6Z" fill="#fff" stroke="#0000ff" stroke-width="1.3"/><path d="M359.5 413.2L364.7 421.8L354.3 421.8Z" fill="#0000ff"/>
<path d="M367.5 412.8L374.7 425.2L360.3 425.2Z" fill="#fff" stroke="#0000ff" stroke-width="1.3"/><path d="M367.5 412.8L372.7 421.5L362.3 421.5Z" fill="#0000ff"/>
<path d="M375.5 417.5L382.7 429.9L368.3 429.9Z" fill="#fff" stroke="#0000ff" stroke-width="1.3"/><path d="M375.5 417.5L380.7 426.2L370.3 426.2Z" fill="#0000ff"/>
<path d="M383.5 418.0L390.7 430.4L376.3 430.4Z" fill="#fff" stroke="#0000ff" stroke-width="1.3"/><path d="M383.5 418.0L388.7 426.6L378.3 426.6Z" fill="#0000ff"/>
<path d="M391.5 415.8L398.7 428.2L384.3 428.2Z" fill="#fff" stroke="#0000ff" stroke-width="1.3"/><path d="M391.5 415.8L396.7 424.5L386.3 424.5Z" fill="#0000ff"/>
<path d="M399.5 421.6L406.7 434.0L392.3 434.0Z" fill="#fff" stroke="#0000ff" stroke-width="1.3"/><path d="M399.5 421.6L404.7 430.3L394.3 430.3Z" fill="#0000ff"/>
<path d="M407.5 420.2L414.7 432.6L400.3 432.6Z" fill="#fff" stroke="#0000ff" stroke-width="1.3"/><path d="M407.5 420.2L412.7 428.9L402.3 428.9Z" fill="#0000ff"/>
<path d="M415.5 422.1L422.7 434.5L408.3 434.5Z" fill="#fff" stroke="#0000ff" stroke-width="1.3"/><path d="M415.5 422.1L420.7 430.8L410.3 430.8Z" fill="#0000ff"/>
<path d="M423.5 426.9L430.7 439.3L416.3 439.3Z" fill="#fff" stroke="#0000ff" stroke-width="1.3"/><path d="M423.5 426.9L428.7 435.5L418.3 435.5Z" fill="#0000ff"/>
<path d="M431.5 425.7L438.7 438.1L424.3 438.1Z" fill="#fff" stroke="#0000ff" stroke-width="1.3"/><path d="M431.5 425.7L436.7 434.4L426.3 434.4Z" fill="#0000ff"/>
<path d="M439.5 438.1L446.7 450.5L432.3 450.5Z" fill="#fff" stroke="#0000ff" stroke-width="1.3"/><path d="M439.5 438.1L444.7 446.8L434.3 446.8Z" fill="#0000ff"/>
<path d="M447.5 432.0L454.7 444.4L440.3 444.4Z" fill="#fff" stroke="#0000ff" stroke-width="1.3"/><path d="M447.5 432.0L452.7 440.7L442.3 440.7Z" fill="#0000ff"/>
<path d="M455.5 446.8L462.7 459.2L448.3 459.2Z" fill="#fff" stroke="#0000ff" stroke-width="1.3"/><path d="M455.5 446.8L460.7 455.4L450.3 455.4Z" fill="#0000ff"/>
<path d="M463.5 454.6L470.7 467.0L456.3 467.0Z" fill="#fff" stroke="#0000ff" stroke-width="1.3"/><path d="M463.5 454.6L468.7 463.3L458.3 463.3Z" fill="#0000ff"/>
<path d="M471.5 461.1L478.7 473.5L464.3 473.5Z" fill="#fff" stroke="#0000ff" stroke-width="1.3"/><path d="M471.5 461.1L476.7 469.8L466.3 469.8Z" fill="#0000ff"/>
<path d="M479.5 463.3L486.7 475.7L472.3 475.7Z" fill="#fff" stroke="#0000ff" stroke-width="1.3"/><path d="M479.5 463.3L484.7 471.9L474.3 471.9Z" fill="#0000ff"/>
<path d="M487.5 469.4L494.7 481.8L480.3 481.8Z" fill="#fff" stroke="#0000ff" stroke-width="1.3"/><path d="M487.5 469.4L492.7 478.0L482.3 478.0Z" fill="#0000ff"/>
<path d="M495.5 471.7L502.7 484.1L488.3 484.1Z" fill="#fff" stroke="#0000ff" stroke-width="1.3"/><path d="M495.5 471.7L500.7 480.4L490.3 480.4Z" fill="#0000ff"/>
<path d="M503.5 468.3L510.7 480.7L496.3 480.7Z" fill="#fff" stroke="#0000ff" stroke-width="1.3"/><path d="M503.5 468.3L508.7 477.0L498.3 477.0Z" fill="#0000ff"/>
<path d="M511.5 470.3L518.7 482.7L504.3 482.7Z" fill="#fff" stroke="#0000ff" stroke-width="1.3"/><path d="M511.5 470.3L516.7 479.0L506.3 479.0Z" fill="#0000ff"/>
<path d="M519.5 457.6L526.7 470.0L512.3 470.0Z" fill="#fff" stroke="#0000ff" stroke-width="1.3"/><path d="M519.5 457.6L524.7 466.3L514.3 466.3Z" fill="#0000ff"/>
<path d="M527.5 447.3L534.7 459.7L520.3 459.7Z" fill="#fff" stroke="#0000ff" stroke-width="1.3"/><path d="M527.5 447.3L532.7 456.0L522.3 456.0Z" fill="#0000ff"/>
<path d="M531.5 442.4L538.7 454.8L524.3 454.8Z" fill="#fff" stroke="#0000ff" stroke-width="1.3"/><path d="M531.5 442.4L536.7 451.1L526.3 451.1Z" fill="#0000ff"/>
<path d="M535.5 436.2L542.7 448.6L528.3 448.6Z" fill="#fff" stroke="#0000ff" stroke-width="1.3"/><path d="M535.5 436.2L540.7 444.9L530.3 444.9Z" fill="#0000ff"/>
<path d="M539.5 430.3L546.7 442.7L532.3 442.7Z" fill="#fff" stroke="#0000ff" stroke-width="1.3"/><path d="M539.5 430.3L544.7 438.9L534.3 438.9Z" fill="#0000ff"/>
<path d="M543.5 420.7L550.7 433.1L536.3 433.1Z" fill="#fff" stroke="#0000ff" stroke-width="1.3"/><path d="M543.5 420.7L548.7 429.3L538.3 429.3Z" fill="#0000ff"/>
<path d="M547.5 414.8L554.7 427.2L540.3 427.2Z" fill="#fff" stroke="#0000ff" stroke-width="1.3"/><path d="M547.5 414.8L552.7 423.5L542.3 423.5Z" fill="#0000ff"/>
<path d="M551.5 397.9L558.7 410.3L544.3 410.3Z" fill="#fff" stroke="#0000ff" stroke-width="1.3"/><path d="M551.5 397.9L556.7 406.6L546.3 406.6Z" fill="#0000ff"/>
<path d="M555.5 373.4L562.7 385.8L548.3 385.8Z" fill="#fff" stroke="#0000ff" stroke-width="1.3"/><path d="M555.5 373.4L560.7 382.1L550.3 382.1Z" fill="#0000ff"/>
<path d="M559.5 348.9L566.7 361.3L552.3 361.3Z" fill="#fff" stroke="#0000ff" stroke-width="1.3"/><path d="M559.5 348.9L564.7 357.6L554.3 357.6Z" fill="#0000ff"/>
<path d="M563.5 330.0L570.7 342.4L556.3 342.4Z" fill="#fff" stroke="#0000ff" stroke-width="1.3"/><path d="M563.5 330.0L568.7 338.7L558.3 338.7Z" fill="#0000ff"/>
<path d="M567.5 311.0L574.7 323.4L560.3 323.4Z" fill="#fff" stroke="#0000ff" stroke-width="1.3"/><path d="M567.5 311.0L572.7 319.7L562.3 319.7Z" fill="#0000ff"/>
<path d="M571.5 300.7L578.7 313.1L564.3 313.1Z" fill="#fff" stroke="#0000ff" stroke-width="1.3"/><path d="M571.5 300.7L576.7 309.4L566.3 309.4Z" fill="#0000ff"/>
<path d="M575.5 284.0L582.7 296.4L568.3 296.4Z" fill="#fff" stroke="#0000ff" stroke-width="1.3"/><path d="M575.5 284.0L580.7 292.6L570.3 292.6Z" fill="#0000ff"/>
<path d="M579.5 268.9L586.7 281.3L572.3 281.3Z" fill="#fff" stroke="#0000ff" stroke-width="1.3"/><path d="M579.5 268.9L584.7 277.6L574.3 277.6Z" fill="#0000ff"/>
<path d="M583.5 252.9L590.7 265.3L576.3 265.3Z" fill="#fff" stroke="#0000ff" stroke-width="1.3"/><path d="M583.5 252.9L588.7 261.5L578.3 261.5Z" fill="#0000ff"/>
<path d="M587.5 237.1L594.7 249.5L580.3 249.5Z" fill="#fff" stroke="#0000ff" stroke-width="1.3"/><path d="M587.5 237.1L592.7 245.8L582.3 245.8Z" fill="#0000ff"/>
<path d="M591.5 233.0L598.7 245.4L584.3 245.4Z" fill="#fff" stroke="#0000ff" stroke-width="1.3"/><path d="M591.5 233.0L596.7 241.6L586.3 241.6Z" fill="#0000ff"/>
<path d="M595.5 211.6L602.7 224.0L588.3 224.0Z" fill="#fff" stroke="#0000ff" stroke-width="1.3"/><path d="M595.5 211.6L600.7 220.3L590.3 220.3Z" fill="#0000ff"/>
<path d="M599.5 199.2L606.7 211.6L592.3 211.6Z" fill="#fff" stroke="#0000ff" stroke-width="1.3"/><path d="M599.5 199.2L604.7 207.9L594.3 207.9Z" fill="#0000ff"/>
<path d="M603.5 191.1L610.7 203.5L596.3 203.5Z" fill="#fff" stroke="#0000ff" stroke-width="1.3"/><path d="M603.5 191.1L608.7 199.8L598.3 199.8Z" fill="#0000ff"/>
<path d="M607.5 181.2L614.7 193.6L600.3 193.6Z" fill="#fff" stroke="#0000ff" stroke-width="1.3"/><path d="M607.5 181.2L612.7 189.9L602.3 189.9Z" fill="#0000ff"/>
<path d="M611.5 173.4L618.7 185.8L604.3 185.8Z" fill="#fff" stroke="#0000ff" stroke-width="1.3"/><path d="M611.5 173.4L616.7 182.1L606.3 182.1Z" fill="#0000ff"/>
<path d="M615.5 165.5L622.7 177.9L608.3 177.9Z" fill="#fff" stroke="#0000ff" stroke-width="1.3"/><path d="M615.5 165.5L620.7 174.1L610.3 174.1Z" fill="#0000ff"/>
<path d="M623.5 154.0L630.7 166.4L616.3 166.4Z" fill="#fff" stroke="#0000ff" stroke-width="1.3"/><path d="M623.5 154.0L628.7 162.7L618.3 162.7Z" fill="#0000ff"/>
<path d="M631.5 154.1L638.7 166.5L624.3 166.5Z" fill="#fff" stroke="#0000ff" stroke-width="1.3"/><path d="M631.5 154.1L636.7 162.7L626.3 162.7Z" fill="#0000ff"/>
<path d="M639.5 151.6L646.7 164.0L632.3 164.0Z" fill="#fff" stroke="#0000ff" stroke-width="1.3"/><path d="M639.5 151.6L644.7 160.2L634.3 160.2Z" fill="#0000ff"/>
<path d="M647.5 157.4L654.7 169.8L640.3 169.8Z" fill="#fff" stroke="#0000ff" stroke-width="1.3"/><path d="M647.5 157.4L652.7 166.1L642.3 166.1Z" fill="#0000ff"/>
<path d="M655.5 157.6L662.7 170.0L648.3 170.0Z" fill="#fff" stroke="#0000ff" stroke-width="1.3"/><path d="M655.5 157.6L660.7 166.2L650.3 166.2Z" fill="#0000ff"/>
<path d="M663.5 166.2L670.7 178.6L656.3 178.6Z" fill="#fff" stroke="#0000ff" stroke-width="1.3"/><path d="M663.5 166.2L668.7 174.9L658.3 174.9Z" fill="#0000ff"/>
<path d="M671.5 172.2L678.7 184.6L664.3 184.6Z" fill="#fff" stroke="#0000ff" stroke-width="1.3"/><path d="M671.5 172.2L676.7 180.8L666.3 180.8Z" fill="#0000ff"/>
<path d="M679.5 186.9L686.7 199.3L672.3 199.3Z" fill="#fff" stroke="#0000ff" stroke-width="1.3"/><path d="M679.5 186.9L684.7 195.5L674.3 195.5Z" fill="#0000ff"/>
<path d="M687.5 189.6L694.7 202.0L680.3 202.0Z" fill="#fff" stroke="#0000ff" stroke-width="1.3"/><path d="M687.5 189.6L692.7 198.3L682.3 198.3Z" fill="#0000ff"/>
<path d="M695.5 199.3L702.7 211.7L688.3 211.7Z" fill="#fff" stroke="#0000ff" stroke-width="1.3"/><path d="M695.5 199.3L700.7 208.0L690.3 208.0Z" fill="#0000ff"/>
<path d="M703.5 198.4L710.7 210.8L696.3 210.8Z" fill="#fff" stroke="#0000ff" stroke-width="1.3"/><path d="M703.5 198.4L708.7 207.1L698.3 207.1Z" fill="#0000ff"/>
<path d="M711.5 201.5L718.7 213.9L704.3 213.9Z" fill="#fff" stroke="#0000ff" stroke-width="1.3"/><path d="M711.5 201.5L716.7 210.1L706.3 210.1Z" fill="#0000ff"/>
<path d="M719.5 201.1L726.7 213.5L712.3 213.5Z" fill="#fff" stroke="#0000ff" stroke-width="1.3"/><path d="M719.5 201.1L724.7 209.8L714.3 209.8Z" fill="#0000ff"/>
<path d="M727.5 207.6L734.7 220.0L720.3 220.0Z" fill="#fff" stroke="#0000ff" stroke-width="1.3"/><path d="M727.5 207.6L732.7 216.2L722.3 216.2Z" fill="#0000ff"/>
<path d="M735.5 208.6L742.7 221.0L728.3 221.0Z" fill="#fff" stroke="#0000ff" stroke-width="1.3"/><path d="M735.5 208.6L740.7 217.3L730.3 217.3Z" fill="#0000ff"/>
<path d="M743.5 207.0L750.7 219.4L736.3 219.4Z" fill="#fff" stroke="#0000ff" stroke-width="1.3"/><path d="M743.5 207.0L748.7 215.6L738.3 215.6Z" fill="#0000ff"/>
<path d="M751.5 206.1L758.7 218.5L744.3 218.5Z" fill="#fff" stroke="#0000ff" stroke-width="1.3"/><path d="M751.5 206.1L756.7 214.8L746.3 214.8Z" fill="#0000ff"/>
<path d="M759.5 209.1L766.7 221.5L752.3 221.5Z" fill="#fff" stroke="#0000ff" stroke-width="1.3"/><path d="M759.5 209.1L764.7 217.7L754.3 217.7Z" fill="#0000ff"/>
<path d="M767.5 209.4L774.7 221.8L760.3 221.8Z" fill="#fff" stroke="#0000ff" stroke-width="1.3"/><path d="M767.5 209.4L772.7 218.0L762.3 218.0Z" fill="#0000ff"/>
<path d="M775.5 207.8L782.7 220.2L768.3 220.2Z" fill="#fff" stroke="#0000ff" stroke-width="1.3"/><path d="M775.5 207.8L780.7 216.5L770.3 216.5Z" fill="#0000ff"/>
<path d="M783.5 206.9L790.7 219.3L776.3 219.3Z" fill="#fff" stroke="#0000ff" stroke-width="1.3"/><path d="M783.5 206.9L788.7 215.5L778.3 215.5Z" fill="#0000ff"/>
<path d="M791.5 208.7L798.7 221.1L784.3 221.1Z" fill="#fff" stroke="#0000ff" stroke-width="1.3"/><path d="M791.5 208.7L796.7 217.4L786.3 217.4Z" fill="#0000ff"/>
<path d="M799.5 208.5L806.7 220.9L792.3 220.9Z" fill="#fff" stroke="#0000ff" stroke-width="1.3"/><path d="M799.5 208.5L804.7 217.1L794.3 217.1Z" fill="#0000ff"/>
<path d="M807.5 208.6L814.7 221.0L800.3 221.0Z" fill="#fff" stroke="#0000ff" stroke-width="1.3"/><path d="M807.5 208.6L812.7 217.3L802.3 217.3Z" fill="#0000ff"/>
<path d="M815.5 208.8L822.7 221.2L808.3 221.2Z" fill="#fff" stroke="#0000ff" stroke-width="1.3"/><path d="M815.5 208.8L820.7 217.5L810.3 217.5Z" fill="#0000ff"/>
<path d="M823.5 207.8L830.7 220.2L816.3 220.2Z" fill="#fff" stroke="#0000ff" stroke-width="1.3"/><path d="M823.5 207.8L828.7 216.5L818.3 216.5Z" fill="#0000ff"/>
<path d="M831.5 213.5L838.7 225.9L824.3 225.9Z" fill="#fff" stroke="#0000ff" stroke-width="1.3"/><path d="M831.5 213.5L836.7 222.2L826.3 222.2Z" fill="#0000ff"/>
<path d="M839.5 211.9L846.7 224.3L832.3 224.3Z" fill="#fff" stroke="#0000ff" stroke-width="1.3"/><path d="M839.5 211.9L844.7 220.6L834.3 220.6Z" fill="#0000ff"/>
<path d="M847.5 214.3L854.7 226.7L840.3 226.7Z" fill="#fff" stroke="#0000ff" stroke-width="1.3"/><path d="M847.5 214.3L852.7 223.0L842.3 223.0Z" fill="#0000ff"/>
<path d="M855.5 211.6L862.7 224.0L848.3 224.0Z" fill="#fff" stroke="#0000ff" stroke-width="1.3"/><path d="M855.5 211.6L860.7 220.2L850.3 220.2Z" fill="#0000ff"/>
<path d="M863.5 211.9L870.7 224.3L856.3 224.3Z" fill="#fff" stroke="#0000ff" stroke-width="1.3"/><path d="M863.5 211.9L868.7 220.5L858.3 220.5Z" fill="#0000ff"/>
<path d="M871.5 211.7L878.7 224.1L864.3 224.1Z" fill="#fff" stroke="#0000ff" stroke-width="1.3"/><path d="M871.5 211.7L876.7 220.4L866.3 220.4Z" fill="#0000ff"/>
<path d="M879.5 216.5L886.7 228.9L872.3 228.9Z" fill="#fff" stroke="#0000ff" stroke-width="1.3"/><path d="M879.5 216.5L884.7 225.2L874.3 225.2Z" fill="#0000ff"/>
<path d="M887.5 216.2L894.7 228.6L880.3 228.6Z" fill="#fff" stroke="#0000ff" stroke-width="1.3"/><path d="M887.5 216.2L892.7 224.9L882.3 224.9Z" fill="#0000ff"/>
<path d="M895.5 220.5L902.7 232.9L888.3 232.9Z" fill="#fff" stroke="#0000ff" stroke-width="1.3"/><path d="M895.5 220.5L900.7 229.2L890.3 229.2Z" fill="#0000ff"/>
<path d="M903.5 218.8L910.7 231.2L896.3 231.2Z" fill="#fff" stroke="#0000ff" stroke-width="1.3"/><path d="M903.5 218.8L908.7 227.5L898.3 227.5Z" fill="#0000ff"/>
<path d="M911.5 218.0L918.7 230.4L904.3 230.4Z" fill="#fff" stroke="#0000ff" stroke-width="1.3"/><path d="M911.5 218.0L916.7 226.7L906.3 226.7Z" fill="#0000ff"/>
<path d="M919.5 219.7L926.7 232.1L912.3 232.1Z" fill="#fff" stroke="#0000ff" stroke-width="1.3"/><path d="M919.5 219.7L924.7 228.3L914.3 228.3Z" fill="#0000ff"/>
<path d="M927.5 222.4L934.7 234.8L920.3 234.8Z" fill="#fff" stroke="#0000ff" stroke-width="1.3"/><path d="M927.5 222.4L932.7 231.1L922.3 231.1Z" fill="#0000ff"/>
<path d="M935.5 222.3L942.7 234.7L928.3 234.7Z" fill="#fff" stroke="#0000ff" stroke-width="1.3"/><path d="M935.5 222.3L940.7 230.9L930.3 230.9Z" fill="#0000ff"/>
<path d="M943.5 224.7L950.7 237.1L936.3 237.1Z" fill="#fff" stroke="#0000ff" stroke-width="1.3"/><path d="M943.5 224.7L948.7 233.4L938.3 233.4Z" fill="#0000ff"/>
<path d="M951.5 223.3L958.7 235.7L944.3 235.7Z" fill="#fff" stroke="#0000ff" stroke-width="1.3"/><path d="M951.5 223.3L956.7 232.0L946.3 232.0Z" fill="#0000ff"/>
<path d="M959.5 227.1L966.7 239.5L952.3 239.5Z" fill="#fff" stroke="#0000ff" stroke-width="1.3"/><path d="M959.5 227.1L964.7 235.8L954.3 235.8Z" fill="#0000ff"/>
<path d="M967.5 226.5L974.7 238.9L960.3 238.9Z" fill="#fff" stroke="#0000ff" stroke-width="1.3"/><path d="M967.5 226.5L972.7 235.2L962.3 235.2Z" fill="#0000ff"/>
<path d="M167.5 373.8L175.5 361.1L183.5 363.5L191.5 357.7L199.5 367.3L207.5 369.6L215.5 368.3L223.5 366.9L231.5 366.6L239.5 368.4L247.5 366.8L255.5 368.8L263.5 375.5L271.5 367.7L279.5 371.9L287.5 376.5L295.5 375.5L303.5 385.4L311.5 376.0L319.5 375.6L327.5 377.4L335.5 375.3L343.5 379.1L351.5 377.8L359.5 378.8L367.5 378.3L375.5 377.4L383.5 374.4L391.5 378.3L399.5 376.1L407.5 376.6L415.5 380.4L423.5 377.2L431.5 379.8L439.5 378.7L447.5 381.2L455.5 375.9L463.5 382.8L471.5 391.1L479.5 391.4L487.5 396.0L495.5 398.9L503.5 401.5L511.5 395.3L519.5 391.9L527.5 386.6L531.5 379.9L535.5 376.5L539.5 378.6L543.5 374.5L547.5 361.2L551.5 360.3L555.5 346.7L559.5 341.1L563.5 325.9L567.5 317.4L571.5 308.2L575.5 302.3L579.5 289.9L583.5 269.6L587.5 272.6L591.5 268.2L595.5 264.4L599.5 256.8L603.5 251.4L607.5 249.6L611.5 242.0L615.5 249.5L623.5 239.6L631.5 240.3L639.5 246.1L647.5 246.0L655.5 244.1L663.5 244.3L671.5 242.6L679.5 253.9L687.5 253.3L695.5 259.5L703.5 258.8L711.5 263.7L719.5 257.4L727.5 263.4L735.5 262.9L743.5 262.1L751.5 261.5L759.5 260.1L767.5 262.0L775.5 256.1L783.5 264.6L791.5 263.7L799.5 266.3L807.5 265.6L815.5 267.5L823.5 262.2L831.5 269.0L839.5 270.2L847.5 268.4L855.5 264.7L863.5 266.2L871.5 274.7L879.5 271.7L887.5 270.7L895.5 273.3L903.5 272.5L911.5 271.1L919.5 272.5L927.5 273.8L935.5 272.7L943.5 270.0L951.5 271.1L959.5 275.3L967.5 278.8" fill="none" stroke="#ff8000" stroke-width="2.4" stroke-linejoin="round"/>
<circle cx="167.5" cy="373.8" r="5.9" fill="#fff" stroke="#ff8000" stroke-width="1.3"/>
<circle cx="175.5" cy="361.1" r="5.9" fill="#fff" stroke="#ff8000" stroke-width="1.3"/>
<circle cx="183.5" cy="363.5" r="5.9" fill="#fff" stroke="#ff8000" stroke-width="1.3"/>
<circle cx="191.5" cy="357.7" r="5.9" fill="#fff" stroke="#ff8000" stroke-width="1.3"/>
<circle cx="199.5" cy="367.3" r="5.9" fill="#fff" stroke="#ff8000" stroke-width="1.3"/>
<circle cx="207.5" cy="369.6" r="5.9" fill="#fff" stroke="#ff8000" stroke-width="1.3"/>
<circle cx="215.5" cy="368.3" r="5.9" fill="#fff" stroke="#ff8000" stroke-width="1.3"/>
<circle cx="223.5" cy="366.9" r="5.9" fill="#fff" stroke="#ff8000" stroke-width="1.3"/>
<circle cx="231.5" cy="366.6" r="5.9" fill="#fff" stroke="#ff8000" stroke-width="1.3"/>
<circle cx="239.5" cy="368.4" r="5.9" fill="#fff" stroke="#ff8000" stroke-width="1.3"/>
<circle cx="247.5" cy="366.8" r="5.9" fill="#fff" stroke="#ff8000" stroke-width="1.3"/>
<circle cx="255.5" cy="368.8" r="5.9" fill="#fff" stroke="#ff8000" stroke-width="1.3"/>
<circle cx="263.5" cy="375.5" r="5.9" fill="#fff" stroke="#ff8000" stroke-width="1.3"/>
<circle cx="271.5" cy="367.7" r="5.9" fill="#fff" stroke="#ff8000" stroke-width="1.3"/>
<circle cx="279.5" cy="371.9" r="5.9" fill="#fff" stroke="#ff8000" stroke-width="1.3"/>
<circle cx="287.5" cy="376.5" r="5.9" fill="#fff" stroke="#ff8000" stroke-width="1.3"/>
<circle cx="295.5" cy="375.5" r="5.9" fill="#fff" stroke="#ff8000" stroke-width="1.3"/>
<circle cx="303.5" cy="385.4" r="5.9" fill="#fff" stroke="#ff8000" stroke-width="1.3"/>
<circle cx="311.5" cy="376.0" r="5.9" fill="#fff" stroke="#ff8000" stroke-width="1.3"/>
<circle cx="319.5" cy="375.6" r="5.9" fill="#fff" stroke="#ff8000" stroke-width="1.3"/>
<circle cx="327.5" cy="377.4" r="5.9" fill="#fff" stroke="#ff8000" stroke-width="1.3"/>
<circle cx="335.5" cy="375.3" r="5.9" fill="#fff" stroke="#ff8000" stroke-width="1.3"/>
<circle cx="343.5" cy="379.1" r="5.9" fill="#fff" stroke="#ff8000" stroke-width="1.3"/>
<circle cx="351.5" cy="377.8" r="5.9" fill="#fff" stroke="#ff8000" stroke-width="1.3"/>
<circle cx="359.5" cy="378.8" r="5.9" fill="#fff" stroke="#ff8000" stroke-width="1.3"/>
<circle cx="367.5" cy="378.3" r="5.9" fill="#fff" stroke="#ff8000" stroke-width="1.3"/>
<circle cx="375.5" cy="377.4" r="5.9" fill="#fff" stroke="#ff8000" stroke-width="1.3"/>
<circle cx="383.5" cy="374.4" r="5.9" fill="#fff" stroke="#ff8000" stroke-width="1.3"/>
<circle cx="391.5" cy="378.3" r="5.9" fill="#fff" stroke="#ff8000" stroke-width="1.3"/>
<circle cx="399.5" cy="376.1" r="5.9" fill="#fff" stroke="#ff8000" stroke-width="1.3"/>
<circle cx="407.5" cy="376.6" r="5.9" fill="#fff" stroke="#ff8000" stroke-width="1.3"/>
<circle cx="415.5" cy="380.4" r="5.9" fill="#fff" stroke="#ff8000" stroke-width="1.3"/>
<circle cx="423.5" cy="377.2" r="5.9" fill="#fff" stroke="#ff8000" stroke-width="1.3"/>
<circle cx="431.5" cy="379.8" r="5.9" fill="#fff" stroke="#ff8000" stroke-width="1.3"/>
<circle cx="439.5" cy="378.7" r="5.9" fill="#fff" stroke="#ff8000" stroke-width="1.3"/>
<circle cx="447.5" cy="381.2" r="5.9" fill="#fff" stroke="#ff8000" stroke-width="1.3"/>
<circle cx="455.5" cy="375.9" r="5.9" fill="#fff" stroke="#ff8000" stroke-width="1.3"/>
<circle cx="463.5" cy="382.8" r="5.9" fill="#fff" stroke="#ff8000" stroke-width="1.3"/>
<circle cx="471.5" cy="391.1" r="5.9" fill="#fff" stroke="#ff8000" stroke-width="1.3"/>
<circle cx="479.5" cy="391.4" r="5.9" fill="#fff" stroke="#ff8000" stroke-width="1.3"/>
<circle cx="487.5" cy="396.0" r="5.9" fill="#fff" stroke="#ff8000" stroke-width="1.3"/>
<circle cx="495.5" cy="398.9" r="5.9" fill="#fff" stroke="#ff8000" stroke-width="1.3"/>
<circle cx="503.5" cy="401.5" r="5.9" fill="#fff" stroke="#ff8000" stroke-width="1.3"/>
<circle cx="511.5" cy="395.3" r="5.9" fill="#fff" stroke="#ff8000" stroke-width="1.3"/>
<circle cx="519.5" cy="391.9" r="5.9" fill="#fff" stroke="#ff8000" stroke-width="1.3"/>
<circle cx="527.5" cy="386.6" r="5.9" fill="#fff" stroke="#ff8000" stroke-width="1.3"/>
<circle cx="531.5" cy="379.9" r="5.9" fill="#fff" stroke="#ff8000" stroke-width="1.3"/>
<circle cx="535.5" cy="376.5" r="5.9" fill="#fff" stroke="#ff8000" stroke-width="1.3"/>
<circle cx="539.5" cy="378.6" r="5.9" fill="#fff" stroke="#ff8000" stroke-width="1.3"/>
<circle cx="543.5" cy="374.5" r="5.9" fill="#fff" stroke="#ff8000" stroke-width="1.3"/>
<circle cx="547.5" cy="361.2" r="5.9" fill="#fff" stroke="#ff8000" stroke-width="1.3"/>
<circle cx="551.5" cy="360.3" r="5.9" fill="#fff" stroke="#ff8000" stroke-width="1.3"/>
<circle cx="555.5" cy="346.7" r="5.9" fill="#fff" stroke="#ff8000" stroke-width="1.3"/>
<circle cx="559.5" cy="341.1" r="5.9" fill="#fff" stroke="#ff8000" stroke-width="1.3"/>
<circle cx="563.5" cy="325.9" r="5.9" fill="#fff" stroke="#ff8000" stroke-width="1.3"/>
<circle cx="567.5" cy="317.4" r="5.9" fill="#fff" stroke="#ff8000" stroke-width="1.3"/>
<circle cx="571.5" cy="308.2" r="5.9" fill="#fff" stroke="#ff8000" stroke-width="1.3"/>
<circle cx="575.5" cy="302.3" r="5.9" fill="#fff" stroke="#ff8000" stroke-width="1.3"/>
<circle cx="579.5" cy="289.9" r="5.9" fill="#fff" stroke="#ff8000" stroke-width="1.3"/>
<circle cx="583.5" cy="269.6" r="5.9" fill="#fff" stroke="#ff8000" stroke-width="1.3"/>
<circle cx="587.5" cy="272.6" r="5.9" fill="#fff" stroke="#ff8000" stroke-width="1.3"/>
<circle cx="591.5" cy="268.2" r="5.9" fill="#fff" stroke="#ff8000" stroke-width="1.3"/>
<circle cx="595.5" cy="264.4" r="5.9" fill="#fff" stroke="#ff8000" stroke-width="1.3"/>
<circle cx="599.5" cy="256.8" r="5.9" fill="#fff" stroke="#ff8000" stroke-width="1.3"/>
<circle cx="603.5" cy="251.4" r="5.9" fill="#fff" stroke="#ff8000" stroke-width="1.3"/>
<circle cx="607.5" cy="249.6" r="5.9" fill="#fff" stroke="#ff8000" stroke-width="1.3"/>
<circle cx="611.5" cy="242.0" r="5.9" fill="#fff" stroke="#ff8000" stroke-width="1.3"/>
<circle cx="615.5" cy="249.5" r="5.9" fill="#fff" stroke="#ff8000" stroke-width="1.3"/>
<circle cx="623.5" cy="239.6" r="5.9" fill="#fff" stroke="#ff8000" stroke-width="1.3"/>
<circle cx="631.5" cy="240.3" r="5.9" fill="#fff" stroke="#ff8000" stroke-width="1.3"/>
<circle cx="639.5" cy="246.1" r="5.9" fill="#fff" stroke="#ff8000" stroke-width="1.3"/>
<circle cx="647.5" cy="246.0" r="5.9" fill="#fff" stroke="#ff8000" stroke-width="1.3"/>
<circle cx="655.5" cy="244.1" r="5.9" fill="#fff" stroke="#ff8000" stroke-width="1.3"/>
<circle cx="663.5" cy="244.3" r="5.9" fill="#fff" stroke="#ff8000" stroke-width="1.3"/>
<circle cx="671.5" cy="242.6" r="5.9" fill="#fff" stroke="#ff8000" stroke-width="1.3"/>
<circle cx="679.5" cy="253.9" r="5.9" fill="#fff" stroke="#ff8000" stroke-width="1.3"/>
<circle cx="687.5" cy="253.3" r="5.9" fill="#fff" stroke="#ff8000" stroke-width="1.3"/>
<circle cx="695.5" cy="259.5" r="5.9" fill="#fff" stroke="#ff8000" stroke-width="1.3"/>
<circle cx="703.5" cy="258.8" r="5.9" fill="#fff" stroke="#ff8000" stroke-width="1.3"/>
<circle cx="711.5" cy="263.7" r="5.9" fill="#fff" stroke="#ff8000" stroke-width="1.3"/>
<circle cx="719.5" cy="257.4" r="5.9" fill="#fff" stroke="#ff8000" stroke-width="1.3"/>
<circle cx="727.5" cy="263.4" r="5.9" fill="#fff" stroke="#ff8000" stroke-width="1.3"/>
<circle cx="735.5" cy="262.9" r="5.9" fill="#fff" stroke="#ff8000" stroke-width="1.3"/>
<circle cx="743.5" cy="262.1" r="5.9" fill="#fff" stroke="#ff8000" stroke-width="1.3"/>
<circle cx="751.5" cy="261.5" r="5.9" fill="#fff" stroke="#ff8000" stroke-width="1.3"/>
<circle cx="759.5" cy="260.1" r="5.9" fill="#fff" stroke="#ff8000" stroke-width="1.3"/>
<circle cx="767.5" cy="262.0" r="5.9" fill="#fff" stroke="#ff8000" stroke-width="1.3"/>
<circle cx="775.5" cy="256.1" r="5.9" fill="#fff" stroke="#ff8000" stroke-width="1.3"/>
<circle cx="783.5" cy="264.6" r="5.9" fill="#fff" stroke="#ff8000" stroke-width="1.3"/>
<circle cx="791.5" cy="263.7" r="5.9" fill="#fff" stroke="#ff8000" stroke-width="1.3"/>
<circle cx="799.5" cy="266.3" r="5.9" fill="#fff" stroke="#ff8000" stroke-width="1.3"/>
<circle cx="807.5" cy="265.6" r="5.9" fill="#fff" stroke="#ff8000" stroke-width="1.3"/>
<circle cx="815.5" cy="267.5" r="5.9" fill="#fff" stroke="#ff8000" stroke-width="1.3"/>
<circle cx="823.5" cy="262.2" r="5.9" fill="#fff" stroke="#ff8000" stroke-width="1.3"/>
<circle cx="831.5" cy="269.0" r="5.9" fill="#fff" stroke="#ff8000" stroke-width="1.3"/>
<circle cx="839.5" cy="270.2" r="5.9" fill="#fff" stroke="#ff8000" stroke-width="1.3"/>
<circle cx="847.5" cy="268.4" r="5.9" fill="#fff" stroke="#ff8000" stroke-width="1.3"/>
<circle cx="855.5" cy="264.7" r="5.9" fill="#fff" stroke="#ff8000" stroke-width="1.3"/>
<circle cx="863.5" cy="266.2" r="5.9" fill="#fff" stroke="#ff8000" stroke-width="1.3"/>
<circle cx="871.5" cy="274.7" r="5.9" fill="#fff" stroke="#ff8000" stroke-width="1.3"/>
<circle cx="879.5" cy="271.7" r="5.9" fill="#fff" stroke="#ff8000" stroke-width="1.3"/>
<circle cx="887.5" cy="270.7" r="5.9" fill="#fff" stroke="#ff8000" stroke-width="1.3"/>
<circle cx="895.5" cy="273.3" r="5.9" fill="#fff" stroke="#ff8000" stroke-width="1.3"/>
<circle cx="903.5" cy="272.5" r="5.9" fill="#fff" stroke="#ff8000" stroke-width="1.3"/>
<circle cx="911.5" cy="271.1" r="5.9" fill="#fff" stroke="#ff8000" stroke-width="1.3"/>
<circle cx="919.5" cy="272.5" r="5.9" fill="#fff" stroke="#ff8000" stroke-width="1.3"/>
<circle cx="927.5" cy="273.8" r="5.9" fill="#fff" stroke="#ff8000" stroke-width="1.3"/>
<circle cx="935.5" cy="272.7" r="5.9" fill="#fff" stroke="#ff8000" stroke-width="1.3"/>
<circle cx="943.5" cy="270.0" r="5.9" fill="#fff" stroke="#ff8000" stroke-width="1.3"/>
<circle cx="951.5" cy="271.1" r="5.9" fill="#fff" stroke="#ff8000" stroke-width="1.3"/>
<circle cx="959.5" cy="275.3" r="5.9" fill="#fff" stroke="#ff8000" stroke-width="1.3"/>
<circle cx="967.5" cy="278.8" r="5.9" fill="#fff" stroke="#ff8000" stroke-width="1.3"/>
<path d="M167.5 333.9L175.5 352.7L183.5 359.4L191.5 351.2L199.5 350.1L207.5 353.2L215.5 358.5L223.5 353.2L231.5 358.3L239.5 366.2L247.5 360.0L255.5 366.5L263.5 361.4L271.5 353.4L279.5 355.1L287.5 366.3L295.5 363.3L303.5 368.8L311.5 364.9L319.5 377.2L327.5 367.3L335.5 372.9L343.5 374.2L351.5 374.2L359.5 374.7L367.5 376.1L375.5 378.4L383.5 374.3L391.5 373.6L399.5 376.3L407.5 384.8L415.5 384.2L423.5 387.8L431.5 394.2L439.5 399.6L447.5 403.6L455.5 410.2L463.5 414.2L471.5 416.9L479.5 416.7L487.5 417.7L495.5 421.6L503.5 419.3L511.5 421.6L519.5 423.0L527.5 420.7L531.5 413.5L535.5 412.5L539.5 400.0L543.5 388.9L547.5 377.5L551.5 369.8L555.5 358.9L559.5 337.8L563.5 317.6L567.5 305.0L571.5 284.8L575.5 272.2L579.5 267.9L583.5 251.5L587.5 237.9L591.5 235.5L595.5 229.7L599.5 224.2L603.5 217.4L607.5 216.8L611.5 209.4L615.5 209.2L623.5 203.3L631.5 202.0L639.5 207.5L647.5 214.5L655.5 214.8L663.5 221.7L671.5 225.3L679.5 230.3L687.5 234.8L695.5 238.6L703.5 248.2L711.5 245.3L719.5 253.9L727.5 255.2L735.5 249.0L743.5 255.4L751.5 253.2L759.5 256.9L767.5 254.8L775.5 261.8L783.5 261.3L791.5 259.7L799.5 258.0L807.5 260.7L815.5 267.6L823.5 267.2L831.5 263.8L839.5 265.2L847.5 266.6L855.5 266.5L863.5 267.2L871.5 277.6L879.5 284.0L887.5 275.2L895.5 275.1L903.5 279.9L911.5 279.9L919.5 271.3L927.5 283.1L935.5 278.8L943.5 284.8L951.5 290.9L959.5 299.6L967.5 303.4" fill="none" stroke="#8000ff" stroke-width="2.4" stroke-linejoin="round"/>
<circle cx="167.5" cy="333.9" r="5.6" fill="#fff" stroke="#8000ff" stroke-width="1.3"/><path d="M161.3 333.9A6.2 6.2 0 0 1 173.7 333.9Z" fill="#8000ff"/>
<circle cx="175.5" cy="352.7" r="5.6" fill="#fff" stroke="#8000ff" stroke-width="1.3"/><path d="M169.3 352.7A6.2 6.2 0 0 1 181.7 352.7Z" fill="#8000ff"/>
<circle cx="183.5" cy="359.4" r="5.6" fill="#fff" stroke="#8000ff" stroke-width="1.3"/><path d="M177.3 359.4A6.2 6.2 0 0 1 189.7 359.4Z" fill="#8000ff"/>
<circle cx="191.5" cy="351.2" r="5.6" fill="#fff" stroke="#8000ff" stroke-width="1.3"/><path d="M185.3 351.2A6.2 6.2 0 0 1 197.7 351.2Z" fill="#8000ff"/>
<circle cx="199.5" cy="350.1" r="5.6" fill="#fff" stroke="#8000ff" stroke-width="1.3"/><path d="M193.3 350.1A6.2 6.2 0 0 1 205.7 350.1Z" fill="#8000ff"/>
<circle cx="207.5" cy="353.2" r="5.6" fill="#fff" stroke="#8000ff" stroke-width="1.3"/><path d="M201.3 353.2A6.2 6.2 0 0 1 213.7 353.2Z" fill="#8000ff"/>
<circle cx="215.5" cy="358.5" r="5.6" fill="#fff" stroke="#8000ff" stroke-width="1.3"/><path d="M209.3 358.5A6.2 6.2 0 0 1 221.7 358.5Z" fill="#8000ff"/>
<circle cx="223.5" cy="353.2" r="5.6" fill="#fff" stroke="#8000ff" stroke-width="1.3"/><path d="M217.3 353.2A6.2 6.2 0 0 1 229.7 353.2Z" fill="#8000ff"/>
<circle cx="231.5" cy="358.3" r="5.6" fill="#fff" stroke="#8000ff" stroke-width="1.3"/><path d="M225.3 358.3A6.2 6.2 0 0 1 237.7 358.3Z" fill="#8000ff"/>
<circle cx="239.5" cy="366.2" r="5.6" fill="#fff" stroke="#8000ff" stroke-width="1.3"/><path d="M233.3 366.2A6.2 6.2 0 0 1 245.7 366.2Z" fill="#8000ff"/>
<circle cx="247.5" cy="360.0" r="5.6" fill="#fff" stroke="#8000ff" stroke-width="1.3"/><path d="M241.3 360.0A6.2 6.2 0 0 1 253.7 360.0Z" fill="#8000ff"/>
<circle cx="255.5" cy="366.5" r="5.6" fill="#fff" stroke="#8000ff" stroke-width="1.3"/><path d="M249.3 366.5A6.2 6.2 0 0 1 261.7 366.5Z" fill="#8000ff"/>
<circle cx="263.5" cy="361.4" r="5.6" fill="#fff" stroke="#8000ff" stroke-width="1.3"/><path d="M257.3 361.4A6.2 6.2 0 0 1 269.7 361.4Z" fill="#8000ff"/>
<circle cx="271.5" cy="353.4" r="5.6" fill="#fff" stroke="#8000ff" stroke-width="1.3"/><path d="M265.3 353.4A6.2 6.2 0 0 1 277.7 353.4Z" fill="#8000ff"/>
<circle cx="279.5" cy="355.1" r="5.6" fill="#fff" stroke="#8000ff" stroke-width="1.3"/><path d="M273.3 355.1A6.2 6.2 0 0 1 285.7 355.1Z" fill="#8000ff"/>
<circle cx="287.5" cy="366.3" r="5.6" fill="#fff" stroke="#8000ff" stroke-width="1.3"/><path d="M281.3 366.3A6.2 6.2 0 0 1 293.7 366.3Z" fill="#8000ff"/>
<circle cx="295.5" cy="363.3" r="5.6" fill="#fff" stroke="#8000ff" stroke-width="1.3"/><path d="M289.3 363.3A6.2 6.2 0 0 1 301.7 363.3Z" fill="#8000ff"/>
<circle cx="303.5" cy="368.8" r="5.6" fill="#fff" stroke="#8000ff" stroke-width="1.3"/><path d="M297.3 368.8A6.2 6.2 0 0 1 309.7 368.8Z" fill="#8000ff"/>
<circle cx="311.5" cy="364.9" r="5.6" fill="#fff" stroke="#8000ff" stroke-width="1.3"/><path d="M305.3 364.9A6.2 6.2 0 0 1 317.7 364.9Z" fill="#8000ff"/>
<circle cx="319.5" cy="377.2" r="5.6" fill="#fff" stroke="#8000ff" stroke-width="1.3"/><path d="M313.3 377.2A6.2 6.2 0 0 1 325.7 377.2Z" fill="#8000ff"/>
<circle cx="327.5" cy="367.3" r="5.6" fill="#fff" stroke="#8000ff" stroke-width="1.3"/><path d="M321.3 367.3A6.2 6.2 0 0 1 333.7 367.3Z" fill="#8000ff"/>
<circle cx="335.5" cy="372.9" r="5.6" fill="#fff" stroke="#8000ff" stroke-width="1.3"/><path d="M329.3 372.9A6.2 6.2 0 0 1 341.7 372.9Z" fill="#8000ff"/>
<circle cx="343.5" cy="374.2" r="5.6" fill="#fff" stroke="#8000ff" stroke-width="1.3"/><path d="M337.3 374.2A6.2 6.2 0 0 1 349.7 374.2Z" fill="#8000ff"/>
<circle cx="351.5" cy="374.2" r="5.6" fill="#fff" stroke="#8000ff" stroke-width="1.3"/><path d="M345.3 374.2A6.2 6.2 0 0 1 357.7 374.2Z" fill="#8000ff"/>
<circle cx="359.5" cy="374.7" r="5.6" fill="#fff" stroke="#8000ff" stroke-width="1.3"/><path d="M353.3 374.7A6.2 6.2 0 0 1 365.7 374.7Z" fill="#8000ff"/>
<circle cx="367.5" cy="376.1" r="5.6" fill="#fff" stroke="#8000ff" stroke-width="1.3"/><path d="M361.3 376.1A6.2 6.2 0 0 1 373.7 376.1Z" fill="#8000ff"/>
<circle cx="375.5" cy="378.4" r="5.6" fill="#fff" stroke="#8000ff" stroke-width="1.3"/><path d="M369.3 378.4A6.2 6.2 0 0 1 381.7 378.4Z" fill="#8000ff"/>
<circle cx="383.5" cy="374.3" r="5.6" fill="#fff" stroke="#8000ff" stroke-width="1.3"/><path d="M377.3 374.3A6.2 6.2 0 0 1 389.7 374.3Z" fill="#8000ff"/>
<circle cx="391.5" cy="373.6" r="5.6" fill="#fff" stroke="#8000ff" stroke-width="1.3"/><path d="M385.3 373.6A6.2 6.2 0 0 1 397.7 373.6Z" fill="#8000ff"/>
<circle cx="399.5" cy="376.3" r="5.6" fill="#fff" stroke="#8000ff" stroke-width="1.3"/><path d="M393.3 376.3A6.2 6.2 0 0 1 405.7 376.3Z" fill="#8000ff"/>
<circle cx="407.5" cy="384.8" r="5.6" fill="#fff" stroke="#8000ff" stroke-width="1.3"/><path d="M401.3 384.8A6.2 6.2 0 0 1 413.7 384.8Z" fill="#8000ff"/>
<circle cx="415.5" cy="384.2" r="5.6" fill="#fff" stroke="#8000ff" stroke-width="1.3"/><path d="M409.3 384.2A6.2 6.2 0 0 1 421.7 384.2Z" fill="#8000ff"/>
<circle cx="423.5" cy="387.8" r="5.6" fill="#fff" stroke="#8000ff" stroke-width="1.3"/><path d="M417.3 387.8A6.2 6.2 0 0 1 429.7 387.8Z" fill="#8000ff"/>
<circle cx="431.5" cy="394.2" r="5.6" fill="#fff" stroke="#8000ff" stroke-width="1.3"/><path d="M425.3 394.2A6.2 6.2 0 0 1 437.7 394.2Z" fill="#8000ff"/>
<circle cx="439.5" cy="399.6" r="5.6" fill="#fff" stroke="#8000ff" stroke-width="1.3"/><path d="M433.3 399.6A6.2 6.2 0 0 1 445.7 399.6Z" fill="#8000ff"/>
<circle cx="447.5" cy="403.6" r="5.6" fill="#fff" stroke="#8000ff" stroke-width="1.3"/><path d="M441.3 403.6A6.2 6.2 0 0 1 453.7 403.6Z" fill="#8000ff"/>
<circle cx="455.5" cy="410.2" r="5.6" fill="#fff" stroke="#8000ff" stroke-width="1.3"/><path d="M449.3 410.2A6.2 6.2 0 0 1 461.7 410.2Z" fill="#8000ff"/>
<circle cx="463.5" cy="414.2" r="5.6" fill="#fff" stroke="#8000ff" stroke-width="1.3"/><path d="M457.3 414.2A6.2 6.2 0 0 1 469.7 414.2Z" fill="#8000ff"/>
<circle cx="471.5" cy="416.9" r="5.6" fill="#fff" stroke="#8000ff" stroke-width="1.3"/><path d="M465.3 416.9A6.2 6.2 0 0 1 477.7 416.9Z" fill="#8000ff"/>
<circle cx="479.5" cy="416.7" r="5.6" fill="#fff" stroke="#8000ff" stroke-width="1.3"/><path d="M473.3 416.7A6.2 6.2 0 0 1 485.7 416.7Z" fill="#8000ff"/>
<circle cx="487.5" cy="417.7" r="5.6" fill="#fff" stroke="#8000ff" stroke-width="1.3"/><path d="M481.3 417.7A6.2 6.2 0 0 1 493.7 417.7Z" fill="#8000ff"/>
<circle cx="495.5" cy="421.6" r="5.6" fill="#fff" stroke="#8000ff" stroke-width="1.3"/><path d="M489.3 421.6A6.2 6.2 0 0 1 501.7 421.6Z" fill="#8000ff"/>
<circle cx="503.5" cy="419.3" r="5.6" fill="#fff" stroke="#8000ff" stroke-width="1.3"/><path d="M497.3 419.3A6.2 6.2 0 0 1 509.7 419.3Z" fill="#8000ff"/>
<circle cx="511.5" cy="421.6" r="5.6" fill="#fff" stroke="#8000ff" stroke-width="1.3"/><path d="M505.3 421.6A6.2 6.2 0 0 1 517.7 421.6Z" fill="#8000ff"/>
<circle cx="519.5" cy="423.0" r="5.6" fill="#fff" stroke="#8000ff" stroke-width="1.3"/><path d="M513.3 423.0A6.2 6.2 0 0 1 525.7 423.0Z" fill="#8000ff"/>
<circle cx="527.5" cy="420.7" r="5.6" fill="#fff" stroke="#8000ff" stroke-width="1.3"/><path d="M521.3 420.7A6.2 6.2 0 0 1 533.7 420.7Z" fill="#8000ff"/>
<circle cx="531.5" cy="413.5" r="5.6" fill="#fff" stroke="#8000ff" stroke-width="1.3"/><path d="M525.3 413.5A6.2 6.2 0 0 1 537.7 413.5Z" fill="#8000ff"/>
<circle cx="535.5" cy="412.5" r="5.6" fill="#fff" stroke="#8000ff" stroke-width="1.3"/><path d="M529.3 412.5A6.2 6.2 0 0 1 541.7 412.5Z" fill="#8000ff"/>
<circle cx="539.5" cy="400.0" r="5.6" fill="#fff" stroke="#8000ff" stroke-width="1.3"/><path d="M533.3 400.0A6.2 6.2 0 0 1 545.7 400.0Z" fill="#8000ff"/>
<circle cx="543.5" cy="388.9" r="5.6" fill="#fff" stroke="#8000ff" stroke-width="1.3"/><path d="M537.3 388.9A6.2 6.2 0 0 1 549.7 388.9Z" fill="#8000ff"/>
<circle cx="547.5" cy="377.5" r="5.6" fill="#fff" stroke="#8000ff" stroke-width="1.3"/><path d="M541.3 377.5A6.2 6.2 0 0 1 553.7 377.5Z" fill="#8000ff"/>
<circle cx="551.5" cy="369.8" r="5.6" fill="#fff" stroke="#8000ff" stroke-width="1.3"/><path d="M545.3 369.8A6.2 6.2 0 0 1 557.7 369.8Z" fill="#8000ff"/>
<circle cx="555.5" cy="358.9" r="5.6" fill="#fff" stroke="#8000ff" stroke-width="1.3"/><path d="M549.3 358.9A6.2 6.2 0 0 1 561.7 358.9Z" fill="#8000ff"/>
<circle cx="559.5" cy="337.8" r="5.6" fill="#fff" stroke="#8000ff" stroke-width="1.3"/><path d="M553.3 337.8A6.2 6.2 0 0 1 565.7 337.8Z" fill="#8000ff"/>
<circle cx="563.5" cy="317.6" r="5.6" fill="#fff" stroke="#8000ff" stroke-width="1.3"/><path d="M557.3 317.6A6.2 6.2 0 0 1 569.7 317.6Z" fill="#8000ff"/>
<circle cx="567.5" cy="305.0" r="5.6" fill="#fff" stroke="#8000ff" stroke-width="1.3"/><path d="M561.3 305.0A6.2 6.2 0 0 1 573.7 305.0Z" fill="#8000ff"/>
<circle cx="571.5" cy="284.8" r="5.6" fill="#fff" stroke="#8000ff" stroke-width="1.3"/><path d="M565.3 284.8A6.2 6.2 0 0 1 577.7 284.8Z" fill="#8000ff"/>
<circle cx="575.5" cy="272.2" r="5.6" fill="#fff" stroke="#8000ff" stroke-width="1.3"/><path d="M569.3 272.2A6.2 6.2 0 0 1 581.7 272.2Z" fill="#8000ff"/>
<circle cx="579.5" cy="267.9" r="5.6" fill="#fff" stroke="#8000ff" stroke-width="1.3"/><path d="M573.3 267.9A6.2 6.2 0 0 1 585.7 267.9Z" fill="#8000ff"/>
<circle cx="583.5" cy="251.5" r="5.6" fill="#fff" stroke="#8000ff" stroke-width="1.3"/><path d="M577.3 251.5A6.2 6.2 0 0 1 589.7 251.5Z" fill="#8000ff"/>
<circle cx="587.5" cy="237.9" r="5.6" fill="#fff" stroke="#8000ff" stroke-width="1.3"/><path d="M581.3 237.9A6.2 6.2 0 0 1 593.7 237.9Z" fill="#8000ff"/>
<circle cx="591.5" cy="235.5" r="5.6" fill="#fff" stroke="#8000ff" stroke-width="1.3"/><path d="M585.3 235.5A6.2 6.2 0 0 1 597.7 235.5Z" fill="#8000ff"/>
<circle cx="595.5" cy="229.7" r="5.6" fill="#fff" stroke="#8000ff" stroke-width="1.3"/><path d="M589.3 229.7A6.2 6.2 0 0 1 601.7 229.7Z" fill="#8000ff"/>
<circle cx="599.5" cy="224.2" r="5.6" fill="#fff" stroke="#8000ff" stroke-width="1.3"/><path d="M593.3 224.2A6.2 6.2 0 0 1 605.7 224.2Z" fill="#8000ff"/>
<circle cx="603.5" cy="217.4" r="5.6" fill="#fff" stroke="#8000ff" stroke-width="1.3"/><path d="M597.3 217.4A6.2 6.2 0 0 1 609.7 217.4Z" fill="#8000ff"/>
<circle cx="607.5" cy="216.8" r="5.6" fill="#fff" stroke="#8000ff" stroke-width="1.3"/><path d="M601.3 216.8A6.2 6.2 0 0 1 613.7 216.8Z" fill="#8000ff"/>
<circle cx="611.5" cy="209.4" r="5.6" fill="#fff" stroke="#8000ff" stroke-width="1.3"/><path d="M605.3 209.4A6.2 6.2 0 0 1 617.7 209.4Z" fill="#8000ff"/>
<circle cx="615.5" cy="209.2" r="5.6" fill="#fff" stroke="#8000ff" stroke-width="1.3"/><path d="M609.3 209.2A6.2 6.2 0 0 1 621.7 209.2Z" fill="#8000ff"/>
<circle cx="623.5" cy="203.3" r="5.6" fill="#fff" stroke="#8000ff" stroke-width="1.3"/><path d="M617.3 203.3A6.2 6.2 0 0 1 629.7 203.3Z" fill="#8000ff"/>
<circle cx="631.5" cy="202.0" r="5.6" fill="#fff" stroke="#8000ff" stroke-width="1.3"/><path d="M625.3 202.0A6.2 6.2 0 0 1 637.7 202.0Z" fill="#8000ff"/>
<circle cx="639.5" cy="207.5" r="5.6" fill="#fff" stroke="#8000ff" stroke-width="1.3"/><path d="M633.3 207.5A6.2 6.2 0 0 1 645.7 207.5Z" fill="#8000ff"/>
<circle cx="647.5" cy="214.5" r="5.6" fill="#fff" stroke="#8000ff" stroke-width="1.3"/><path d="M641.3 214.5A6.2 6.2 0 0 1 653.7 214.5Z" fill="#8000ff"/>
<circle cx="655.5" cy="214.8" r="5.6" fill="#fff" stroke="#8000ff" stroke-width="1.3"/><path d="M649.3 214.8A6.2 6.2 0 0 1 661.7 214.8Z" fill="#8000ff"/>
<circle cx="663.5" cy="221.7" r="5.6" fill="#fff" stroke="#8000ff" stroke-width="1.3"/><path d="M657.3 221.7A6.2 6.2 0 0 1 669.7 221.7Z" fill="#8000ff"/>
<circle cx="671.5" cy="225.3" r="5.6" fill="#fff" stroke="#8000ff" stroke-width="1.3"/><path d="M665.3 225.3A6.2 6.2 0 0 1 677.7 225.3Z" fill="#8000ff"/>
<circle cx="679.5" cy="230.3" r="5.6" fill="#fff" stroke="#8000ff" stroke-width="1.3"/><path d="M673.3 230.3A6.2 6.2 0 0 1 685.7 230.3Z" fill="#8000ff"/>
<circle cx="687.5" cy="234.8" r="5.6" fill="#fff" stroke="#8000ff" stroke-width="1.3"/><path d="M681.3 234.8A6.2 6.2 0 0 1 693.7 234.8Z" fill="#8000ff"/>
<circle cx="695.5" cy="238.6" r="5.6" fill="#fff" stroke="#8000ff" stroke-width="1.3"/><path d="M689.3 238.6A6.2 6.2 0 0 1 701.7 238.6Z" fill="#8000ff"/>
<circle cx="703.5" cy="248.2" r="5.6" fill="#fff" stroke="#8000ff" stroke-width="1.3"/><path d="M697.3 248.2A6.2 6.2 0 0 1 709.7 248.2Z" fill="#8000ff"/>
<circle cx="711.5" cy="245.3" r="5.6" fill="#fff" stroke="#8000ff" stroke-width="1.3"/><path d="M705.3 245.3A6.2 6.2 0 0 1 717.7 245.3Z" fill="#8000ff"/>
<circle cx="719.5" cy="253.9" r="5.6" fill="#fff" stroke="#8000ff" stroke-width="1.3"/><path d="M713.3 253.9A6.2 6.2 0 0 1 725.7 253.9Z" fill="#8000ff"/>
<circle cx="727.5" cy="255.2" r="5.6" fill="#fff" stroke="#8000ff" stroke-width="1.3"/><path d="M721.3 255.2A6.2 6.2 0 0 1 733.7 255.2Z" fill="#8000ff"/>
<circle cx="735.5" cy="249.0" r="5.6" fill="#fff" stroke="#8000ff" stroke-width="1.3"/><path d="M729.3 249.0A6.2 6.2 0 0 1 741.7 249.0Z" fill="#8000ff"/>
<circle cx="743.5" cy="255.4" r="5.6" fill="#fff" stroke="#8000ff" stroke-width="1.3"/><path d="M737.3 255.4A6.2 6.2 0 0 1 749.7 255.4Z" fill="#8000ff"/>
<circle cx="751.5" cy="253.2" r="5.6" fill="#fff" stroke="#8000ff" stroke-width="1.3"/><path d="M745.3 253.2A6.2 6.2 0 0 1 757.7 253.2Z" fill="#8000ff"/>
<circle cx="759.5" cy="256.9" r="5.6" fill="#fff" stroke="#8000ff" stroke-width="1.3"/><path d="M753.3 256.9A6.2 6.2 0 0 1 765.7 256.9Z" fill="#8000ff"/>
<circle cx="767.5" cy="254.8" r="5.6" fill="#fff" stroke="#8000ff" stroke-width="1.3"/><path d="M761.3 254.8A6.2 6.2 0 0 1 773.7 254.8Z" fill="#8000ff"/>
<circle cx="775.5" cy="261.8" r="5.6" fill="#fff" stroke="#8000ff" stroke-width="1.3"/><path d="M769.3 261.8A6.2 6.2 0 0 1 781.7 261.8Z" fill="#8000ff"/>
<circle cx="783.5" cy="261.3" r="5.6" fill="#fff" stroke="#8000ff" stroke-width="1.3"/><path d="M777.3 261.3A6.2 6.2 0 0 1 789.7 261.3Z" fill="#8000ff"/>
<circle cx="791.5" cy="259.7" r="5.6" fill="#fff" stroke="#8000ff" stroke-width="1.3"/><path d="M785.3 259.7A6.2 6.2 0 0 1 797.7 259.7Z" fill="#8000ff"/>
<circle cx="799.5" cy="258.0" r="5.6" fill="#fff" stroke="#8000ff" stroke-width="1.3"/><path d="M793.3 258.0A6.2 6.2 0 0 1 805.7 258.0Z" fill="#8000ff"/>
<circle cx="807.5" cy="260.7" r="5.6" fill="#fff" stroke="#8000ff" stroke-width="1.3"/><path d="M801.3 260.7A6.2 6.2 0 0 1 813.7 260.7Z" fill="#8000ff"/>
<circle cx="815.5" cy="267.6" r="5.6" fill="#fff" stroke="#8000ff" stroke-width="1.3"/><path d="M809.3 267.6A6.2 6.2 0 0 1 821.7 267.6Z" fill="#8000ff"/>
<circle cx="823.5" cy="267.2" r="5.6" fill="#fff" stroke="#8000ff" stroke-width="1.3"/><path d="M817.3 267.2A6.2 6.2 0 0 1 829.7 267.2Z" fill="#8000ff"/>
<circle cx="831.5" cy="263.8" r="5.6" fill="#fff" stroke="#8000ff" stroke-width="1.3"/><path d="M825.3 263.8A6.2 6.2 0 0 1 837.7 263.8Z" fill="#8000ff"/>
<circle cx="839.5" cy="265.2" r="5.6" fill="#fff" stroke="#8000ff" stroke-width="1.3"/><path d="M833.3 265.2A6.2 6.2 0 0 1 845.7 265.2Z" fill="#8000ff"/>
<circle cx="847.5" cy="266.6" r="5.6" fill="#fff" stroke="#8000ff" stroke-width="1.3"/><path d="M841.3 266.6A6.2 6.2 0 0 1 853.7 266.6Z" fill="#8000ff"/>
<circle cx="855.5" cy="266.5" r="5.6" fill="#fff" stroke="#8000ff" stroke-width="1.3"/><path d="M849.3 266.5A6.2 6.2 0 0 1 861.7 266.5Z" fill="#8000ff"/>
<circle cx="863.5" cy="267.2" r="5.6" fill="#fff" stroke="#8000ff" stroke-width="1.3"/><path d="M857.3 267.2A6.2 6.2 0 0 1 869.7 267.2Z" fill="#8000ff"/>
<circle cx="871.5" cy="277.6" r="5.6" fill="#fff" stroke="#8000ff" stroke-width="1.3"/><path d="M865.3 277.6A6.2 6.2 0 0 1 877.7 277.6Z" fill="#8000ff"/>
<circle cx="879.5" cy="284.0" r="5.6" fill="#fff" stroke="#8000ff" stroke-width="1.3"/><path d="M873.3 284.0A6.2 6.2 0 0 1 885.7 284.0Z" fill="#8000ff"/>
<circle cx="887.5" cy="275.2" r="5.6" fill="#fff" stroke="#8000ff" stroke-width="1.3"/><path d="M881.3 275.2A6.2 6.2 0 0 1 893.7 275.2Z" fill="#8000ff"/>
<circle cx="895.5" cy="275.1" r="5.6" fill="#fff" stroke="#8000ff" stroke-width="1.3"/><path d="M889.3 275.1A6.2 6.2 0 0 1 901.7 275.1Z" fill="#8000ff"/>
<circle cx="903.5" cy="279.9" r="5.6" fill="#fff" stroke="#8000ff" stroke-width="1.3"/><path d="M897.3 279.9A6.2 6.2 0 0 1 909.7 279.9Z" fill="#8000ff"/>
<circle cx="911.5" cy="279.9" r="5.6" fill="#fff" stroke="#8000ff" stroke-width="1.3"/><path d="M905.3 279.9A6.2 6.2 0 0 1 917.7 279.9Z" fill="#8000ff"/>
<circle cx="919.5" cy="271.3" r="5.6" fill="#fff" stroke="#8000ff" stroke-width="1.3"/><path d="M913.3 271.3A6.2 6.2 0 0 1 925.7 271.3Z" fill="#8000ff"/>
<circle cx="927.5" cy="283.1" r="5.6" fill="#fff" stroke="#8000ff" stroke-width="1.3"/><path d="M921.3 283.1A6.2 6.2 0 0 1 933.7 283.1Z" fill="#8000ff"/>
<circle cx="935.5" cy="278.8" r="5.6" fill="#fff" stroke="#8000ff" stroke-width="1.3"/><path d="M929.3 278.8A6.2 6.2 0 0 1 941.7 278.8Z" fill="#8000ff"/>
<circle cx="943.5" cy="284.8" r="5.6" fill="#fff" stroke="#8000ff" stroke-width="1.3"/><path d="M937.3 284.8A6.2 6.2 0 0 1 949.7 284.8Z" fill="#8000ff"/>
<circle cx="951.5" cy="290.9" r="5.6" fill="#fff" stroke="#8000ff" stroke-width="1.3"/><path d="M945.3 290.9A6.2 6.2 0 0 1 957.7 290.9Z" fill="#8000ff"/>
<circle cx="959.5" cy="299.6" r="5.6" fill="#fff" stroke="#8000ff" stroke-width="1.3"/><path d="M953.3 299.6A6.2 6.2 0 0 1 965.7 299.6Z" fill="#8000ff"/>
<circle cx="967.5" cy="303.4" r="5.6" fill="#fff" stroke="#8000ff" stroke-width="1.3"/><path d="M961.3 303.4A6.2 6.2 0 0 1 973.7 303.4Z" fill="#8000ff"/>
<path d="M167.5 342.3L175.5 349.0L183.5 339.6L191.5 341.6L199.5 342.2L207.5 339.0L215.5 341.9L223.5 343.1L231.5 339.0L239.5 340.3L247.5 343.0L255.5 340.6L263.5 340.8L271.5 342.7L279.5 342.8L287.5 342.1L295.5 350.3L303.5 351.2L311.5 346.3L319.5 342.5L327.5 346.5L335.5 345.5L343.5 346.5L351.5 345.4L359.5 346.9L367.5 347.6L375.5 347.0L383.5 347.2L391.5 348.3L399.5 353.3L407.5 348.8L415.5 349.3L423.5 352.4L431.5 355.8L439.5 354.1L447.5 357.6L455.5 357.1L463.5 362.3L471.5 361.9L479.5 366.2L487.5 368.6L495.5 372.5L503.5 369.3L511.5 364.2L519.5 370.3L527.5 366.0L535.5 359.7L543.5 350.0L551.5 334.1L559.5 322.1L567.5 314.2L575.5 306.3L583.5 296.3L591.5 287.6L599.5 281.2L607.5 277.7L615.5 272.4L623.5 271.8L631.5 268.9L639.5 269.5L647.5 268.3L655.5 266.1L663.5 265.2L671.5 269.3L679.5 278.5L687.5 276.9L695.5 284.2L703.5 283.1L711.5 286.3L719.5 288.8L727.5 287.9L735.5 286.5L743.5 288.5L751.5 289.2L759.5 292.3L767.5 293.3L775.5 294.2L783.5 295.5L791.5 294.7L799.5 295.8L807.5 295.6L815.5 292.8L823.5 294.4L831.5 296.5L839.5 293.8L847.5 293.7L855.5 292.6L863.5 297.9L871.5 295.9L879.5 298.9L887.5 297.3L895.5 299.5L903.5 299.7L911.5 297.8L919.5 300.9L927.5 299.7L935.5 302.6L943.5 297.6L951.5 301.6L959.5 299.9L967.5 297.9" fill="none" stroke="#f00a80" stroke-width="2.4" stroke-linejoin="round"/>
<rect x="162.1" y="336.9" width="10.8" height="10.8" fill="#fff" stroke="#f00a80" stroke-width="1.5"/><rect x="166.5" y="341.5" width="2" height="2" fill="#555"/>
<rect x="170.1" y="343.6" width="10.8" height="10.8" fill="#fff" stroke="#f00a80" stroke-width="1.5"/><rect x="174.5" y="348.2" width="2" height="2" fill="#555"/>
<rect x="178.1" y="334.2" width="10.8" height="10.8" fill="#fff" stroke="#f00a80" stroke-width="1.5"/><rect x="182.5" y="338.8" width="2" height="2" fill="#555"/>
<rect x="186.1" y="336.2" width="10.8" height="10.8" fill="#fff" stroke="#f00a80" stroke-width="1.5"/><rect x="190.5" y="340.8" width="2" height="2" fill="#555"/>
<rect x="194.1" y="336.8" width="10.8" height="10.8" fill="#fff" stroke="#f00a80" stroke-width="1.5"/><rect x="198.5" y="341.4" width="2" height="2" fill="#555"/>
<rect x="202.1" y="333.6" width="10.8" height="10.8" fill="#fff" stroke="#f00a80" stroke-width="1.5"/><rect x="206.5" y="338.2" width="2" height="2" fill="#555"/>
<rect x="210.1" y="336.5" width="10.8" height="10.8" fill="#fff" stroke="#f00a80" stroke-width="1.5"/><rect x="214.5" y="341.1" width="2" height="2" fill="#555"/>
<rect x="218.1" y="337.7" width="10.8" height="10.8" fill="#fff" stroke="#f00a80" stroke-width="1.5"/><rect x="222.5" y="342.3" width="2" height="2" fill="#555"/>
<rect x="226.1" y="333.6" width="10.8" height="10.8" fill="#fff" stroke="#f00a80" stroke-width="1.5"/><rect x="230.5" y="338.2" width="2" height="2" fill="#555"/>
<rect x="234.1" y="334.9" width="10.8" height="10.8" fill="#fff" stroke="#f00a80" stroke-width="1.5"/><rect x="238.5" y="339.5" width="2" height="2" fill="#555"/>
<rect x="242.1" y="337.6" width="10.8" height="10.8" fill="#fff" stroke="#f00a80" stroke-width="1.5"/><rect x="246.5" y="342.2" width="2" height="2" fill="#555"/>
<rect x="250.1" y="335.2" width="10.8" height="10.8" fill="#fff" stroke="#f00a80" stroke-width="1.5"/><rect x="254.5" y="339.8" width="2" height="2" fill="#555"/>
<rect x="258.1" y="335.4" width="10.8" height="10.8" fill="#fff" stroke="#f00a80" stroke-width="1.5"/><rect x="262.5" y="340.0" width="2" height="2" fill="#555"/>
<rect x="266.1" y="337.3" width="10.8" height="10.8" fill="#fff" stroke="#f00a80" stroke-width="1.5"/><rect x="270.5" y="341.9" width="2" height="2" fill="#555"/>
<rect x="274.1" y="337.4" width="10.8" height="10.8" fill="#fff" stroke="#f00a80" stroke-width="1.5"/><rect x="278.5" y="342.0" width="2" height="2" fill="#555"/>
<rect x="282.1" y="336.7" width="10.8" height="10.8" fill="#fff" stroke="#f00a80" stroke-width="1.5"/><rect x="286.5" y="341.3" width="2" height="2" fill="#555"/>
<rect x="290.1" y="344.9" width="10.8" height="10.8" fill="#fff" stroke="#f00a80" stroke-width="1.5"/><rect x="294.5" y="349.5" width="2" height="2" fill="#555"/>
<rect x="298.1" y="345.8" width="10.8" height="10.8" fill="#fff" stroke="#f00a80" stroke-width="1.5"/><rect x="302.5" y="350.4" width="2" height="2" fill="#555"/>
<rect x="306.1" y="340.9" width="10.8" height="10.8" fill="#fff" stroke="#f00a80" stroke-width="1.5"/><rect x="310.5" y="345.5" width="2" height="2" fill="#555"/>
<rect x="314.1" y="337.1" width="10.8" height="10.8" fill="#fff" stroke="#f00a80" stroke-width="1.5"/><rect x="318.5" y="341.7" width="2" height="2" fill="#555"/>
<rect x="322.1" y="341.1" width="10.8" height="10.8" fill="#fff" stroke="#f00a80" stroke-width="1.5"/><rect x="326.5" y="345.7" width="2" height="2" fill="#555"/>
<rect x="330.1" y="340.1" width="10.8" height="10.8" fill="#fff" stroke="#f00a80" stroke-width="1.5"/><rect x="334.5" y="344.7" width="2" height="2" fill="#555"/>
<rect x="338.1" y="341.1" width="10.8" height="10.8" fill="#fff" stroke="#f00a80" stroke-width="1.5"/><rect x="342.5" y="345.7" width="2" height="2" fill="#555"/>
<rect x="346.1" y="340.0" width="10.8" height="10.8" fill="#fff" stroke="#f00a80" stroke-width="1.5"/><rect x="350.5" y="344.6" width="2" height="2" fill="#555"/>
<rect x="354.1" y="341.5" width="10.8" height="10.8" fill="#fff" stroke="#f00a80" stroke-width="1.5"/><rect x="358.5" y="346.1" width="2" height="2" fill="#555"/>
<rect x="362.1" y="342.2" width="10.8" height="10.8" fill="#fff" stroke="#f00a80" stroke-width="1.5"/><rect x="366.5" y="346.8" width="2" height="2" fill="#555"/>
<rect x="370.1" y="341.6" width="10.8" height="10.8" fill="#fff" stroke="#f00a80" stroke-width="1.5"/><rect x="374.5" y="346.2" width="2" height="2" fill="#555"/>
<rect x="378.1" y="341.8" width="10.8" height="10.8" fill="#fff" stroke="#f00a80" stroke-width="1.5"/><rect x="382.5" y="346.4" width="2" height="2" fill="#555"/>
<rect x="386.1" y="342.9" width="10.8" height="10.8" fill="#fff" stroke="#f00a80" stroke-width="1.5"/><rect x="390.5" y="347.5" width="2" height="2" fill="#555"/>
<rect x="394.1" y="347.9" width="10.8" height="10.8" fill="#fff" stroke="#f00a80" stroke-width="1.5"/><rect x="398.5" y="352.5" width="2" height="2" fill="#555"/>
<rect x="402.1" y="343.4" width="10.8" height="10.8" fill="#fff" stroke="#f00a80" stroke-width="1.5"/><rect x="406.5" y="348.0" width="2" height="2" fill="#555"/>
<rect x="410.1" y="343.9" width="10.8" height="10.8" fill="#fff" stroke="#f00a80" stroke-width="1.5"/><rect x="414.5" y="348.5" width="2" height="2" fill="#555"/>
<rect x="418.1" y="347.0" width="10.8" height="10.8" fill="#fff" stroke="#f00a80" stroke-width="1.5"/><rect x="422.5" y="351.6" width="2" height="2" fill="#555"/>
<rect x="426.1" y="350.4" width="10.8" height="10.8" fill="#fff" stroke="#f00a80" stroke-width="1.5"/><rect x="430.5" y="355.0" width="2" height="2" fill="#555"/>
<rect x="434.1" y="348.7" width="10.8" height="10.8" fill="#fff" stroke="#f00a80" stroke-width="1.5"/><rect x="438.5" y="353.3" width="2" height="2" fill="#555"/>
<rect x="442.1" y="352.2" width="10.8" height="10.8" fill="#fff" stroke="#f00a80" stroke-width="1.5"/><rect x="446.5" y="356.8" width="2" height="2" fill="#555"/>
<rect x="450.1" y="351.7" width="10.8" height="10.8" fill="#fff" stroke="#f00a80" stroke-width="1.5"/><rect x="454.5" y="356.3" width="2" height="2" fill="#555"/>
<rect x="458.1" y="356.9" width="10.8" height="10.8" fill="#fff" stroke="#f00a80" stroke-width="1.5"/><rect x="462.5" y="361.5" width="2" height="2" fill="#555"/>
<rect x="466.1" y="356.5" width="10.8" height="10.8" fill="#fff" stroke="#f00a80" stroke-width="1.5"/><rect x="470.5" y="361.1" width="2" height="2" fill="#555"/>
<rect x="474.1" y="360.8" width="10.8" height="10.8" fill="#fff" stroke="#f00a80" stroke-width="1.5"/><rect x="478.5" y="365.4" width="2" height="2" fill="#555"/>
<rect x="482.1" y="363.2" width="10.8" height="10.8" fill="#fff" stroke="#f00a80" stroke-width="1.5"/><rect x="486.5" y="367.8" width="2" height="2" fill="#555"/>
<rect x="490.1" y="367.1" width="10.8" height="10.8" fill="#fff" stroke="#f00a80" stroke-width="1.5"/><rect x="494.5" y="371.7" width="2" height="2" fill="#555"/>
<rect x="498.1" y="363.9" width="10.8" height="10.8" fill="#fff" stroke="#f00a80" stroke-width="1.5"/><rect x="502.5" y="368.5" width="2" height="2" fill="#555"/>
<rect x="506.1" y="358.8" width="10.8" height="10.8" fill="#fff" stroke="#f00a80" stroke-width="1.5"/><rect x="510.5" y="363.4" width="2" height="2" fill="#555"/>
<rect x="514.1" y="364.9" width="10.8" height="10.8" fill="#fff" stroke="#f00a80" stroke-width="1.5"/><rect x="518.5" y="369.5" width="2" height="2" fill="#555"/>
<rect x="522.1" y="360.6" width="10.8" height="10.8" fill="#fff" stroke="#f00a80" stroke-width="1.5"/><rect x="526.5" y="365.2" width="2" height="2" fill="#555"/>
<rect x="530.1" y="354.3" width="10.8" height="10.8" fill="#fff" stroke="#f00a80" stroke-width="1.5"/><rect x="534.5" y="358.9" width="2" height="2" fill="#555"/>
<rect x="538.1" y="344.6" width="10.8" height="10.8" fill="#fff" stroke="#f00a80" stroke-width="1.5"/><rect x="542.5" y="349.2" width="2" height="2" fill="#555"/>
<rect x="546.1" y="328.7" width="10.8" height="10.8" fill="#fff" stroke="#f00a80" stroke-width="1.5"/><rect x="550.5" y="333.3" width="2" height="2" fill="#555"/>
<rect x="554.1" y="316.7" width="10.8" height="10.8" fill="#fff" stroke="#f00a80" stroke-width="1.5"/><rect x="558.5" y="321.3" width="2" height="2" fill="#555"/>
<rect x="562.1" y="308.8" width="10.8" height="10.8" fill="#fff" stroke="#f00a80" stroke-width="1.5"/><rect x="566.5" y="313.4" width="2" height="2" fill="#555"/>
<rect x="570.1" y="300.9" width="10.8" height="10.8" fill="#fff" stroke="#f00a80" stroke-width="1.5"/><rect x="574.5" y="305.5" width="2" height="2" fill="#555"/>
<rect x="578.1" y="290.9" width="10.8" height="10.8" fill="#fff" stroke="#f00a80" stroke-width="1.5"/><rect x="582.5" y="295.5" width="2" height="2" fill="#555"/>
<rect x="586.1" y="282.2" width="10.8" height="10.8" fill="#fff" stroke="#f00a80" stroke-width="1.5"/><rect x="590.5" y="286.8" width="2" height="2" fill="#555"/>
<rect x="594.1" y="275.8" width="10.8" height="10.8" fill="#fff" stroke="#f00a80" stroke-width="1.5"/><rect x="598.5" y="280.4" width="2" height="2" fill="#555"/>
<rect x="602.1" y="272.3" width="10.8" height="10.8" fill="#fff" stroke="#f00a80" stroke-width="1.5"/><rect x="606.5" y="276.9" width="2" height="2" fill="#555"/>
<rect x="610.1" y="267.0" width="10.8" height="10.8" fill="#fff" stroke="#f00a80" stroke-width="1.5"/><rect x="614.5" y="271.6" width="2" height="2" fill="#555"/>
<rect x="618.1" y="266.4" width="10.8" height="10.8" fill="#fff" stroke="#f00a80" stroke-width="1.5"/><rect x="622.5" y="271.0" width="2" height="2" fill="#555"/>
<rect x="626.1" y="263.5" width="10.8" height="10.8" fill="#fff" stroke="#f00a80" stroke-width="1.5"/><rect x="630.5" y="268.1" width="2" height="2" fill="#555"/>
<rect x="634.1" y="264.1" width="10.8" height="10.8" fill="#fff" stroke="#f00a80" stroke-width="1.5"/><rect x="638.5" y="268.7" width="2" height="2" fill="#555"/>
<rect x="642.1" y="262.9" width="10.8" height="10.8" fill="#fff" stroke="#f00a80" stroke-width="1.5"/><rect x="646.5" y="267.5" width="2" height="2" fill="#555"/>
<rect x="650.1" y="260.7" width="10.8" height="10.8" fill="#fff" stroke="#f00a80" stroke-width="1.5"/><rect x="654.5" y="265.3" width="2" height="2" fill="#555"/>
<rect x="658.1" y="259.8" width="10.8" height="10.8" fill="#fff" stroke="#f00a80" stroke-width="1.5"/><rect x="662.5" y="264.4" width="2" height="2" fill="#555"/>
<rect x="666.1" y="263.9" width="10.8" height="10.8" fill="#fff" stroke="#f00a80" stroke-width="1.5"/><rect x="670.5" y="268.5" width="2" height="2" fill="#555"/>
<rect x="674.1" y="273.1" width="10.8" height="10.8" fill="#fff" stroke="#f00a80" stroke-width="1.5"/><rect x="678.5" y="277.7" width="2" height="2" fill="#555"/>
<rect x="682.1" y="271.5" width="10.8" height="10.8" fill="#fff" stroke="#f00a80" stroke-width="1.5"/><rect x="686.5" y="276.1" width="2" height="2" fill="#555"/>
<rect x="690.1" y="278.8" width="10.8" height="10.8" fill="#fff" stroke="#f00a80" stroke-width="1.5"/><rect x="694.5" y="283.4" width="2" height="2" fill="#555"/>
<rect x="698.1" y="277.7" width="10.8" height="10.8" fill="#fff" stroke="#f00a80" stroke-width="1.5"/><rect x="702.5" y="282.3" width="2" height="2" fill="#555"/>
<rect x="706.1" y="280.9" width="10.8" height="10.8" fill="#fff" stroke="#f00a80" stroke-width="1.5"/><rect x="710.5" y="285.5" width="2" height="2" fill="#555"/>
<rect x="714.1" y="283.4" width="10.8" height="10.8" fill="#fff" stroke="#f00a80" stroke-width="1.5"/><rect x="718.5" y="288.0" width="2" height="2" fill="#555"/>
<rect x="722.1" y="282.5" width="10.8" height="10.8" fill="#fff" stroke="#f00a80" stroke-width="1.5"/><rect x="726.5" y="287.1" width="2" height="2" fill="#555"/>
<rect x="730.1" y="281.1" width="10.8" height="10.8" fill="#fff" stroke="#f00a80" stroke-width="1.5"/><rect x="734.5" y="285.7" width="2" height="2" fill="#555"/>
<rect x="738.1" y="283.1" width="10.8" height="10.8" fill="#fff" stroke="#f00a80" stroke-width="1.5"/><rect x="742.5" y="287.7" width="2" height="2" fill="#555"/>
<rect x="746.1" y="283.8" width="10.8" height="10.8" fill="#fff" stroke="#f00a80" stroke-width="1.5"/><rect x="750.5" y="288.4" width="2" height="2" fill="#555"/>
<rect x="754.1" y="286.9" width="10.8" height="10.8" fill="#fff" stroke="#f00a80" stroke-width="1.5"/><rect x="758.5" y="291.5" width="2" height="2" fill="#555"/>
<rect x="762.1" y="287.9" width="10.8" height="10.8" fill="#fff" stroke="#f00a80" stroke-width="1.5"/><rect x="766.5" y="292.5" width="2" height="2" fill="#555"/>
<rect x="770.1" y="288.8" width="10.8" height="10.8" fill="#fff" stroke="#f00a80" stroke-width="1.5"/><rect x="774.5" y="293.4" width="2" height="2" fill="#555"/>
<rect x="778.1" y="290.1" width="10.8" height="10.8" fill="#fff" stroke="#f00a80" stroke-width="1.5"/><rect x="782.5" y="294.7" width="2" height="2" fill="#555"/>
<rect x="786.1" y="289.3" width="10.8" height="10.8" fill="#fff" stroke="#f00a80" stroke-width="1.5"/><rect x="790.5" y="293.9" width="2" height="2" fill="#555"/>
<rect x="794.1" y="290.4" width="10.8" height="10.8" fill="#fff" stroke="#f00a80" stroke-width="1.5"/><rect x="798.5" y="295.0" width="2" height="2" fill="#555"/>
<rect x="802.1" y="290.2" width="10.8" height="10.8" fill="#fff" stroke="#f00a80" stroke-width="1.5"/><rect x="806.5" y="294.8" width="2" height="2" fill="#555"/>
<rect x="810.1" y="287.4" width="10.8" height="10.8" fill="#fff" stroke="#f00a80" stroke-width="1.5"/><rect x="814.5" y="292.0" width="2" height="2" fill="#555"/>
<rect x="818.1" y="289.0" width="10.8" height="10.8" fill="#fff" stroke="#f00a80" stroke-width="1.5"/><rect x="822.5" y="293.6" width="2" height="2" fill="#555"/>
<rect x="826.1" y="291.1" width="10.8" height="10.8" fill="#fff" stroke="#f00a80" stroke-width="1.5"/><rect x="830.5" y="295.7" width="2" height="2" fill="#555"/>
<rect x="834.1" y="288.4" width="10.8" height="10.8" fill="#fff" stroke="#f00a80" stroke-width="1.5"/><rect x="838.5" y="293.0" width="2" height="2" fill="#555"/>
<rect x="842.1" y="288.3" width="10.8" height="10.8" fill="#fff" stroke="#f00a80" stroke-width="1.5"/><rect x="846.5" y="292.9" width="2" height="2" fill="#555"/>
<rect x="850.1" y="287.2" width="10.8" height="10.8" fill="#fff" stroke="#f00a80" stroke-width="1.5"/><rect x="854.5" y="291.8" width="2" height="2" fill="#555"/>
<rect x="858.1" y="292.5" width="10.8" height="10.8" fill="#fff" stroke="#f00a80" stroke-width="1.5"/><rect x="862.5" y="297.1" width="2" height="2" fill="#555"/>
<rect x="866.1" y="290.5" width="10.8" height="10.8" fill="#fff" stroke="#f00a80" stroke-width="1.5"/><rect x="870.5" y="295.1" width="2" height="2" fill="#555"/>
<rect x="874.1" y="293.5" width="10.8" height="10.8" fill="#fff" stroke="#f00a80" stroke-width="1.5"/><rect x="878.5" y="298.1" width="2" height="2" fill="#555"/>
<rect x="882.1" y="291.9" width="10.8" height="10.8" fill="#fff" stroke="#f00a80" stroke-width="1.5"/><rect x="886.5" y="296.5" width="2" height="2" fill="#555"/>
<rect x="890.1" y="294.1" width="10.8" height="10.8" fill="#fff" stroke="#f00a80" stroke-width="1.5"/><rect x="894.5" y="298.7" width="2" height="2" fill="#555"/>
<rect x="898.1" y="294.3" width="10.8" height="10.8" fill="#fff" stroke="#f00a80" stroke-width="1.5"/><rect x="902.5" y="298.9" width="2" height="2" fill="#555"/>
<rect x="906.1" y="292.4" width="10.8" height="10.8" fill="#fff" stroke="#f00a80" stroke-width="1.5"/><rect x="910.5" y="297.0" width="2" height="2" fill="#555"/>
<rect x="914.1" y="295.5" width="10.8" height="10.8" fill="#fff" stroke="#f00a80" stroke-width="1.5"/><rect x="918.5" y="300.1" width="2" height="2" fill="#555"/>
<rect x="922.1" y="294.3" width="10.8" height="10.8" fill="#fff" stroke="#f00a80" stroke-width="1.5"/><rect x="926.5" y="298.9" width="2" height="2" fill="#555"/>
<rect x="930.1" y="297.2" width="10.8" height="10.8" fill="#fff" stroke="#f00a80" stroke-width="1.5"/><rect x="934.5" y="301.8" width="2" height="2" fill="#555"/>
<rect x="938.1" y="292.2" width="10.8" height="10.8" fill="#fff" stroke="#f00a80" stroke-width="1.5"/><rect x="942.5" y="296.8" width="2" height="2" fill="#555"/>
<rect x="946.1" y="296.2" width="10.8" height="10.8" fill="#fff" stroke="#f00a80" stroke-width="1.5"/><rect x="950.5" y="300.8" width="2" height="2" fill="#555"/>
<rect x="954.1" y="294.5" width="10.8" height="10.8" fill="#fff" stroke="#f00a80" stroke-width="1.5"/><rect x="958.5" y="299.1" width="2" height="2" fill="#555"/>
<rect x="962.1" y="292.5" width="10.8" height="10.8" fill="#fff" stroke="#f00a80" stroke-width="1.5"/><rect x="966.5" y="297.1" width="2" height="2" fill="#555"/>
<path d="M167.5 348.1L175.5 346.3L183.5 346.9L191.5 346.3L199.5 349.0L207.5 347.6L215.5 348.1L223.5 346.6L231.5 349.8L239.5 353.0L247.5 351.4L255.5 349.5L263.5 351.6L271.5 352.5L279.5 351.3L287.5 352.2L295.5 357.1L303.5 353.1L311.5 350.4L319.5 353.7L327.5 357.9L335.5 351.1L343.5 348.9L351.5 349.5L359.5 345.0L367.5 353.2L375.5 353.0L383.5 350.7L391.5 353.0L399.5 351.2L407.5 354.2L415.5 349.5L423.5 359.9L431.5 358.6L439.5 361.4L447.5 361.2L455.5 361.7L463.5 367.7L471.5 377.5L479.5 372.7L487.5 372.3L495.5 375.9L503.5 376.4L511.5 371.6L519.5 372.6L527.5 370.8L531.5 364.5L535.5 365.9L539.5 364.0L543.5 359.1L547.5 360.9L551.5 358.8L555.5 355.1L559.5 356.3L575.5 288.9L579.5 284.9L583.5 283.2L587.5 279.6L591.5 279.4L595.5 278.4L599.5 278.6L603.5 270.9L607.5 273.5L611.5 264.1L615.5 261.1L623.5 267.0L631.5 261.2L639.5 263.0L647.5 263.6L655.5 263.2L663.5 265.3L671.5 268.7L679.5 269.4L687.5 273.5L695.5 272.1L703.5 275.0L711.5 274.9L719.5 281.6L727.5 285.7L735.5 272.8L743.5 282.1L751.5 284.9L759.5 280.5L767.5 284.0L775.5 284.8L783.5 286.9L791.5 287.5L799.5 282.9L807.5 287.5L815.5 285.6L823.5 290.4L831.5 288.0L839.5 289.7L847.5 289.2L855.5 287.1L863.5 289.5L871.5 284.7L879.5 289.0L887.5 291.7L895.5 288.6L903.5 289.4L911.5 297.5L919.5 295.7L927.5 291.2L935.5 288.9L943.5 290.2L951.5 292.7L959.5 292.0L967.5 294.3" fill="none" stroke="#008000" stroke-width="4.5" stroke-linejoin="round"/>
<circle cx="167.5" cy="348.1" r="6.4" fill="#008000"/>
<circle cx="175.5" cy="346.3" r="6.4" fill="#008000"/>
<circle cx="183.5" cy="346.9" r="6.4" fill="#008000"/>
<circle cx="191.5" cy="346.3" r="6.4" fill="#008000"/>
<circle cx="199.5" cy="349.0" r="6.4" fill="#008000"/>
<circle cx="207.5" cy="347.6" r="6.4" fill="#008000"/>
<circle cx="215.5" cy="348.1" r="6.4" fill="#008000"/>
<circle cx="223.5" cy="346.6" r="6.4" fill="#008000"/>
<circle cx="231.5" cy="349.8" r="6.4" fill="#008000"/>
<circle cx="239.5" cy="353.0" r="6.4" fill="#008000"/>
<circle cx="247.5" cy="351.4" r="6.4" fill="#008000"/>
<circle cx="255.5" cy="349.5" r="6.4" fill="#008000"/>
<circle cx="263.5" cy="351.6" r="6.4" fill="#008000"/>
<circle cx="271.5" cy="352.5" r="6.4" fill="#008000"/>
<circle cx="279.5" cy="351.3" r="6.4" fill="#008000"/>
<circle cx="287.5" cy="352.2" r="6.4" fill="#008000"/>
<circle cx="295.5" cy="357.1" r="6.4" fill="#008000"/>
<circle cx="303.5" cy="353.1" r="6.4" fill="#008000"/>
<circle cx="311.5" cy="350.4" r="6.4" fill="#008000"/>
<circle cx="319.5" cy="353.7" r="6.4" fill="#008000"/>
<circle cx="327.5" cy="357.9" r="6.4" fill="#008000"/>
<circle cx="335.5" cy="351.1" r="6.4" fill="#008000"/>
<circle cx="343.5" cy="348.9" r="6.4" fill="#008000"/>
<circle cx="351.5" cy="349.5" r="6.4" fill="#008000"/>
<circle cx="359.5" cy="345.0" r="6.4" fill="#008000"/>
<circle cx="367.5" cy="353.2" r="6.4" fill="#008000"/>
<circle cx="375.5" cy="353.0" r="6.4" fill="#008000"/>
<circle cx="383.5" cy="350.7" r="6.4" fill="#008000"/>
<circle cx="391.5" cy="353.0" r="6.4" fill="#008000"/>
<circle cx="399.5" cy="351.2" r="6.4" fill="#008000"/>
<circle cx="407.5" cy="354.2" r="6.4" fill="#008000"/>
<circle cx="415.5" cy="349.5" r="6.4" fill="#008000"/>
<circle cx="423.5" cy="359.9" r="6.4" fill="#008000"/>
<circle cx="431.5" cy="358.6" r="6.4" fill="#008000"/>
<circle cx="439.5" cy="361.4" r="6.4" fill="#008000"/>
<circle cx="447.5" cy="361.2" r="6.4" fill="#008000"/>
<circle cx="455.5" cy="361.7" r="6.4" fill="#008000"/>
<circle cx="463.5" cy="367.7" r="6.4" fill="#008000"/>
<circle cx="471.5" cy="377.5" r="6.4" fill="#008000"/>
<circle cx="479.5" cy="372.7" r="6.4" fill="#008000"/>
<circle cx="487.5" cy="372.3" r="6.4" fill="#008000"/>
<circle cx="495.5" cy="375.9" r="6.4" fill="#008000"/>
<circle cx="503.5" cy="376.4" r="6.4" fill="#008000"/>
<circle cx="511.5" cy="371.6" r="6.4" fill="#008000"/>
<circle cx="519.5" cy="372.6" r="6.4" fill="#008000"/>
<circle cx="527.5" cy="370.8" r="6.4" fill="#008000"/>
<circle cx="531.5" cy="364.5" r="6.4" fill="#008000"/>
<circle cx="535.5" cy="365.9" r="6.4" fill="#008000"/>
<circle cx="539.5" cy="364.0" r="6.4" fill="#008000"/>
<circle cx="543.5" cy="359.1" r="6.4" fill="#008000"/>
<circle cx="547.5" cy="360.9" r="6.4" fill="#008000"/>
<circle cx="551.5" cy="358.8" r="6.4" fill="#008000"/>
<circle cx="555.5" cy="355.1" r="6.4" fill="#008000"/>
<circle cx="559.5" cy="356.3" r="6.4" fill="#008000"/>
<circle cx="575.5" cy="288.9" r="6.4" fill="#008000"/>
<circle cx="579.5" cy="284.9" r="6.4" fill="#008000"/>
<circle cx="583.5" cy="283.2" r="6.4" fill="#008000"/>
<circle cx="587.5" cy="279.6" r="6.4" fill="#008000"/>
<circle cx="591.5" cy="279.4" r="6.4" fill="#008000"/>
<circle cx="595.5" cy="278.4" r="6.4" fill="#008000"/>
<circle cx="599.5" cy="278.6" r="6.4" fill="#008000"/>
<circle cx="603.5" cy="270.9" r="6.4" fill="#008000"/>
<circle cx="607.5" cy="273.5" r="6.4" fill="#008000"/>
<circle cx="611.5" cy="264.1" r="6.4" fill="#008000"/>
<circle cx="615.5" cy="261.1" r="6.4" fill="#008000"/>
<circle cx="623.5" cy="267.0" r="6.4" fill="#008000"/>
<circle cx="631.5" cy="261.2" r="6.4" fill="#008000"/>
<circle cx="639.5" cy="263.0" r="6.4" fill="#008000"/>
<circle cx="647.5" cy="263.6" r="6.4" fill="#008000"/>
<circle cx="655.5" cy="263.2" r="6.4" fill="#008000"/>
<circle cx="663.5" cy="265.3" r="6.4" fill="#008000"/>
<circle cx="671.5" cy="268.7" r="6.4" fill="#008000"/>
<circle cx="679.5" cy="269.4" r="6.4" fill="#008000"/>
<circle cx="687.5" cy="273.5" r="6.4" fill="#008000"/>
<circle cx="695.5" cy="272.1" r="6.4" fill="#008000"/>
<circle cx="703.5" cy="275.0" r="6.4" fill="#008000"/>
<circle cx="711.5" cy="274.9" r="6.4" fill="#008000"/>
<circle cx="719.5" cy="281.6" r="6.4" fill="#008000"/>
<circle cx="727.5" cy="285.7" r="6.4" fill="#008000"/>
<circle cx="735.5" cy="272.8" r="6.4" fill="#008000"/>
<circle cx="743.5" cy="282.1" r="6.4" fill="#008000"/>
<circle cx="751.5" cy="284.9" r="6.4" fill="#008000"/>
<circle cx="759.5" cy="280.5" r="6.4" fill="#008000"/>
<circle cx="767.5" cy="284.0" r="6.4" fill="#008000"/>
<circle cx="775.5" cy="284.8" r="6.4" fill="#008000"/>
<circle cx="783.5" cy="286.9" r="6.4" fill="#008000"/>
<circle cx="791.5" cy="287.5" r="6.4" fill="#008000"/>
<circle cx="799.5" cy="282.9" r="6.4" fill="#008000"/>
<circle cx="807.5" cy="287.5" r="6.4" fill="#008000"/>
<circle cx="815.5" cy="285.6" r="6.4" fill="#008000"/>
<circle cx="823.5" cy="290.4" r="6.4" fill="#008000"/>
<circle cx="831.5" cy="288.0" r="6.4" fill="#008000"/>
<circle cx="839.5" cy="289.7" r="6.4" fill="#008000"/>
<circle cx="847.5" cy="289.2" r="6.4" fill="#008000"/>
<circle cx="855.5" cy="287.1" r="6.4" fill="#008000"/>
<circle cx="863.5" cy="289.5" r="6.4" fill="#008000"/>
<circle cx="871.5" cy="284.7" r="6.4" fill="#008000"/>
<circle cx="879.5" cy="289.0" r="6.4" fill="#008000"/>
<circle cx="887.5" cy="291.7" r="6.4" fill="#008000"/>
<circle cx="895.5" cy="288.6" r="6.4" fill="#008000"/>
<circle cx="903.5" cy="289.4" r="6.4" fill="#008000"/>
<circle cx="911.5" cy="297.5" r="6.4" fill="#008000"/>
<circle cx="919.5" cy="295.7" r="6.4" fill="#008000"/>
<circle cx="927.5" cy="291.2" r="6.4" fill="#008000"/>
<circle cx="935.5" cy="288.9" r="6.4" fill="#008000"/>
<circle cx="943.5" cy="290.2" r="6.4" fill="#008000"/>
<circle cx="951.5" cy="292.7" r="6.4" fill="#008000"/>
<circle cx="959.5" cy="292.0" r="6.4" fill="#008000"/>
<circle cx="967.5" cy="294.3" r="6.4" fill="#008000"/>
</g>
<path d="M129 598.7H146" stroke="#000" stroke-width="3.2"/>
<path d="M129 552.3H138" stroke="#000" stroke-width="3.2"/>
<path d="M129 505.9H146" stroke="#000" stroke-width="3.2"/>
<path d="M129 459.5H138" stroke="#000" stroke-width="3.2"/>
<path d="M129 413.1H146" stroke="#000" stroke-width="3.2"/>
<path d="M129 366.7H138" stroke="#000" stroke-width="3.2"/>
<path d="M129 320.3H146" stroke="#000" stroke-width="3.2"/>
<path d="M129 273.9H138" stroke="#000" stroke-width="3.2"/>
<path d="M129 227.5H146" stroke="#000" stroke-width="3.2"/>
<path d="M129 181.1H138" stroke="#000" stroke-width="3.2"/>
<path d="M129 134.7H146" stroke="#000" stroke-width="3.2"/>
<path d="M129 88.3H138" stroke="#000" stroke-width="3.2"/>
<path d="M129 41.9H146" stroke="#000" stroke-width="3.2"/>
<path d="M167.5 635H167.5V626" stroke="#000" stroke-width="3.2"/>
<path d="M247.5 635H247.5V618" stroke="#000" stroke-width="3.2"/>
<path d="M327.5 635H327.5V626" stroke="#000" stroke-width="3.2"/>
<path d="M407.5 635H407.5V618" stroke="#000" stroke-width="3.2"/>
<path d="M487.5 635H487.5V626" stroke="#000" stroke-width="3.2"/>
<path d="M567.5 635H567.5V618" stroke="#000" stroke-width="3.2"/>
<path d="M647.5 635H647.5V626" stroke="#000" stroke-width="3.2"/>
<path d="M727.5 635H727.5V618" stroke="#000" stroke-width="3.2"/>
<path d="M807.5 635H807.5V626" stroke="#000" stroke-width="3.2"/>
<path d="M887.5 635H887.5V618" stroke="#000" stroke-width="3.2"/>
<path d="M967.5 635H967.5V626" stroke="#000" stroke-width="3.2"/>
<path d="M128.5 4.4H1008.2" stroke="#000" stroke-width="3" stroke-linecap="square"/>
<path d="M128.5 4.4V635.8" stroke="#000" stroke-width="3.2" stroke-linecap="square"/>
<path d="M128.5 635.8H1008.2" stroke="#000" stroke-width="3.8" stroke-linecap="square"/>
<path d="M1008.2 4.4V635.8" stroke="#000" stroke-width="3.9" stroke-linecap="square"/>
<text x="127" y="611.3" class="tk" text-anchor="end">-150</text>
<text x="127" y="518.5" class="tk" text-anchor="end">-100</text>
<text x="127" y="425.7" class="tk" text-anchor="end">-50</text>
<text x="127" y="332.9" class="tk" text-anchor="end">0</text>
<text x="127" y="240.1" class="tk" text-anchor="end">50</text>
<text x="127" y="147.3" class="tk" text-anchor="end">100</text>
<text x="127" y="54.5" class="tk" text-anchor="end">150</text>
<text x="247.5" y="670" class="tkx" text-anchor="middle">-40</text>
<text x="407.5" y="670" class="tkx" text-anchor="middle">-20</text>
<text x="567.5" y="670" class="tkx" text-anchor="middle">0</text>
<text x="727.5" y="670" class="tkx" text-anchor="middle">20</text>
<text x="887.5" y="670" class="tkx" text-anchor="middle">40</text>
<text transform="translate(507.5 714) scale(1.1 1)" class="ttl" font-style="italic">H</text>
<text x="559" y="714" class="ttl" style="font-size:51px">(kOe)</text>
<text transform="translate(38.7 418) rotate(-90) scale(1.18 1)" class="ttl" font-style="italic">ρ</text>
<text transform="translate(60 393) rotate(-90)" font-size="29" font-style="italic">xy</text>
<text transform="translate(38.7 358) rotate(-90)" class="ttly">(nΩ-cm)</text>
<path d="M257 30.2H334" stroke="#000000" stroke-width="3.6" stroke-linecap="round"/>
<rect x="289.1" y="24.8" width="10.8" height="10.8" fill="#fff" stroke="#000000" stroke-width="1.6"/>
<text x="339.5" y="40.7" class="lg">385</text><text x="397" y="40.7" class="lg">K</text>
<path d="M257 71.4H334" stroke="#ff0000" stroke-width="3.6" stroke-linecap="round"/>
<circle cx="294.5" cy="71.4" r="6.4" fill="#ff0000"/>
<text x="339.5" y="81.9" class="lg">350</text><text x="397" y="81.9" class="lg">K</text>
<path d="M257 112.6H334" stroke="#00ff00" stroke-width="3.6" stroke-linecap="round"/>
<path d="M294.5 104.3L301.7 116.7L287.3 116.7Z" fill="#00ff00"/>
<text x="339.5" y="123.1" class="lg">325</text><text x="397" y="123.1" class="lg">K</text>
<path d="M257 153.8H334" stroke="#0000ff" stroke-width="3.6" stroke-linecap="round"/>
<path d="M294.5 163.1L302.3 149.1L286.7 149.1Z" fill="#0000ff"/>
<text x="339.5" y="164.3" class="lg">300</text><text x="397" y="164.3" class="lg">K</text>
<path d="M257 195.0H334" stroke="#00ffff" stroke-width="3.6" stroke-linecap="round"/>
<path d="M294.5 187.0L301.7 195.0L294.5 203.0L287.3 195.0Z" fill="#00ffff"/>
<text x="339.5" y="205.5" class="lg">280</text><text x="397" y="205.5" class="lg">K</text>
<path d="M257 236.2H334" stroke="#ff00ff" stroke-width="3.6" stroke-linecap="round"/>
<path d="M286.2 236.2L298.7 228.2L298.7 244.2Z" fill="#ff00ff"/>
<text x="339.5" y="246.7" class="lg">260</text><text x="397" y="246.7" class="lg">K</text>
<path d="M257 277.4H334" stroke="#00ff00" stroke-width="3.6" stroke-linecap="round"/>
<path d="M302.2 277.4L290.7 270.5L290.7 284.3Z" fill="#fff" stroke="#00ff00" stroke-width="1.3"/>
<text x="339.5" y="287.9" class="lg">250</text><text x="397" y="287.9" class="lg">K</text>
<path d="M754 334.4H827" stroke="#808000" stroke-width="3.6" stroke-linecap="round"/>
<circle cx="789.5" cy="334.4" r="6.9" fill="#808000"/>
<text x="832" y="344.9" class="lg">240 <tspan dx="1.5">K</tspan></text>
<path d="M754 373.8H827" stroke="#000080" stroke-width="3.6" stroke-linecap="round"/>
<path d="M789.5 366.6L791.1 371.6L796.3 371.6L792.2 374.7L793.7 379.7L789.5 376.6L785.3 379.7L786.8 374.7L782.7 371.6L787.9 371.6Z" fill="#000080"/>
<text x="832" y="384.3" class="lg">230 <tspan dx="1.5">K</tspan></text>
<path d="M754 413.3H827" stroke="#800080" stroke-width="3.6" stroke-linecap="round"/>
<circle cx="789.5" cy="413.3" r="5.3" fill="#fff" stroke="#800080" stroke-width="1.4"/><path d="M784.2 413.3H794.8M789.5 408.0V418.6" stroke="#800080" stroke-width="1.2"/>
<text x="832" y="423.8" class="lg">200 <tspan dx="1.5">K</tspan></text>
<path d="M754 452.7H827" stroke="#0000ff" stroke-width="3.6" stroke-linecap="round"/>
<path d="M789.5 444.0L796.7 456.4L782.3 456.4Z" fill="#fff" stroke="#0000ff" stroke-width="1.3"/><path d="M789.5 444.0L794.7 452.7L784.3 452.7Z" fill="#0000ff"/>
<text x="832" y="463.2" class="lg">150 <tspan dx="1.5">K</tspan></text>
<path d="M754 492.1H827" stroke="#ff8000" stroke-width="3.6" stroke-linecap="round"/>
<circle cx="789.5" cy="492.1" r="5.9" fill="#fff" stroke="#ff8000" stroke-width="1.3"/>
<text x="832" y="502.6" class="lg">100 <tspan dx="1.5">K</tspan></text>
<path d="M754 531.5H827" stroke="#8000ff" stroke-width="3.6" stroke-linecap="round"/>
<circle cx="789.5" cy="531.5" r="5.6" fill="#fff" stroke="#8000ff" stroke-width="1.3"/><path d="M783.3 531.5A6.2 6.2 0 0 1 795.7 531.5Z" fill="#8000ff"/>
<text x="832" y="542.0" class="lg">50 <tspan dx="1.5">K</tspan></text>
<path d="M754 571.0H827" stroke="#f00a80" stroke-width="3.6" stroke-linecap="round"/>
<rect x="784.1" y="565.6" width="10.8" height="10.8" fill="#fff" stroke="#f00a80" stroke-width="1.5"/><rect x="788.5" y="570.2" width="2" height="2" fill="#555"/>
<text x="832" y="581.5" class="lg">20 <tspan dx="1.5">K</tspan></text>
<path d="M754 610.4H827" stroke="#008000" stroke-width="3.6" stroke-linecap="round"/>
<circle cx="789.5" cy="610.4" r="6.4" fill="#008000"/>
<text x="832" y="620.9" class="lg">2 <tspan dx="1.5">K</tspan></text>
</svg></body></html>
